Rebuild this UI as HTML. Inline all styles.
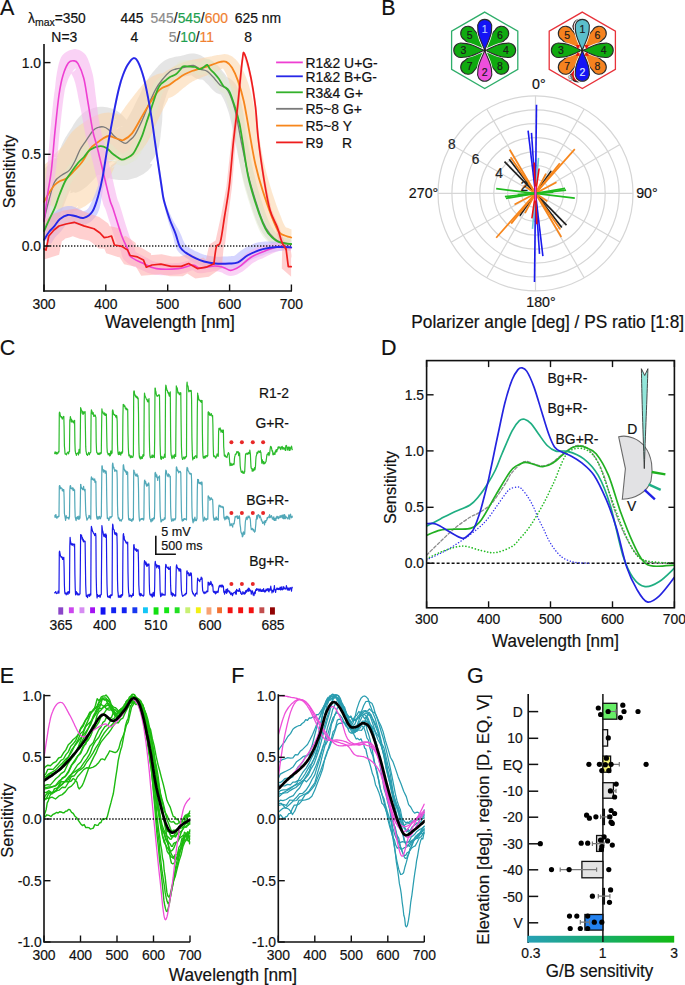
<!DOCTYPE html>
<html><head><meta charset="utf-8"><style>
html,body{margin:0;padding:0;background:#fff;width:685px;height:985px;overflow:hidden}
svg{display:block;font-family:"Liberation Sans", sans-serif}
</style></head><body>
<svg width="685" height="985" viewBox="0 0 685 985">
<rect width="685" height="985" fill="#fff"/>
<text transform="translate(0,14.6) scale(1,1.04)" font-size="21.5" text-anchor="start" fill="#111" stroke="#111" stroke-width="0.18" >A</text>
<text transform="translate(28,23.1) scale(1,1.04)" font-size="13.8" text-anchor="start" fill="#111" stroke="#111" stroke-width="0.18" >&#955;<tspan font-size="10.5" dy="3">max</tspan><tspan dy="-3">=350</tspan></text>
<text transform="translate(132,23.1) scale(1,1.04)" font-size="13.9" text-anchor="middle" fill="#111" stroke="#111" stroke-width="0.18" >445</text>
<text transform="translate(150.6,23.1) scale(1,1.04)" font-size="13.9" text-anchor="start" fill="#111" stroke="#111" stroke-width="0.18" ><tspan fill="#8c8c8c" stroke="#8c8c8c">545</tspan>/<tspan fill="#1fa050" stroke="#1fa050">545</tspan>/<tspan fill="#f08030" stroke="#f08030">600</tspan></text>
<text transform="translate(234.8,23.1) scale(1,1.04)" font-size="13.9" text-anchor="start" fill="#111" stroke="#111" stroke-width="0.18" >625 nm</text>
<text transform="translate(64.3,42) scale(1,1.04)" font-size="13.9" text-anchor="middle" fill="#111" stroke="#111" stroke-width="0.18" >N=3</text>
<text transform="translate(134.3,42) scale(1,1.04)" font-size="13.9" text-anchor="middle" fill="#111" stroke="#111" stroke-width="0.18" >4</text>
<text transform="translate(168.7,42) scale(1,1.04)" font-size="13.9" text-anchor="start" fill="#111" stroke="#111" stroke-width="0.18" ><tspan fill="#8c8c8c" stroke="#8c8c8c">5</tspan>/<tspan fill="#1fa050" stroke="#1fa050">10</tspan>/<tspan fill="#f08030" stroke="#f08030">11</tspan></text>
<text transform="translate(248,42) scale(1,1.04)" font-size="13.9" text-anchor="middle" fill="#111" stroke="#111" stroke-width="0.18" >8</text>
<defs><clipPath id="clipA"><rect x="44" y="40" width="247.5" height="251"/></clipPath></defs>
<g clip-path="url(#clipA)">
<path d="M30.5,216.7 L30.8,215.2 L31.2,213.1 L31.7,210.6 L32.3,207.8 L32.9,204.8 L33.5,201.8 L34.1,198.8 L34.7,196.2 L35.3,193.7 L35.8,191.3 L36.4,188.7 L37.1,186 L37.8,183.3 L38.6,180.5 L39.5,177.7 L40.7,174.8 L42.3,171.8 L44.2,169.1 L46.3,166.8 L48.2,164.9 L49.8,163.6 L50.9,162.6 L51.5,162.1 L52.1,161.4 L53.7,160.2 L55.6,158.9 L57,158 L57.8,157.4 L58,157.2 L57.7,157.2 L56.9,157.6 L56.2,158.1 L55.9,158.3 L56,158.1 L56.2,157.6 L56.6,156.9 L57,156 L57.6,155 L58.1,153.8 L58.6,152.7 L59,151.9 L59.4,151 L59.8,149.8 L60.3,148.4 L61,146.8 L61.7,144.9 L62.6,142.9 L63.6,140.9 L64.6,138.9 L65.6,137.2 L66.6,135.7 L67.5,134.3 L68.3,133 L69.1,131.8 L69.8,130.8 L70.4,129.8 L71.1,128.7 L71.9,127.4 L72.8,125.9 L73.7,124.3 L74.8,122.7 L75.9,121 L77.2,119.3 L78.7,117.4 L80.3,115.7 L82.1,114 L84.1,112.5 L86.2,111.1 L88.2,110.1 L89.8,109.4 L90.9,109 L91.7,108.7 L93,108.2 L94.6,107.7 L96.4,107.3 L98.2,107 L100.2,106.8 L102.3,106.8 L104.6,106.9 L106.9,107.2 L108.9,107.7 L110.9,108.2 L112.9,108.9 L114.8,109.8 L116.6,110.8 L118.3,111.8 L119.9,113 L121.6,114.4 L123.5,116.2 L125,117.9 L126.1,119.3 L126.9,120.3 L127.4,121 L127.7,121.4 L127.7,121.4 L127.6,121.3 L127.6,121.3 L128,121.7 L128.5,122 L129,122.4 L129.5,122.8 L130,123.3 L130.4,123.9 L130.9,124.5 L131.7,125.3 L132.4,126 L132.7,126.5 L132.5,126.6 L131.7,126.4 L130.2,126 L127.7,125.5 L124.3,125.6 L120.7,126.4 L118.2,127.6 L116.9,128.6 L116.4,129.3 L116.4,129.4 L116.9,129.1 L117.8,128.5 L119,127.6 L120.3,126.8 L121.2,126.2 L121.6,126.1 L121.7,126.3 L121.5,126.6 L121.4,127 L121.5,127.1 L121.8,126.8 L122.5,126.1 L123.4,124.9 L124.4,123.3 L125.5,121.6 L126.6,119.8 L127.7,117.9 L128.8,116.1 L129.8,114.4 L130.6,112.9 L131.4,111.4 L132.2,109.9 L133,108.4 L133.8,106.7 L134.6,104.9 L135.6,103 L136.6,101.1 L137.6,99.1 L138.7,97.1 L139.7,94.9 L140.7,92.6 L141.8,90.3 L142.8,88.1 L143.9,86 L144.9,83.9 L145.9,82.1 L146.9,80.4 L147.9,78.9 L148.9,77.5 L149.8,76.1 L150.8,74.9 L151.7,73.7 L152.6,72.5 L153.7,71.2 L154.8,69.9 L156,68.5 L157.2,67.2 L158.4,65.8 L159.7,64.5 L161.1,63.2 L162.6,62 L164.2,60.8 L166,59.7 L167.8,58.9 L169.4,58.3 L170.7,57.9 L171.7,57.7 L172.3,57.6 L173,57.4 L174.1,57.1 L175.4,56.8 L176.5,56.6 L177.5,56.5 L178.4,56.3 L179.3,56.2 L180,56.1 L180.7,56 L181.4,55.8 L182.3,55.5 L183.6,55.2 L185.2,54.7 L187,54.2 L189,53.8 L191.5,53.5 L194.5,53.5 L197.7,54.2 L200.5,55.2 L202.6,56.4 L204.1,57.5 L205,58.2 L205.4,58.5 L205.3,58.4 L204.8,58.2 L204.3,58.1 L204.3,58.1 L204.8,58.3 L205.8,58.5 L207.3,58.9 L209.2,59.5 L211.3,60.5 L213.5,61.7 L215.3,63.2 L216.8,64.5 L218.1,65.8 L219.2,67.1 L220.3,68.3 L221.2,69.4 L222,70.4 L222.7,71.4 L223.6,72.4 L224.5,73.6 L225.2,74.5 L225.8,75.3 L226.2,76 L226.5,76.4 L226.8,76.8 L226.8,76.9 L226.3,76.6 L226.1,76.6 L226.6,76.8 L228,77.5 L230,78.6 L232.3,80.3 L234.5,82.6 L236.2,85.1 L237.3,87.6 L238.2,90.1 L239,92.8 L239.8,95.6 L240.5,98.5 L241.1,101.6 L241.8,104.8 L242.4,108.1 L243,111.5 L243.5,115.2 L244,118.9 L244.5,122.8 L245,126.7 L245.5,130.7 L246,134.8 L246.8,138.8 L247.6,143.1 L248.5,147.6 L249.4,152.3 L250.4,157.1 L251.3,161.8 L252.3,166.3 L253.2,170.6 L254.2,174.6 L255.1,178.3 L256,181.8 L256.9,185.2 L257.8,188.4 L258.7,191.5 L259.6,194.5 L260.5,197.4 L261.4,200.3 L262.3,203.1 L263.2,205.9 L264,208.5 L264.8,211.1 L265.7,213.5 L266.5,215.7 L267.3,217.8 L268.1,219.8 L268.9,221.6 L269.6,223.2 L270.4,224.7 L271.2,226 L271.9,227.3 L272.7,228.4 L273.4,229.6 L274.3,230.7 L275.1,231.7 L275.8,232.6 L276.5,233.4 L277.2,234.1 L277.9,234.7 L278.6,235.2 L279.4,235.8 L280.3,236.3 L281.3,236.7 L282.7,237.2 L284.4,237.7 L286.2,238.2 L288,238.6 L289.7,239 L291.2,239.4 L292.3,239.6 L290.1,249.4 L289.1,249.2 L287.7,248.9 L285.9,248.6 L284,248.2 L281.9,247.7 L279.8,247.2 L277.7,246.5 L275.7,245.7 L274.1,244.9 L272.6,244 L271.3,243 L270,242 L268.9,240.9 L267.8,239.8 L266.8,238.6 L265.7,237.3 L264.7,236 L263.7,234.6 L262.7,233.2 L261.7,231.6 L260.8,229.9 L259.8,228.2 L258.9,226.3 L257.9,224.2 L257,222 L256,219.7 L255.1,217.2 L254.2,214.7 L253.3,212.1 L252.4,209.3 L251.5,206.6 L250.6,203.7 L249.6,200.8 L248.7,197.9 L247.7,194.8 L246.8,191.6 L245.8,188.3 L244.8,184.9 L243.8,181.2 L242.8,177.4 L241.8,173.2 L240.8,168.8 L239.8,164.2 L238.8,159.4 L237.8,154.7 L236.9,150 L235.9,145.5 L235,141.2 L234.2,137 L233.3,132.9 L232.5,129 L231.7,125.1 L230.9,121.4 L230.1,118 L229.3,114.7 L228.4,111.7 L227.5,108.9 L226.5,106.2 L225.5,103.6 L224.5,101.2 L223.5,99.1 L222.5,97.3 L221.6,95.7 L220.9,94.6 L220.5,94.2 L220.5,94.3 L220.5,94.4 L220.3,94.4 L219.6,94.2 L218.3,93.8 L216.4,92.9 L214.5,91.6 L213.1,90.3 L212,89.3 L211.1,88.3 L210.4,87.4 L209.7,86.6 L209.1,85.9 L208.6,85.3 L208,84.7 L207.1,83.8 L206.1,82.9 L205.2,81.9 L204.4,81.1 L203.6,80.4 L202.9,79.8 L202.4,79.4 L202.2,79.4 L202.3,79.5 L202.4,79.6 L202.2,79.7 L201.8,79.6 L200.9,79.6 L199.6,79.4 L198,79 L196,78.4 L194.1,77.3 L192.6,76.3 L191.6,75.4 L191,74.9 L190.8,74.7 L191.1,74.8 L191.7,74.9 L192.5,75 L192.9,75 L192.6,74.9 L191.8,75 L190.8,75.2 L189.5,75.5 L188.1,75.8 L186.6,76.1 L185.1,76.4 L183.7,76.6 L182.5,76.7 L181.5,76.8 L180.6,76.9 L179.9,76.9 L179.3,77 L178.7,77 L178.1,77.1 L177.2,77.3 L176.4,77.5 L175.8,77.5 L175.6,77.6 L175.5,77.5 L175.4,77.5 L175.3,77.5 L174.9,77.7 L174.6,78.3 L174.1,79.2 L173.5,80.3 L172.8,81.4 L172.1,82.7 L171.4,84 L170.8,85.3 L170.1,86.5 L169.5,87.7 L169,88.8 L168.5,89.8 L168.1,90.8 L167.7,91.8 L167.3,92.9 L166.8,94.1 L166.4,95.4 L165.9,97 L165.3,98.8 L164.7,100.9 L164,103 L163.3,105.3 L162.8,107.6 L162.6,110 L162.5,112.2 L162.4,114.2 L162.4,116 L162.3,117.8 L162.2,119.7 L162.1,121.7 L161.9,123.9 L161.6,126.2 L161.3,128.5 L161.1,130.9 L160.8,133.4 L160.6,136 L160.3,138.6 L159.9,141.3 L159.5,143.9 L159,146.6 L158.2,149.3 L157.1,152.2 L155.7,155.1 L153.9,157.9 L152.1,160.4 L150.7,162.3 L150,163.5 L150.3,163.9 L151.3,163.9 L152.1,164 L152.2,164.6 L151.7,165.9 L150.3,167.9 L147.8,170.7 L143.5,174.1 L136.7,177.6 L127.7,179.9 L118.7,180.1 L111.5,178.9 L106.2,177.3 L102.5,176 L99.9,175.2 L98.1,174.8 L97.2,175 L96.4,175.3 L95,175.3 L93.1,175 L91.4,174.2 L89.9,173 L88.4,171.6 L86.8,170.2 L85.1,168.6 L82.9,166.4 L80.4,163.7 L78.4,161.1 L77,159.3 L76.2,158.1 L76,157.7 L76.5,158.2 L77.9,159.7 L80,161.6 L81.8,163 L83.3,164 L85,165 L87,166 L89.2,166.9 L91.4,167.6 L93.6,168.2 L96.1,168.6 L98.8,168.9 L101.5,169 L103.8,168.9 L105.8,168.6 L107.6,168.3 L109.1,167.5 L110.4,166.8 L111,166.2 L110.7,165.9 L110.9,165.4 L112.4,164.5 L114.7,163 L117.1,161.1 L119.2,159.1 L120.6,157.3 L121.4,155.8 L121.7,154.8 L121.3,154.5 L120.5,154.7 L119.4,155.3 L118.1,156.1 L116.8,157.2 L115.3,158.4 L113.8,159.7 L112.4,160.9 L111,161.9 L109.9,162.7 L108.9,163.3 L108.1,163.7 L107.5,163.9 L106.9,164 L106.4,163.9 L106,163.9 L105.4,164.2 L104.7,164.9 L103.9,166 L102.9,167.5 L101.8,169.2 L100.5,171.3 L99.1,173.2 L97.9,174.6 L96.7,175.9 L95.5,177.4 L94.1,179 L92.5,180.7 L90.8,182.5 L88.8,184.4 L86.4,186.7 L83.4,189.1 L80.4,190.9 L77.8,192.1 L75.9,192.7 L74.8,192.9 L74.4,192.7 L74.6,192.2 L74.3,191.9 L72.9,192.5 L71.4,193.1 L70.5,193.2 L70.2,193 L70.3,192.4 L70.6,191.6 L70.7,190.8 L70.6,190.4 L70.2,190.6 L69.5,191.5 L68.8,193 L67.9,194.9 L67.1,197 L66.2,199.3 L65.3,201.8 L64.4,204.1 L63.5,206.5 L62.5,209.1 L61.6,211.8 L60.6,214.6 L59.8,217.2 L59,219.7 L58.3,221.7 L57.8,223.3Z" fill="#d4d4d4" fill-opacity="0.6" />
<path d="M28.3,193.2 L28.5,192.5 L28.8,191.6 L29.3,190.4 L29.8,189 L30.4,187.5 L31,185.9 L31.7,184.3 L32.4,182.8 L33,181.4 L33.6,180.1 L34.2,178.7 L34.9,177.2 L35.7,175.7 L36.6,174.1 L37.7,172.4 L38.9,170.7 L40.2,169 L41.7,167.4 L43.1,165.9 L44.6,164.6 L45.9,163.5 L47.1,162.5 L48.1,161.7 L49.5,160.6 L51.9,159.3 L54.4,158.1 L56,157.4 L56.6,157 L56.3,156.9 L55.1,157 L53.5,157.5 L52,158.1 L51.3,158.4 L51.1,158.1 L51.2,157.6 L51.5,156.9 L52.3,156.2 L53.2,155.3 L54.2,154.3 L55.4,153.2 L56.6,152.1 L57.7,151.1 L58.6,150.2 L59.5,149.4 L60.2,148.7 L60.8,148 L61.4,147.5 L61.8,147.1 L62.2,146.6 L62.8,145.8 L63.6,144.5 L64.6,142.9 L65.7,140.9 L67.1,138.7 L68.7,136.3 L70.7,133.6 L72.9,131.1 L75.1,129 L77.1,127.2 L79,125.8 L80.5,124.7 L81.5,124 L82.1,123.7 L82.5,123.5 L83.1,123.1 L84,122.4 L85,121.7 L86,121 L87.2,120.2 L88.4,119.4 L89.8,118.6 L91,118 L91.8,117.5 L92.7,117.1 L94,116.4 L95.7,115.6 L97.9,114.7 L100.6,113.8 L104,113 L108.1,112.6 L112.6,112.9 L116.2,113.6 L118.9,114.5 L120.8,115.3 L122.1,115.9 L122.8,116.3 L122.8,116.3 L122.6,116.3 L123,116.5 L123.7,116.8 L124.4,117 L124.9,117.3 L125.3,117.4 L125.5,117.5 L125.5,117.6 L126.4,117.8 L129.2,118.9 L131.9,120.2 L132.5,120.6 L130.1,119.5 L125,118.1 L119.3,118.1 L115.2,119.1 L113.8,119.7 L114,119.6 L114.6,119.4 L114.9,119.4 L115,119.4 L115,119.5 L114.9,119.7 L115,119.9 L115.1,120.2 L115.7,119.8 L116.7,118.8 L118,117.2 L119.5,115.2 L121,113 L122.6,110.8 L124.2,108.4 L125.7,106.3 L127.1,104.5 L128.3,102.8 L129.5,101.2 L130.6,99.7 L131.8,98.2 L132.9,96.7 L134.1,95.2 L135.2,93.8 L136.3,92.4 L137.4,91 L138.6,89.6 L139.7,88.2 L140.9,86.8 L142,85.4 L143.2,84.1 L144.5,82.7 L145.7,81.6 L146.9,80.4 L148.1,79.4 L149.4,78.4 L150.7,77.4 L152,76.7 L153.1,76 L154.5,75.4 L156.4,74.6 L158.2,73.9 L159.7,73.6 L160.8,73.4 L161.5,73.3 L161.9,73.3 L161.9,73.3 L161.9,73.5 L162.2,73.4 L162.7,73.2 L163.4,72.8 L164.2,72.3 L165.2,71.7 L166.3,71 L167.5,70.3 L168.7,69.5 L169.9,68.9 L171,68.2 L172.3,67.6 L173.6,66.8 L174.9,66.1 L176.2,65.4 L177.6,64.7 L178.9,64.1 L180.2,63.5 L181.5,63 L182.7,62.5 L183.8,62.1 L184.9,61.7 L186,61.4 L187.1,61.1 L188.2,60.8 L189.4,60.5 L190.6,60.2 L191.7,59.9 L192.7,59.7 L193.8,59.5 L194.8,59.4 L195.9,59.2 L197,59 L198.4,58.7 L199.9,58.5 L201.4,58.2 L203,57.9 L204.7,57.6 L206.2,57.3 L207.7,57.1 L209.1,56.8 L210.3,56.6 L211.4,56.4 L212.6,56.1 L213.8,55.8 L215,55.5 L216.3,55.3 L217.6,55 L218.9,54.9 L219.9,54.8 L220.8,54.7 L221.8,54.4 L223.1,54.2 L224.6,54.1 L226.2,54.2 L228,54.6 L229.5,55.2 L230.9,55.8 L232.2,56.5 L233.4,57.4 L234.6,58.4 L235.8,59.5 L236.9,60.7 L238,62 L239,63.4 L240,64.9 L240.9,66.5 L241.9,68.2 L242.8,69.9 L243.7,71.8 L244.5,73.8 L245.4,75.8 L246.3,78 L247.1,80.2 L248,82.5 L248.8,84.9 L249.5,87.4 L250.3,90.1 L251,93 L251.8,96.1 L252.5,99.4 L253.3,103 L254,106.9 L254.7,111 L255.4,115.2 L256.1,119.4 L256.9,123.7 L257.6,127.8 L258.3,131.8 L259,135.8 L259.7,139.9 L260.4,143.9 L261.1,147.9 L261.8,151.8 L262.5,155.6 L263.2,159.3 L264,162.9 L264.8,166.3 L265.6,169.6 L266.4,172.8 L267.3,176 L268.2,179.2 L269.1,182.3 L270,185.4 L271,188.5 L271.9,191.7 L273,194.9 L274.1,198.2 L275.1,201.3 L276.2,204.5 L277.3,207.4 L278.3,210.2 L279.3,212.8 L280.3,215.3 L281.2,217.6 L282,219.8 L282.8,221.7 L283.6,223.4 L284.3,224.9 L284.9,226 L285.4,226.8 L285.7,227.1 L285.7,227.2 L285.7,227.2 L285.8,227.3 L286.2,227.4 L287,227.7 L288.1,228.1 L289.2,228.5 L289.8,228.8 L290.2,228.9 L290.6,229.1 L291,229.2 L291.5,229.3 L292,229.5 L292.7,229.6 L293.2,229.7 L289.2,245.3 L289,245.2 L288.6,245.1 L288,245 L287.2,244.8 L286.2,244.6 L285.1,244.3 L283.9,243.9 L283,243.5 L282.5,243.3 L281.9,243.1 L280.8,242.8 L279.3,242.2 L277.6,241.4 L275.7,240.1 L273.8,238.5 L272.2,236.6 L270.9,234.6 L269.7,232.7 L268.6,230.6 L267.6,228.4 L266.7,226.2 L265.7,223.9 L264.7,221.5 L263.7,219 L262.6,216.2 L261.5,213.3 L260.3,210.2 L259.2,207 L258,203.7 L256.8,200.3 L255.7,197 L254.6,193.7 L253.6,190.4 L252.6,187.2 L251.6,184 L250.7,180.7 L249.7,177.4 L248.8,173.9 L247.9,170.4 L247,166.7 L246.2,162.9 L245.4,159 L244.6,155 L243.8,151 L243.1,147 L242.4,142.9 L241.7,138.9 L240.9,135 L240.2,130.9 L239.4,126.6 L238.7,122.4 L238,118.2 L237.2,114.1 L236.5,110.2 L235.8,106.5 L235.1,103.2 L234.4,100.2 L233.7,97.4 L233,94.8 L232.3,92.4 L231.6,90.2 L231,88 L230.3,85.9 L229.7,83.8 L229.1,81.9 L228.5,80.1 L227.9,78.4 L227.3,76.8 L226.8,75.4 L226.2,74.1 L225.7,73 L225.2,72 L224.8,71.2 L224.4,70.5 L224,70 L223.8,69.6 L223.5,69.3 L223.3,69 L223.2,68.8 L223.1,68.6 L223.2,68.6 L223.6,68.6 L223.9,68.6 L224,68.5 L223.8,68.5 L223.4,68.4 L222.7,68.6 L221.9,68.9 L221.3,69.1 L220.7,69.4 L219.9,69.7 L219,70.2 L217.9,70.7 L216.8,71.2 L215.5,71.8 L214.2,72.3 L212.8,72.9 L211.4,73.5 L209.9,74.1 L208.4,74.8 L206.8,75.4 L205.4,76 L204,76.6 L202.7,77.1 L201.5,77.6 L200.3,78 L199.3,78.4 L198.4,78.8 L197.6,79.1 L196.8,79.4 L196.1,79.7 L195.4,80.1 L194.6,80.5 L193.8,80.9 L193.1,81.2 L192.4,81.6 L191.8,82 L191.1,82.4 L190.5,82.8 L189.8,83.3 L189,83.8 L188.2,84.4 L187.3,85.1 L186.3,85.9 L185.3,86.7 L184.3,87.5 L183.2,88.3 L182.3,89.1 L181.5,89.7 L180.8,90.4 L179.9,91.1 L179,91.9 L178.1,92.8 L177,93.6 L175.8,94.5 L174.3,95.5 L172.7,96.4 L171.1,97.2 L169.8,97.7 L168.9,98.1 L168.3,98.4 L168,98.6 L168.2,98.7 L168.4,98.8 L168.2,99 L168,99.3 L168,99.4 L168,99.5 L168,99.7 L167.9,99.9 L167.7,100.3 L167.4,100.9 L167,101.7 L166.5,102.6 L165.9,103.7 L165.3,104.9 L164.6,106.2 L163.9,107.7 L163.1,109.2 L162.4,110.7 L161.6,112.2 L160.9,113.7 L160.2,115.2 L159.4,116.8 L158.6,118.4 L157.8,120.2 L156.9,122 L156.1,123.9 L155.2,125.8 L154.2,128 L153.1,130.5 L151.9,133.1 L150.7,135.9 L149.3,138.6 L147.8,141.4 L146,144.3 L144,147 L141.9,149.4 L139.8,151.6 L137.9,153.5 L136,155.1 L134.5,156.4 L133.3,157.3 L132.1,158.2 L129.6,159.5 L124.9,160.8 L118.8,160.9 L113.5,159.6 L110.7,158.3 L110.5,158.3 L112.3,159.3 L114,160.1 L113.7,160.2 L112.6,160.1 L111.6,159.9 L110.6,159.9 L109.8,159.8 L109.1,159.8 L108.5,159.8 L107.4,159.7 L105.7,159.3 L104.2,158.9 L103.2,158.8 L102.9,158.9 L103.2,159.3 L104.3,159.9 L106.6,160.6 L109.7,161 L112.7,161 L114.8,160.7 L116.3,160.4 L117.2,160.3 L117.6,160.4 L117.6,160.7 L117.1,161.2 L116.6,161.8 L116.6,162.1 L116.7,162.3 L116.8,162.5 L116.8,162.8 L116.6,163.2 L116.2,163.6 L115.7,164.2 L114.8,165.1 L113.5,166.3 L112.4,167.3 L111.8,168 L111.7,168.2 L112,168.2 L112.6,168 L113.2,167.6 L113.9,167.1 L114.3,166.8 L114.3,167.2 L113.8,168.4 L113.2,170 L112.3,172 L111.1,174.4 L109.7,177.1 L108,180 L106.3,182.6 L104.7,184.9 L103.2,186.9 L101.9,188.7 L100.7,190.3 L99.6,191.7 L98.7,192.9 L98,193.9 L97.3,195 L96.4,196.2 L95.4,197.6 L94.2,199.1 L92.6,200.5 L90.7,202.1 L88.4,203.8 L85.5,205.9 L81.6,208.1 L77.5,210 L74.1,211.1 L71.8,211.7 L70.9,211.8 L71.4,211.5 L73.2,210.7 L74.9,209.8 L75.3,209.5 L75.1,209.5 L75.3,209.3 L75.7,208.9 L76.3,208.3 L76.9,207.6 L77.5,207 L78,206.3 L78.2,205.9 L78.2,205.7 L78,205.9 L77.5,206.3 L77,206.8 L76.4,207.6 L75.8,208.4 L75.2,209.1 L74.7,209.7 L74.2,210.4 L73.5,211.4 L72.9,212.4 L72.2,213.4 L71.5,214.4 L70.9,215.4 L70.5,216.2Z" fill="#fbd3a6" fill-opacity="0.55" />
<path d="M38.6,228.6 L39,227.7 L39.5,226.6 L40.1,225.3 L40.7,223.8 L41.4,222.2 L42.1,220.6 L42.9,219 L43.6,217.5 L44.3,216 L45,214.5 L45.7,213 L46.5,211.6 L47.2,210.2 L47.8,208.8 L48.5,207.4 L49.1,206.1 L49.6,204.8 L50.1,203.4 L50.6,201.9 L51.1,200.5 L51.6,198.9 L52.2,197.3 L52.7,195.6 L53.4,193.9 L54.1,192.1 L54.8,190.3 L55.5,188.4 L56.3,186.5 L57.1,184.6 L57.9,182.7 L58.6,181 L59.4,179.3 L60.2,177.9 L60.9,176.6 L61.6,175.4 L62.3,174.4 L63,173.4 L63.7,172.5 L64.3,171.6 L65.1,170.6 L66,169.3 L66.9,167.9 L68,166.4 L69.1,164.9 L70.2,163.3 L71.3,161.9 L72.3,160.5 L73.4,159.2 L74.4,158 L75.3,157 L76.2,156.1 L77.1,155.3 L77.8,154.7 L78.4,154.1 L79,153.5 L79.5,153 L80,152.4 L80.6,151.7 L81.2,150.7 L82,149.7 L82.9,148.5 L84,147.2 L85.3,145.9 L86.9,144.7 L88.5,143.8 L90.1,143 L91.7,142.3 L93.4,141.7 L95.1,141.1 L96.8,140.7 L98.5,140.4 L100.2,140.2 L101.9,140.2 L103.7,140.5 L105.2,140.9 L106.6,141.4 L107.8,142 L108.9,142.6 L109.8,143.1 L110.7,143.7 L111.9,144.5 L112.9,145.4 L113.8,146.3 L114.5,147.1 L115.1,147.8 L115.7,148.4 L116.2,148.8 L116.8,149.3 L117.6,150 L118.7,150.8 L119.7,151.6 L120.7,152.3 L121.7,153 L122.5,153.5 L123,153.8 L123.1,153.8 L122.8,153.7 L122.4,153.8 L122.1,153.8 L122,153.8 L122.3,153.7 L122.8,153.4 L123.6,152.9 L124.5,152.4 L125.4,151.9 L126.1,151.6 L126.7,151.3 L127.1,151.1 L127.5,150.8 L127.8,150.6 L128.1,150.4 L128.4,150 L128.8,149.6 L129.2,148.9 L129.7,148 L130.3,147 L130.8,145.9 L131.4,144.8 L132,143.5 L132.6,142.3 L133.2,141.2 L133.8,140 L134.3,138.8 L134.9,137.6 L135.4,136.4 L135.9,135.2 L136.4,134 L136.9,132.8 L137.3,131.6 L137.7,130.4 L138.1,129.1 L138.5,127.8 L139,126.5 L139.4,125.1 L139.8,123.6 L140.3,122.1 L140.8,120.7 L141.3,119.2 L141.8,117.7 L142.3,116.2 L142.8,114.7 L143.3,113.2 L143.8,111.7 L144.3,110.2 L144.8,108.7 L145.3,107.2 L145.8,105.6 L146.3,104.1 L146.8,102.6 L147.3,101 L147.8,99.5 L148.3,98.1 L148.8,96.7 L149.3,95.2 L149.7,93.8 L150.2,92.3 L150.7,90.9 L151.2,89.5 L151.7,88.2 L152.2,86.9 L152.7,85.8 L153.2,84.8 L153.7,83.9 L154.2,83 L154.8,82.1 L155.4,81.4 L155.9,80.7 L156.6,80 L157.3,79.2 L158.2,78.4 L159,77.8 L159.7,77.2 L160.4,76.8 L160.9,76.4 L161.4,76.1 L161.8,75.8 L162.3,75.4 L162.7,75 L163.2,74.6 L163.8,74.1 L164.5,73.5 L165.2,73 L166,72.4 L167,71.8 L168,71.2 L169.1,70.8 L170,70.4 L170.8,70.1 L171.5,69.8 L172,69.6 L172.3,69.5 L172.5,69.4 L172.7,69.2 L172.9,69 L173.2,68.7 L173.6,68.3 L174,67.8 L174.5,67.2 L175,66.6 L175.4,66.1 L175.6,65.9 L175.8,65.6 L176.1,65.1 L176.5,64.5 L177.2,63.6 L178.1,62.6 L179.4,61.6 L181,60.7 L182.7,60.2 L184.2,60.1 L185.5,60.1 L186.5,60.2 L187.5,60.3 L188.3,60.4 L188.9,60.5 L189.4,60.5 L190,60.5 L190.7,60.6 L191.5,60.6 L192.3,60.6 L193.2,60.7 L194.2,60.8 L195.2,60.9 L196.4,61.2 L197.8,61.6 L198.9,62.2 L199.9,62.7 L200.5,63.1 L201,63.3 L201.1,63.4 L200.8,63.3 L200.1,63.2 L199.3,63.3 L198.8,63.4 L198.6,63.5 L198.7,63.4 L199,63.2 L199.5,62.9 L200.1,62.4 L200.6,62.1 L200.7,62 L200.8,61.9 L201.2,61.5 L201.7,61 L202.5,60.4 L203.9,59.5 L206.1,58.8 L209.2,59.1 L211.6,60.5 L212.9,61.9 L213.5,63 L214,63.8 L214.3,64.5 L214.5,64.9 L214.6,65.2 L214.7,65.3 L214.9,65.5 L215.3,65.9 L215.7,66.3 L216.3,66.9 L216.9,67.4 L217.6,68.1 L218.3,68.8 L219,69.5 L219.6,70.2 L220.2,70.9 L220.8,71.6 L221.4,72.3 L222,73.1 L222.7,73.9 L223.3,74.7 L223.9,75.6 L224.6,76.6 L225.2,77.6 L225.8,78.6 L226.3,79.5 L226.8,80.4 L227.2,81.1 L227.6,81.7 L227.9,82 L227.9,82.1 L228,82.1 L228.4,82.4 L229.3,82.8 L230.5,83.6 L231.9,84.8 L233.3,86.4 L234.4,88.2 L235.4,90.1 L236.3,92.1 L237.1,94.3 L237.9,96.5 L238.6,98.8 L239.4,101.1 L240.1,103.3 L240.7,105.4 L241.4,107.4 L242,109.5 L242.6,111.5 L243.2,113.6 L243.7,115.6 L244.3,117.7 L244.8,119.8 L245.3,121.9 L245.7,123.9 L246.1,125.8 L246.4,127.6 L246.7,129.4 L247,131.3 L247.3,133.5 L247.7,136 L248.2,139.1 L248.8,142.8 L249.5,147.1 L250.2,151.8 L250.9,156.8 L251.7,161.8 L252.5,166.6 L253.3,171.2 L254.1,175.3 L254.9,179 L255.7,182.5 L256.6,185.8 L257.5,189 L258.4,192.1 L259.4,195.1 L260.3,198.1 L261.2,201 L262.1,203.8 L263.1,206.6 L264,209.4 L264.9,212 L265.8,214.5 L266.7,216.8 L267.6,219 L268.3,220.9 L269.1,222.6 L269.7,224 L270.2,225.2 L270.7,226.1 L271.1,226.9 L271.6,227.7 L272.1,228.5 L272.8,229.3 L273.4,230.2 L274.2,231.1 L275,231.9 L275.9,232.7 L276.8,233.5 L277.7,234.3 L278.5,234.9 L279.2,235.4 L279.8,235.7 L280.3,236 L280.8,236.2 L281.3,236.4 L281.9,236.6 L282.6,236.7 L283.4,236.9 L284.3,237.1 L285.1,237.3 L286,237.4 L287,237.6 L288.1,237.7 L289.2,237.8 L290.2,237.9 L291.1,238 L291.8,238 L290.6,250 L290,249.9 L289.2,249.8 L288.1,249.7 L286.9,249.6 L285.7,249.5 L284.3,249.3 L283,249.1 L281.7,248.9 L280.7,248.6 L279.7,248.4 L278.7,248.1 L277.6,247.8 L276.4,247.4 L275.1,246.8 L273.9,246.2 L272.6,245.4 L271.4,244.6 L270.2,243.6 L269,242.6 L267.8,241.6 L266.6,240.4 L265.4,239.2 L264.3,237.9 L263.2,236.7 L262.3,235.4 L261.5,234.2 L260.8,233 L260,231.7 L259.4,230.3 L258.7,228.9 L258,227.3 L257.3,225.5 L256.4,223.4 L255.5,221.1 L254.6,218.7 L253.6,216.1 L252.7,213.3 L251.7,210.5 L250.7,207.6 L249.8,204.6 L248.9,201.7 L247.9,198.7 L247,195.6 L246,192.3 L245,188.9 L244.1,185.4 L243.2,181.7 L242.3,177.7 L241.5,173.4 L240.6,168.6 L239.8,163.6 L239,158.6 L238.3,153.6 L237.6,148.9 L237,144.6 L236.4,140.9 L235.9,137.9 L235.5,135.3 L235.1,133.2 L234.8,131.3 L234.6,129.6 L234.3,128 L233.9,126.3 L233.5,124.5 L233.1,122.5 L232.6,120.6 L232.1,118.7 L231.6,116.8 L231.1,114.8 L230.5,112.9 L229.9,111 L229.3,109 L228.6,106.9 L227.9,104.7 L227.2,102.6 L226.5,100.4 L225.8,98.4 L225.1,96.6 L224.5,95.1 L224,94 L223.6,93.5 L223.5,93.4 L223.4,93.3 L223.1,93.1 L222.5,92.8 L221.5,92.2 L220.2,91.2 L218.9,90 L217.9,88.7 L217.2,87.6 L216.5,86.5 L215.9,85.5 L215.4,84.6 L214.9,83.7 L214.5,83 L214.1,82.4 L213.6,81.8 L213.1,81.2 L212.7,80.6 L212.2,80 L211.7,79.4 L211.2,78.8 L210.7,78.2 L210.2,77.7 L209.7,77.2 L209.2,76.7 L208.7,76.2 L208.1,75.6 L207.4,75 L206.8,74.3 L206.1,73.6 L205.3,72.7 L204.5,71.7 L203.9,70.6 L203.5,69.8 L203.2,69.1 L203,68.8 L203.1,68.9 L203.7,69.5 L205.4,70.5 L207.7,70.7 L209.2,70.3 L209.7,70 L209.7,70 L209.4,70.2 L208.9,70.7 L208.2,71.4 L207.4,71.9 L207,72.2 L206.7,72.4 L206.2,72.8 L205.5,73.3 L204.6,73.9 L203.4,74.5 L201.8,75 L199.9,75.2 L198,75 L196.5,74.5 L195.4,73.9 L194.6,73.5 L194,73.1 L193.6,72.9 L193.4,72.8 L193.4,72.8 L193.2,72.8 L192.7,72.7 L192.2,72.7 L191.7,72.6 L191,72.6 L190.3,72.6 L189.5,72.5 L188.6,72.5 L187.6,72.4 L186.7,72.3 L185.9,72.2 L185.3,72.1 L184.9,72.1 L184.7,72.1 L184.9,72 L185.4,71.9 L186,71.6 L186.4,71.3 L186.5,71.1 L186.4,71.3 L186.2,71.6 L185.8,72.3 L185.2,73.1 L184.6,73.9 L184.1,74.4 L183.7,74.9 L183.2,75.5 L182.6,76.2 L182,76.9 L181.2,77.7 L180.3,78.4 L179.3,79.2 L178.2,80 L177,80.5 L176,80.9 L175.1,81.3 L174.4,81.6 L173.8,81.8 L173.3,82 L173,82.2 L172.7,82.4 L172.3,82.6 L171.9,83 L171.5,83.3 L171,83.7 L170.5,84.2 L169.9,84.7 L169.2,85.2 L168.4,85.8 L167.8,86.3 L167.2,86.7 L166.6,87 L166.2,87.3 L165.9,87.6 L165.7,87.8 L165.4,88 L165.1,88.4 L164.8,88.8 L164.6,89.1 L164.4,89.4 L164.1,89.8 L163.9,90.3 L163.5,90.9 L163.2,91.7 L162.8,92.6 L162.4,93.6 L162,94.8 L161.6,96.1 L161.1,97.5 L160.7,99 L160.2,100.4 L159.7,101.9 L159.2,103.3 L158.7,104.8 L158.2,106.3 L157.7,107.8 L157.2,109.4 L156.7,110.9 L156.2,112.5 L155.7,114 L155.2,115.5 L154.7,117 L154.2,118.5 L153.7,120 L153.1,121.5 L152.7,123 L152.2,124.5 L151.7,125.9 L151.3,127.2 L150.9,128.6 L150.4,129.9 L150,131.3 L149.6,132.7 L149.1,134.1 L148.6,135.6 L148.1,137 L147.6,138.4 L147,139.8 L146.4,141.2 L145.8,142.5 L145.2,143.9 L144.6,145.2 L144,146.4 L143.4,147.7 L142.8,148.9 L142.2,150.1 L141.5,151.4 L140.9,152.7 L140.2,154 L139.4,155.2 L138.5,156.5 L137.6,157.8 L136.5,158.9 L135.4,159.9 L134.3,160.7 L133.3,161.4 L132.3,161.9 L131.4,162.4 L130.6,162.8 L130.1,163 L129.6,163.3 L129.1,163.6 L128.3,164.1 L127.2,164.7 L125.8,165.2 L124.1,165.6 L122.1,165.7 L120.1,165.4 L118.2,164.8 L116.7,164 L115.2,163.1 L113.8,162.2 L112.6,161.2 L111.4,160.3 L110.3,159.5 L109.2,158.7 L108.2,157.8 L107.2,156.8 L106.3,155.9 L105.7,155.2 L105.1,154.6 L104.7,154.2 L104.4,153.9 L104.1,153.7 L103.5,153.3 L102.8,152.9 L102.3,152.6 L101.9,152.4 L101.6,152.3 L101.3,152.2 L101.1,152.2 L100.8,152.2 L100.2,152.3 L99.4,152.4 L98.3,152.7 L97.2,153 L96.1,153.4 L95.1,153.9 L94.2,154.3 L93.5,154.7 L93.1,155 L92.7,155.4 L92.2,156 L91.7,156.7 L91,157.6 L90.3,158.7 L89.4,159.8 L88.5,161 L87.5,162 L86.6,162.8 L85.9,163.6 L85.2,164.2 L84.5,164.8 L83.9,165.4 L83.3,166 L82.6,166.8 L81.8,167.8 L80.9,169.1 L79.9,170.4 L78.8,171.9 L77.8,173.3 L76.8,174.8 L75.8,176.2 L74.9,177.4 L74.1,178.6 L73.4,179.6 L72.7,180.5 L72.2,181.2 L71.7,181.9 L71.2,182.7 L70.7,183.6 L70.2,184.7 L69.5,186 L68.9,187.5 L68.1,189.2 L67.4,191 L66.7,192.8 L66,194.7 L65.3,196.5 L64.6,198.1 L64,199.7 L63.5,201.2 L63,202.7 L62.5,204.2 L62,205.8 L61.4,207.4 L60.8,209 L60.1,210.7 L59.4,212.3 L58.7,213.9 L57.9,215.5 L57.2,217 L56.5,218.4 L55.7,219.8 L55.1,221.2 L54.4,222.5 L53.8,224 L53.1,225.5 L52.4,227.1 L51.7,228.6 L51,230.1 L50.5,231.4 L50,232.6 L49.6,233.4Z" fill="#dfe9c9" fill-opacity="0.45" />
<path d="M37.3,235.6 L37.6,235.1 L38,234.3 L38.6,233.3 L39.3,232.1 L40,230.9 L40.8,229.6 L41.6,228.3 L42.5,227.1 L43.4,225.9 L44.2,224.8 L45.1,223.9 L45.8,223.1 L46.5,222.3 L47.2,221.7 L47.7,221 L48.1,220.5 L48.5,220 L49,219.3 L49.5,218.5 L50.2,217.5 L51,216.3 L51.9,215.1 L53.1,213.7 L54.4,212.5 L55.7,211.4 L56.9,210.5 L58.3,209.6 L59.6,208.8 L61.1,208 L62.6,207.3 L64.2,206.7 L66,206.2 L68,206 L70,205.9 L71.7,206.1 L73.1,206.5 L74.2,206.9 L75.1,207.3 L75.8,207.6 L76.8,208 L78.3,208.5 L79.7,209.2 L80.8,209.8 L81.7,210.3 L82.2,210.7 L82.5,210.9 L82.4,211.1 L82.3,211.3 L82.6,211.3 L83.3,211.2 L84.1,211.1 L84.9,210.8 L85.7,210.4 L86.5,209.9 L87.3,209.2 L88.1,208.4 L88.8,207.4 L89.6,206 L90.4,204.4 L91.3,202.6 L92.2,200.6 L93.1,198.6 L94,196.4 L94.9,194.3 L95.7,192.2 L96.5,190.1 L97.3,187.9 L98.1,185.7 L98.8,183.4 L99.5,180.9 L100.2,178.4 L101,175.8 L101.7,172.9 L102.4,169.8 L103.1,166.6 L103.9,163.4 L104.4,160 L104.9,156.8 L105.4,153.6 L105.9,150.6 L106.4,147.9 L106.8,145.2 L107.3,142.7 L107.7,140.3 L108.2,137.8 L108.6,135.4 L109,132.9 L109.5,130.3 L110,127.6 L110.5,124.9 L111,122.2 L111.5,119.4 L112,116.6 L112.6,113.8 L113.1,111.1 L113.6,108.4 L114.2,105.7 L114.7,103 L115.3,100.3 L115.8,97.6 L116.4,95 L116.9,92.5 L117.5,90.2 L118,88 L118.5,85.9 L119,84.1 L119.5,82.3 L120,80.7 L120.5,79.1 L121,77.6 L121.5,76.1 L122.1,74.7 L122.6,73.2 L123.2,71.8 L123.7,70.4 L124.3,69.1 L124.9,67.8 L125.5,66.6 L126.2,65.4 L126.9,64.3 L127.6,63.2 L128.3,62.1 L129.1,61 L129.9,60 L130.7,59.1 L131.6,58.3 L132.4,57.7 L133.3,57.2 L134.1,57.1 L135,57.1 L135.7,57.4 L136.5,57.9 L137.1,58.5 L137.7,59.3 L138.3,60.3 L138.9,61.4 L139.6,62.9 L140.3,64.6 L141.1,66.5 L141.8,68.6 L142.6,70.8 L143.4,73.1 L144.1,75.4 L144.8,77.7 L145.4,80.1 L146,82.4 L146.5,84.9 L147.1,87.4 L147.6,89.9 L148.1,92.6 L148.6,95.4 L149.2,98.2 L149.7,101.3 L150.3,104.6 L150.9,108.1 L151.5,111.6 L152.1,115.1 L152.6,118.5 L153.1,121.6 L153.6,124.5 L154,127.1 L154.3,129.4 L154.6,131.4 L154.8,133.4 L155.1,135.3 L155.4,137.3 L155.7,139.4 L156,141.9 L156.4,144.6 L156.8,147.5 L157.2,150.5 L157.7,153.7 L158.2,156.9 L158.6,160 L159.1,163 L159.5,165.9 L159.9,168.6 L160.3,171.3 L160.7,173.9 L161.1,176.5 L161.4,179 L161.8,181.4 L162.2,183.7 L162.5,185.9 L162.8,187.9 L163,189.7 L163.3,191.3 L163.5,192.9 L163.7,194.5 L164,196.1 L164.3,197.8 L164.8,199.8 L165.3,201.9 L166,204.2 L166.9,206.6 L167.9,209 L168.9,211.4 L170,213.8 L171,216.1 L172,218.2 L172.9,220.1 L173.9,221.9 L174.9,223.6 L175.9,225.3 L176.9,226.9 L177.9,228.6 L178.8,230.3 L179.7,232 L180.6,233.9 L181.4,235.7 L182.1,237.5 L182.7,239.2 L183.4,240.8 L184,242.1 L184.6,243.2 L185.2,243.9 L185.6,244.6 L186,245.1 L186.3,245.4 L186.6,245.7 L187,246 L187.6,246.4 L188.3,247 L189.2,247.6 L190.2,248.2 L191.2,248.8 L192.4,249.5 L193.7,250.2 L195,250.9 L196.3,251.5 L197.6,252.1 L198.7,252.6 L199.7,253.1 L200.6,253.5 L201.5,253.8 L202.2,254.1 L203,254.4 L203.8,254.6 L204.7,254.9 L205.7,255.1 L206.8,255.4 L208,255.6 L209.2,255.9 L210.4,256.1 L211.6,256.3 L212.9,256.4 L214.2,256.6 L215.5,256.6 L217,256.7 L218.6,256.7 L220.4,256.7 L222.2,256.6 L224,256.6 L225.7,256.5 L227.4,256.4 L228.9,256.3 L230.3,256.2 L231.6,256.1 L232.6,256.1 L233.3,256 L233.7,256 L234.1,255.9 L234.4,255.7 L234.8,255.6 L235.3,255.3 L235.9,254.8 L236.8,254.1 L237.9,253.1 L239.2,252 L240.8,250.7 L242.6,249.4 L244.5,248.2 L246.4,247.2 L248.3,246.3 L250.3,245.4 L252.3,244.5 L254.4,243.6 L256.5,242.8 L258.6,242.2 L260.8,241.9 L263,241.7 L265.1,241.5 L267.2,241.4 L269.3,241.4 L271.3,241.5 L273.3,241.5 L275.2,241.7 L277.1,241.8 L279.2,242 L281.3,242.4 L283.4,242.7 L285.4,243.1 L287.3,243.5 L288.9,243.9 L290.3,244.2 L291.3,244.4 L291.1,250.4 L290,250.4 L288.5,250.5 L286.9,250.5 L285,250.6 L283.1,250.7 L281.2,250.9 L279.3,251.1 L277.6,251.3 L276,251.6 L274.3,251.9 L272.5,252.3 L270.9,252.7 L269.2,253.1 L267.5,253.6 L265.9,254.1 L264.3,254.7 L262.7,255.4 L261,256 L259.2,256.6 L257.4,257.2 L255.7,257.9 L254,258.6 L252.3,259.3 L250.9,260 L249.8,260.6 L248.7,261.4 L247.5,262.3 L246.3,263.2 L245,264.3 L243.6,265.3 L242,266.3 L240.3,267.2 L238.7,267.9 L237.1,268.3 L235.6,268.6 L234.3,268.7 L233,268.7 L231.8,268.7 L230.7,268.7 L229.4,268.7 L227.9,268.8 L226.1,268.8 L224.2,268.8 L222.3,268.8 L220.3,268.7 L218.3,268.6 L216.4,268.5 L214.6,268.4 L212.9,268.2 L211.3,267.9 L209.7,267.6 L208.2,267.3 L206.8,267 L205.4,266.7 L204.1,266.3 L202.8,265.9 L201.6,265.6 L200.4,265.2 L199.3,264.8 L198.3,264.4 L197.2,263.9 L196.2,263.5 L195.1,262.9 L194,262.4 L192.7,261.7 L191.4,261 L190,260.2 L188.6,259.4 L187.2,258.6 L185.8,257.7 L184.5,256.8 L183.3,256 L182.3,255.3 L181.5,254.6 L180.6,253.9 L179.7,253.1 L178.8,252.2 L177.9,251.1 L177.1,249.9 L176.4,248.5 L175.7,246.9 L175.2,245.2 L174.7,243.5 L174.3,241.7 L173.9,239.9 L173.5,238.1 L173.1,236.4 L172.6,234.7 L172.1,233 L171.5,231.2 L170.9,229.5 L170.3,227.7 L169.7,225.8 L169,223.8 L168.4,221.8 L167.8,219.6 L167.2,217.4 L166.5,214.9 L165.9,212.4 L165.2,209.8 L164.6,207.3 L164,204.8 L163.4,202.4 L162.8,200.2 L162.4,198.3 L162,196.5 L161.7,194.8 L161.5,193.2 L161.3,191.6 L161.1,189.9 L160.8,188.1 L160.5,186.1 L160.2,184 L159.8,181.7 L159.5,179.3 L159.1,176.8 L158.7,174.2 L158.3,171.6 L157.9,168.9 L157.5,166.1 L157.1,163.3 L156.6,160.3 L156.2,157.1 L155.7,154 L155.3,150.8 L154.8,147.8 L154.4,144.8 L154,142.1 L153.7,139.7 L153.4,137.5 L153.1,135.5 L152.9,133.6 L152.6,131.7 L152.3,129.6 L152,127.4 L151.6,124.9 L151.2,122 L150.7,118.8 L150.1,115.4 L149.5,111.9 L149,108.4 L148.4,104.9 L147.8,101.6 L147.2,98.6 L146.7,95.7 L146.2,93 L145.6,90.3 L145.1,87.8 L144.6,85.3 L144,82.9 L143.4,80.6 L142.8,78.3 L142.2,76 L141.5,73.7 L140.7,71.4 L140,69.2 L139.2,67.2 L138.5,65.3 L137.8,63.7 L137.1,62.4 L136.5,61.3 L136,60.4 L135.5,59.8 L135.2,59.4 L134.8,59.2 L134.6,59.1 L134.3,59.1 L133.9,59.2 L133.4,59.4 L132.8,59.8 L132.2,60.5 L131.4,61.3 L130.7,62.2 L129.9,63.2 L129.2,64.3 L128.5,65.3 L127.9,66.4 L127.3,67.5 L126.7,68.7 L126.1,69.9 L125.6,71.2 L125,72.5 L124.5,73.9 L123.9,75.3 L123.4,76.8 L122.9,78.2 L122.4,79.7 L121.9,81.3 L121.5,82.9 L121,84.6 L120.5,86.4 L120,88.4 L119.4,90.6 L118.9,93 L118.3,95.5 L117.8,98.1 L117.2,100.7 L116.7,103.4 L116.1,106.1 L115.6,108.8 L115.1,111.5 L114.5,114.2 L114,117 L113.5,119.7 L113,122.5 L112.5,125.3 L112,128 L111.5,130.7 L111,133.3 L110.6,135.7 L110.1,138.2 L109.7,140.6 L109.2,143.1 L108.8,145.6 L108.4,148.2 L107.9,151 L107.4,153.9 L106.9,157.1 L106.4,160.3 L105.9,163.7 L105.6,167 L105.3,170.3 L105,173.5 L104.6,176.4 L104.3,179.2 L104,181.9 L103.7,184.4 L103.4,186.9 L103,189.3 L102.7,191.6 L102.3,194 L101.9,196.3 L101.5,198.6 L101.1,200.9 L100.7,203.3 L100.2,205.6 L99.7,207.9 L99,210.1 L98.1,212.2 L97.1,214.2 L96,216.1 L94.7,217.8 L93.3,219.3 L91.9,220.7 L90.4,221.9 L88.8,222.9 L87.2,223.8 L85.3,224.5 L83,225 L80.6,225.1 L78.6,224.9 L76.9,224.5 L75.5,224.2 L74.5,224 L73.8,224 L73.2,224 L72.2,224 L71,223.8 L70.1,223.7 L69.5,223.7 L69.1,223.8 L69.1,223.8 L69.2,223.8 L69.4,223.8 L69.3,223.7 L68.9,223.8 L68.4,224 L67.8,224.2 L67.2,224.5 L66.6,224.9 L66,225.3 L65.6,225.5 L65.4,225.7 L65.1,226 L64.7,226.5 L64.1,227.2 L63.5,228 L62.8,229 L62,230.1 L61.1,231.3 L60.1,232.3 L59.2,233.2 L58.4,234 L57.7,234.7 L57,235.3 L56.5,235.9 L56,236.4 L55.5,236.9 L55,237.6 L54.4,238.4 L53.8,239.4 L53.1,240.5 L52.5,241.5 L51.9,242.5 L51.4,243.3 L50.9,244Z" fill="#b9b9ff" fill-opacity="0.6" />
<path d="M40.1,221 L40.4,218.9 L40.7,216.2 L41.1,212.9 L41.5,209.3 L41.9,205.5 L42.4,201.6 L42.9,197.9 L43.3,194.4 L43.8,191.3 L44.2,188.3 L44.7,185.5 L45.1,182.7 L45.6,179.8 L46.1,176.7 L46.5,173.3 L47,169.5 L47.4,165.1 L47.9,160.3 L48.3,155.2 L48.7,149.8 L49.2,144.3 L49.6,138.9 L50.1,133.7 L50.5,128.7 L51,124 L51.4,119.3 L51.9,114.7 L52.3,110.2 L52.8,105.9 L53.2,101.7 L53.7,97.9 L54.1,94.3 L54.6,91.1 L55,88.2 L55.3,85.6 L55.5,83.1 L55.8,80.8 L56,78.6 L56.3,76.4 L56.7,74.2 L57,71.9 L57.5,69.7 L57.9,67.4 L58.4,65.3 L58.9,63.2 L59.5,61.2 L60.2,59.2 L61.2,57.1 L62.6,55 L64.7,53 L67,51.4 L69.5,50.3 L71.7,49.7 L73.4,49.3 L74.7,49.1 L75.3,49 L75.9,49.2 L77.2,49.5 L79.3,50.1 L82,51.4 L84.2,53.2 L85.8,55.1 L86.8,56.8 L87.6,58.3 L88.3,59.9 L88.9,61.7 L89.6,63.6 L90.3,65.7 L91,68 L91.7,70.4 L92.4,72.9 L93,75.6 L93.5,78.2 L93.9,81 L94.3,83.7 L94.6,86.5 L95,89.4 L95.3,92.4 L95.7,95.4 L96.1,98.6 L96.5,102.1 L97,106.1 L97.5,110.2 L98,114.4 L98.7,118.5 L99.3,122.4 L99.9,125.9 L100.5,128.9 L101,131.3 L101.4,133.1 L101.8,134.6 L102.2,136 L102.6,137.4 L103.2,139.2 L103.7,141.2 L104.4,143.8 L105.1,146.7 L105.9,149.9 L106.7,153.3 L107.5,156.9 L108.3,160.5 L109.2,164.2 L110,167.8 L110.9,171.3 L111.7,174.8 L112.5,178.5 L113.4,182.3 L114.2,186 L115.1,189.5 L115.8,192.8 L116.5,195.7 L117.1,198 L117.6,199.7 L117.8,200.5 L117.9,200.7 L118,200.8 L118.3,201.4 L118.8,202.5 L119.4,204 L120,206.1 L120.9,208.8 L121.9,212.1 L123,215.8 L124.2,219.8 L125.4,223.7 L126.6,227.5 L127.7,230.9 L128.6,233.6 L129.3,235.7 L130,237.4 L130.7,238.9 L131.3,240.1 L131.9,241.4 L132.5,242.6 L133.2,244 L133.9,245.6 L134.5,247.4 L134.9,249 L135.1,250.3 L135.3,251.1 L135.3,251.5 L135.3,251.4 L135.1,251.2 L135.2,251.3 L135.5,251.6 L136.3,252.2 L137.3,252.9 L138.5,253.6 L139.9,254.3 L141.5,255.1 L143.1,255.9 L144.8,256.8 L146.5,257.7 L148.2,258.6 L149.7,259.4 L151.2,260.2 L152.7,260.9 L154.2,261.5 L155.8,262 L157.5,262.4 L159.5,262.8 L161.9,263 L164.6,263.2 L167.4,263.3 L170.2,263.3 L172.9,263.2 L175.5,263.1 L177.8,263 L179.6,262.8 L181.4,262.5 L183.1,262 L184.9,261.5 L186.8,260.9 L188.7,260.4 L190.7,260 L192.9,259.8 L195.3,260.1 L197.4,260.8 L199,261.9 L199.9,262.7 L200.3,263.1 L200.3,263.2 L200.1,263.2 L200.3,263.2 L201.1,263.1 L202.5,262.9 L204.2,262.6 L206.2,262.2 L208.2,261.7 L210.3,261.3 L212.4,261 L214.3,260.8 L216.1,260.7 L217.7,260.8 L219.1,260.9 L220.5,261.2 L221.7,261.4 L222.8,261.7 L223.9,261.9 L225,262.3 L226.5,262.8 L227.8,263.4 L228.9,264 L229.8,264.5 L230.3,264.8 L230.6,264.9 L230.6,264.9 L230.6,264.9 L230.8,264.8 L231.3,264.7 L231.8,264.5 L232.5,264.2 L233.3,263.8 L234.2,263.3 L235.2,262.7 L236.2,262 L237.2,261.3 L238.3,260.3 L239.6,259.2 L241,257.9 L242.6,256.4 L244.3,255 L246.1,253.6 L248,252.2 L250,251.1 L251.9,250 L253.9,249.1 L255.9,248.1 L257.8,247.3 L259.9,246.7 L261.9,246.1 L263.8,245.6 L265.7,245.1 L267.7,244.5 L269.7,244 L271.8,243.5 L273.8,243.1 L275.9,242.7 L277.9,242.4 L279.9,242.3 L281.9,242.3 L283.8,242.6 L285.6,242.9 L287.3,243.4 L288.8,243.8 L290,244.2 L291,244.6 L291.7,244.7 L290.7,250.7 L289.8,250.5 L288.6,250.4 L287.4,250.2 L286,250.1 L284.6,250 L283.2,250 L281.9,250.1 L280.7,250.3 L279.4,250.7 L278,251.2 L276.4,251.8 L274.7,252.5 L272.9,253.3 L271.2,254.1 L269.4,255 L267.6,255.8 L265.8,256.7 L264.1,257.5 L262.3,258.4 L260.6,259.1 L258.8,259.8 L257.2,260.6 L255.6,261.4 L254.2,262.2 L252.9,263 L251.5,264 L250.2,265.2 L248.7,266.4 L247.3,267.7 L245.7,269 L244.2,270.3 L242.6,271.4 L241.1,272.3 L239.8,273.1 L238.4,273.8 L237.1,274.4 L235.6,275 L234.1,275.4 L232.6,275.8 L230.8,275.9 L228.8,275.8 L227,275.2 L225.5,274.6 L224.4,274 L223.4,273.4 L222.8,273 L222.3,272.7 L221.8,272.5 L221,272.3 L220,272 L219.2,271.8 L218.4,271.6 L217.6,271.4 L216.8,271.3 L215.9,271.3 L214.9,271.2 L213.6,271.3 L212.1,271.5 L210.2,271.9 L208.2,272.2 L206.1,272.6 L204,272.9 L201.9,273.2 L199.7,273.2 L197.5,272.9 L195.5,272.1 L194,271.1 L193.1,270.3 L192.7,270 L192.8,270 L193.1,270.2 L193.1,270.2 L192.5,270.3 L191.4,270.6 L190,271.1 L188.3,271.7 L186.3,272.4 L184.1,273.1 L181.6,273.7 L179,274.2 L176.4,274.5 L173.6,274.7 L170.6,275 L167.5,275.1 L164.4,275.2 L161.3,275.2 L158.3,275 L155.5,274.8 L152.8,274.3 L150.3,273.6 L148,272.9 L145.9,272 L144,271.1 L142.2,270.3 L140.6,269.5 L139,268.8 L137.4,268.1 L135.7,267.3 L133.9,266.5 L132.1,265.7 L130.4,264.8 L128.6,263.7 L126.9,262.6 L125.2,261.1 L123.7,259.4 L122.6,257.4 L121.8,255.5 L121.5,254 L121.3,252.8 L121.1,252 L121,251.4 L120.7,250.8 L120.3,250 L119.8,249 L119.2,247.8 L118.5,246.5 L117.7,244.9 L116.9,243.1 L116,240.9 L115,238.4 L114,235.5 L112.8,232 L111.5,228.1 L110.3,224.1 L109,220.2 L107.8,216.5 L106.8,213.3 L106,210.7 L105.4,209.1 L105,208.3 L104.9,207.9 L104.7,207.6 L104.2,206.6 L103.7,205.4 L103.2,203.9 L102.7,202 L102,199.4 L101.2,196.4 L100.4,193.1 L99.5,189.5 L98.6,185.8 L97.7,182 L96.8,178.4 L95.9,174.9 L95.1,171.4 L94.2,167.8 L93.3,164.1 L92.4,160.5 L91.5,156.9 L90.7,153.5 L89.9,150.4 L89.2,147.6 L88.6,145.4 L88.1,143.6 L87.6,142.1 L87.1,140.6 L86.6,139 L86.1,137.1 L85.5,134.8 L84.9,132.1 L84.3,128.8 L83.6,125.1 L82.9,121.1 L82.2,116.9 L81.4,112.8 L80.6,108.7 L79.8,104.9 L79.1,101.4 L78.4,98.2 L77.8,95.1 L77.3,92.2 L76.7,89.4 L76.2,86.9 L75.6,84.5 L75.1,82.4 L74.4,80.4 L73.8,78.6 L73,76.8 L72.2,75.2 L71.3,73.6 L70.5,72.2 L69.7,70.9 L69,69.9 L68.4,69.1 L68.1,68.8 L68.1,69.1 L68.8,70 L70.2,71.1 L72,72.1 L73.3,72.5 L73.6,72.7 L73.1,72.8 L72.5,72.6 L72.4,72.2 L72.7,71.9 L73.5,71.4 L74.4,70.7 L75.3,69.9 L75.8,69 L75.8,68.5 L75.3,68.6 L74.5,69.2 L73.6,70.2 L72.7,71.4 L71.7,72.8 L70.7,74.4 L69.8,76.1 L68.9,77.8 L68.1,79.6 L67.4,81.4 L66.7,83.3 L66.1,85.2 L65.4,87.4 L64.8,89.9 L64.4,92.6 L63.9,95.7 L63.4,99.1 L62.9,102.9 L62.4,107 L61.9,111.3 L61.4,115.7 L60.9,120.3 L60.4,125 L59.9,129.7 L59.4,134.5 L58.9,139.7 L58.4,145.1 L57.9,150.6 L57.4,156 L56.9,161.2 L56.3,166.1 L55.8,170.5 L55.3,174.5 L54.8,178 L54.2,181.2 L53.7,184.1 L53.2,187 L52.7,189.7 L52.2,192.6 L51.7,195.6 L51.2,199 L50.7,202.7 L50.1,206.5 L49.6,210.3 L49.1,213.9 L48.7,217.2 L48.4,219.9 L48.1,222Z" fill="#f6b4ee" fill-opacity="0.6" />
<path d="M49.8,237.4 L33.7,245.5 L36.6,231.1 L44.7,220.5 L53,213.9 L62.8,210.7 L75.8,208.4 L88,213.1 L99.2,217 L108.2,223.5 L109.7,226.6 L105.4,225.2 L120.7,228.5 L122.8,236.8 L125.8,235.9 L135.6,242.7 L136.3,246.8 L140.7,247.3 L151,253.4 L151.4,258.6 L150,255.2 L161.6,254.2 L172.2,256.5 L179.7,256.5 L190,253.6 L199.5,258.8 L203.3,257.6 L206,259.8 L209.3,244.6 L215.6,240.6 L221.3,214.4 L226.4,186.4 L231.5,139.8 L236.7,102.7 L241.3,60.3 L245.4,53.5 L252,77.8 L256.5,107.1 L259.4,139.9 L265.4,180.7 L271.4,209.6 L279.2,227 L284.2,240.9 L290.1,248.2 L294.8,264.8 L291.2,256.7 L291.2,276.7 L281.8,268.6 L282.1,250.2 L279.4,242.9 L275.6,228.2 L268.6,210.4 L263,181.1 L257.4,140.1 L254.5,107.3 L250,78.2 L243.6,54.3 L243.3,60.5 L239.3,102.9 L235.7,140.2 L232,187 L228.3,215.6 L225.2,243.2 L223.5,248.8 L221.8,267.8 L208.9,276.8 L195.3,278.4 L187.2,273.4 L182.9,276.3 L170,276.3 L160.2,274.2 L154,274.8 L141.2,275.8 L135.8,266.4 L134.3,266.5 L124.1,264.2 L119.6,257.3 L117.8,256.9 L106.2,253.2 L102.3,243.5 L110.6,248.8 L98.7,248.6 L91.8,242.5 L88.8,240.6 L79.6,238.7 L72.8,236.2 L69.3,237.6 L65.3,238.5 L63.8,240 L61.8,241.2 L59.1,254.8 L37.7,261.5Z" fill="#ffaaaa" fill-opacity="0.55" />
</g>
<line x1="44" y1="246" x2="291" y2="246" stroke="#222" stroke-width="1.3" stroke-dasharray="1.4,1.6"/>
<path d="M44.1,220 C44.9,216.7 47.2,206.3 49,200 C50.8,193.7 52.4,186.2 54.6,182 C56.8,177.8 59.6,176.9 62,175 C64.4,173.1 67,172.7 69.2,170.4 C71.4,168.1 73.2,164.4 75,161 C76.8,157.6 78.2,153.1 80,149.7 C81.8,146.3 83.9,143.8 86.1,140.6 C88.3,137.4 91.2,132.7 93.2,130.5 C95.2,128.3 96.3,128.1 98,127.5 C99.7,126.9 101.7,126.6 103.4,126.9 C105.1,127.2 106.7,128 108.4,129.4 C110.1,130.8 111.6,133.6 113.5,135.5 C115.4,137.4 118,139.3 120,140.6 C122,141.9 123.7,143.5 125.4,143.4 C127.1,143.3 128.4,141.4 130,140 C131.6,138.6 132.8,138.2 134.9,134.9 C137,131.6 140.1,124.8 142.3,120 C144.5,115.2 145.8,111.1 148,106 C150.2,100.9 153.2,93.9 155.5,89.6 C157.8,85.3 159.6,83 162,80 C164.4,77 167.7,73.2 170,71.4 C172.3,69.6 173.8,69.6 176,69 C178.2,68.4 180.3,68.3 183.2,67.7 C186.1,67.1 190.6,65.2 193.4,65.5 C196.2,65.8 197.7,68.2 200,69.2 C202.3,70.2 204.9,69.8 207.3,71.4 C209.7,73 212.5,76.4 214.6,78.7 C216.7,81 217.8,83 220,85 C222.2,87 225.2,86.2 227.7,90.4 C230.2,94.6 232.8,101.7 235,110 C237.2,118.3 238.7,129 240.9,140 C243.2,151 246,165.7 248.5,176 C251,186.3 253.6,194.3 256,202 C258.4,209.7 260.7,216.7 263,222 C265.3,227.3 267.5,230.8 270,234 C272.5,237.2 274.5,239.2 278,241 C281.5,242.8 289,243.9 291.2,244.5" fill="none" stroke="#7a7a7a" stroke-width="1.3" stroke-linejoin="round" stroke-linecap="round" />
<path d="M44.1,201.8 C44.9,200.3 47.2,195.8 49,193 C50.8,190.2 52.8,187 54.6,185 C56.4,183 58,182.1 60,181 C62,179.9 64,180.2 66.3,178.5 C68.6,176.8 71.3,173.8 74,171 C76.7,168.2 79.6,165.4 82.3,161.7 C85,158 87.7,151.9 90.2,148.7 C92.7,145.5 95.2,144.3 97.3,142.6 C99.4,140.9 101.1,139.6 103,138.5 C104.9,137.4 106.9,136.1 108.9,136 C110.9,135.9 113.2,137.4 115,138 C116.8,138.6 118.6,139.3 120,139.6 C121.4,139.9 121.4,141 123.4,140 C125.4,139 128.9,137.4 132.1,133.4 C135.2,129.4 139.3,121 142.3,115.9 C145.3,110.8 147.6,106.9 150,103 C152.4,99.1 154.9,95.1 156.9,92.6 C158.9,90.1 160.1,89.2 162,88 C163.9,86.8 166.3,86.6 168.6,85.3 C170.9,84 173.3,81.8 176,80 C178.7,78.2 182,75.8 184.7,74.3 C187.4,72.8 189.4,72 192,71 C194.6,70 196.7,69.5 200,68.5 C203.3,67.5 208.3,65.9 211.7,64.8 C215.1,63.7 218,62.4 220.4,61.9 C222.8,61.4 224.4,60.9 226.3,61.9 C228.2,62.9 230.2,64.5 232.1,67.7 C234,70.9 236.1,75.3 238,80.9 C239.9,86.5 241.9,92.5 243.8,101.3 C245.7,110 247.7,122.8 249.6,133.4 C251.5,144 253.3,155.2 255.5,164.8 C257.7,174.4 260.1,182.6 262.8,191.1 C265.5,199.6 268.8,209.1 271.5,215.9 C274.2,222.7 276.4,228.3 278.8,231.7 C281.2,235 284,235 286.1,236 C288.2,237 290.4,237.2 291.2,237.5" fill="none" stroke="#f7861c" stroke-width="1.8" stroke-linejoin="round" stroke-linecap="round" />
<path d="M44.1,231 C44.9,229.2 47.2,223.8 49,220 C50.8,216.2 52.9,212.4 54.6,208.4 C56.3,204.4 57.3,200.4 59,196 C60.7,191.6 63,185.7 64.8,182 C66.6,178.3 67.8,177.2 70,174 C72.2,170.8 75.7,165.8 78,163 C80.3,160.2 82,159.2 84,157 C86,154.8 87.5,151.5 90.2,149.7 C93,147.9 97.6,146.4 100.5,146.2 C103.4,146 105.3,147.4 107.4,148.7 C109.5,150 110.6,152.2 113,154 C115.4,155.8 119.2,159 121.6,159.6 C124,160.2 125.4,158.6 127.3,157.7 C129.2,156.8 131.2,156 133,153.9 C134.8,151.8 136.4,148.2 138,145 C139.6,141.8 141.2,138.4 142.5,134.9 C143.8,131.4 144.8,127.8 146,124 C147.2,120.2 148.7,116.1 150,112.1 C151.3,108.1 152.7,103.8 154,100 C155.3,96.2 156.5,92 157.7,89.3 C158.9,86.6 159.7,85.5 161,84 C162.3,82.5 164,81.7 165.5,80.5 C167,79.3 168.3,78 170,77 C171.7,76 174.2,75.5 175.9,74.3 C177.6,73.1 178.8,71.3 180,70 C181.2,68.7 181.7,66.9 183.2,66.3 C184.7,65.7 187.1,66.4 189,66.5 C190.9,66.6 193.1,66.5 194.9,67 C196.7,67.5 198.5,69.2 200,69.2 C201.5,69.2 202.8,67.7 204,67 C205.2,66.3 206.3,64.5 207.3,64.8 C208.3,65.1 208.8,67.5 210,69 C211.2,70.5 213.1,71.9 214.6,73.6 C216.1,75.3 217.5,76.9 219,79 C220.5,81.1 221.7,84 223.4,86 C225.1,88 227.3,87.6 229.2,91.1 C231.1,94.6 233.3,101.8 235,107.2 C236.7,112.6 238.2,117.7 239.4,123.2 C240.6,128.7 240.8,131.1 242.3,140 C243.8,148.9 246,166 248.2,176.5 C250.4,187 253.1,195 255.5,202.8 C257.9,210.6 260.7,218.2 262.8,223.2 C264.9,228.2 265.8,230.1 268,233 C270.2,235.9 273.4,238.7 275.9,240.4 C278.4,242.1 280.4,242.4 283,243 C285.6,243.6 289.8,243.8 291.2,244" fill="none" stroke="#33b12b" stroke-width="1.8" stroke-linejoin="round" stroke-linecap="round" />
<path d="M44.1,221.5 C44.7,217.1 46.3,203.6 47.5,195 C48.7,186.4 50.1,181 51.4,170 C52.7,159 53.9,141.7 55.2,129.2 C56.5,116.7 57.7,103.9 59,95 C60.3,86.1 61.2,81.4 62.8,76 C64.4,70.6 66.6,65.3 68.5,62.8 C70.4,60.3 72.6,60.8 74.2,60.9 C75.8,61 76.4,60.9 78,63.7 C79.6,66.5 82.1,72 83.7,78 C85.3,84 86.1,91.2 87.6,100 C89.1,108.8 91.2,122.9 92.7,130.5 C94.2,138.1 95,138.6 96.8,145.7 C98.6,152.8 101.2,164 103.4,173.1 C105.6,182.2 108.3,194.1 109.9,200 C111.5,205.9 111,202.4 113,208.4 C115,214.4 119.4,229.4 121.8,236 C124.2,242.6 125.9,244.8 127.3,248.2 C128.7,251.6 127.8,253.8 130.2,256.2 C132.6,258.6 137.5,260.7 141.9,262.8 C146.3,264.9 150.4,267.6 156.5,268.6 C162.6,269.6 172.3,269.2 178.4,268.6 C184.5,268 189.4,265.1 193,265 C196.6,264.9 196.4,268 200,268.2 C203.6,268.4 210.7,266.1 214.6,266 C218.5,265.9 220.7,266.7 223.4,267.4 C226.1,268.1 228,270.5 230.7,270.4 C233.4,270.3 236,268.9 239.4,266.7 C242.8,264.5 246.7,259.9 251.1,257.2 C255.5,254.5 260.8,252.5 265.7,250.7 C270.6,248.9 276.1,246.8 280.3,246.3 C284.6,245.8 289.4,247.5 291.2,247.7" fill="none" stroke="#ee3fd2" stroke-width="1.6" stroke-linejoin="round" stroke-linecap="round" />
<path d="M44.1,239.8 C44.9,238.5 47.2,234.3 49,232 C50.8,229.7 52.8,228.1 54.6,225.9 C56.4,223.7 57.8,220.8 60,219 C62.2,217.2 65.2,215.5 67.7,215 C70.2,214.5 72.3,215.5 75,216 C77.7,216.5 80.9,218.7 83.8,217.9 C86.7,217.1 90.2,215.1 92.6,211.3 C95,207.5 96.7,201.2 98.4,195.3 C100.1,189.4 101.4,183.5 102.8,176.1 C104.2,168.7 105.6,158.4 106.9,150.8 C108.2,143.2 109.2,137.5 110.5,130.5 C111.8,123.5 113.2,115.6 114.6,108.6 C116,101.5 117.6,93.8 119,88.2 C120.4,82.6 121.5,78.9 123,75 C124.5,71.1 125.9,67.6 127.7,64.8 C129.5,62 131.9,58.7 133.6,58.2 C135.3,57.7 136.3,58.6 138,61.9 C139.7,65.2 142.1,71.9 143.8,78 C145.5,84.1 146.7,90.6 148.2,98.4 C149.7,106.2 151.5,117.4 152.6,124.7 C153.7,132 154,135.1 155,142 C156,148.9 157.4,158.7 158.5,166 C159.6,173.3 160.6,180.3 161.5,186 C162.4,191.7 162.5,194.5 163.8,200 C165.2,205.5 167.7,213.4 169.6,219 C171.5,224.6 173.8,229 175.5,233.6 C177.2,238.2 178.2,243.5 179.9,246.7 C181.6,249.9 183,250.7 185.7,252.6 C188.4,254.5 192.8,256.9 195.9,258.4 C199,259.9 200.8,260.6 204,261.5 C207.2,262.4 210.8,263.2 215,263.5 C219.2,263.8 225.4,263.7 229.2,263.5 C233,263.3 234.8,263.7 238,262.3 C241.2,260.9 244.1,257.2 248.2,255 C252.3,252.8 257.9,250.5 262.8,249.2 C267.7,247.9 272.7,247.3 277.4,247 C282.1,246.7 288.9,247.3 291.2,247.4" fill="none" stroke="#2727e8" stroke-width="1.9" stroke-linejoin="round" stroke-linecap="round" />
<path d="M44,249 L46,250 L48.8,236 L54,230 L59,226 L66,224 L74.3,222.3 L83.8,225.9 L94,228.8 L100,233 L104.2,237.6 L108,237 L111.5,236 L114.5,245 L121.8,246.4 L127.6,250 L130.2,255.5 L137.5,256.9 L143.4,259.9 L146.3,267.2 L152,265 L160.9,264.2 L171.1,266.4 L181.3,266.4 L188.6,263.5 L197.4,268.6 L206.1,267.2 L213.9,263.8" fill="none" stroke="#ee1d1d" stroke-width="1.7" stroke-linejoin="round" stroke-linecap="round" />
<path d="M213.9,263.8 C214.3,260.9 215.3,250.3 216.4,246.7 C217.5,243 219,247.2 220.4,241.9 C221.8,236.6 223.3,224.2 224.8,215 C226.3,205.8 227.7,199.2 229.2,186.7 C230.7,174.2 232.1,154 233.6,140 C235.1,126 236.6,116.1 238,102.8 C239.4,89.5 241.2,68.5 242.3,60.4 C243.4,52.2 243.1,51 244.5,53.9 C245.9,56.8 249.2,69.1 251,78 C252.8,86.9 254.3,96.9 255.5,107.2 C256.7,117.5 256.9,127.7 258.4,140 C259.8,152.3 262.3,169.2 264.2,180.9 C266.1,192.6 267.8,202.2 270,210 C272.2,217.8 275.4,222.3 277.4,227.6 C279.4,232.9 280.4,238.3 281.8,241.9 C283.2,245.5 285.4,248 286.1,249.2" fill="none" stroke="#ee1d1d" stroke-width="1.7" stroke-linejoin="round" stroke-linecap="round" />
<path d="M286.1,249.2 L288.3,266.7 L291.2,266.7" fill="none" stroke="#ee1d1d" stroke-width="1.7" stroke-linejoin="round" stroke-linecap="round" />
<line x1="44" y1="44" x2="44" y2="291.8" stroke="#111" stroke-width="1.6" />
<line x1="43.2" y1="291" x2="292" y2="291" stroke="#111" stroke-width="1.6" />
<line x1="44" y1="62.6" x2="50.5" y2="62.6" stroke="#111" stroke-width="1.4" />
<text transform="translate(41,67.7) scale(1,1.04)" font-size="13.9" text-anchor="end" fill="#111" stroke="#111" stroke-width="0.18" >1.0</text>
<line x1="44" y1="154.3" x2="50.5" y2="154.3" stroke="#111" stroke-width="1.4" />
<text transform="translate(41,159.4) scale(1,1.04)" font-size="13.9" text-anchor="end" fill="#111" stroke="#111" stroke-width="0.18" >0.5</text>
<line x1="44" y1="246" x2="50.5" y2="246" stroke="#111" stroke-width="1.4" />
<text transform="translate(41,251.1) scale(1,1.04)" font-size="13.9" text-anchor="end" fill="#111" stroke="#111" stroke-width="0.18" >0.0</text>
<line x1="44" y1="291" x2="44" y2="284.5" stroke="#111" stroke-width="1.4" />
<text transform="translate(44,308.8) scale(1,1.04)" font-size="13.9" text-anchor="middle" fill="#111" stroke="#111" stroke-width="0.18" >300</text>
<line x1="105.8" y1="291" x2="105.8" y2="284.5" stroke="#111" stroke-width="1.4" />
<text transform="translate(105.8,308.8) scale(1,1.04)" font-size="13.9" text-anchor="middle" fill="#111" stroke="#111" stroke-width="0.18" >400</text>
<line x1="167.7" y1="291" x2="167.7" y2="284.5" stroke="#111" stroke-width="1.4" />
<text transform="translate(167.7,308.8) scale(1,1.04)" font-size="13.9" text-anchor="middle" fill="#111" stroke="#111" stroke-width="0.18" >500</text>
<line x1="229.6" y1="291" x2="229.6" y2="284.5" stroke="#111" stroke-width="1.4" />
<text transform="translate(229.6,308.8) scale(1,1.04)" font-size="13.9" text-anchor="middle" fill="#111" stroke="#111" stroke-width="0.18" >600</text>
<line x1="291.4" y1="291" x2="291.4" y2="284.5" stroke="#111" stroke-width="1.4" />
<text transform="translate(291.4,308.8) scale(1,1.04)" font-size="13.9" text-anchor="middle" fill="#111" stroke="#111" stroke-width="0.18" >700</text>
<text transform="translate(14.5,171.5) rotate(-90)" font-size="16.3" text-anchor="middle" fill="#111" stroke="#111" stroke-width="0.18">Sensitivity</text>
<text transform="translate(170,327.6) scale(1,1.04)" font-size="17.4" text-anchor="middle" fill="#111" stroke="#111" stroke-width="0.18" >Wavelength [nm]</text>
<line x1="276.1" y1="62.4" x2="302.8" y2="62.4" stroke="#ee3fd2" stroke-width="1.8" />
<text transform="translate(305.5,67.9) scale(1,1.04)" font-size="13.9" text-anchor="start" fill="#111" stroke="#111" stroke-width="0.18" >R1&amp;2 U+G-</text>
<line x1="276.1" y1="76.3" x2="302.8" y2="76.3" stroke="#2727e8" stroke-width="1.8" />
<text transform="translate(305.5,81.8) scale(1,1.04)" font-size="13.9" text-anchor="start" fill="#111" stroke="#111" stroke-width="0.18" >R1&amp;2 B+G-</text>
<line x1="276.1" y1="92.3" x2="302.8" y2="92.3" stroke="#33b12b" stroke-width="1.8" />
<text transform="translate(305.5,97.8) scale(1,1.04)" font-size="13.9" text-anchor="start" fill="#111" stroke="#111" stroke-width="0.18" >R3&amp;4 G+</text>
<line x1="276.1" y1="108.8" x2="302.8" y2="108.8" stroke="#7a7a7a" stroke-width="1.8" />
<text transform="translate(305.5,114.3) scale(1,1.04)" font-size="13.9" text-anchor="start" fill="#111" stroke="#111" stroke-width="0.18" >R5~8 G+</text>
<line x1="276.1" y1="125.6" x2="302.8" y2="125.6" stroke="#f7861c" stroke-width="1.8" />
<text transform="translate(305.5,131.1) scale(1,1.04)" font-size="13.9" text-anchor="start" fill="#111" stroke="#111" stroke-width="0.18" >R5~8 Y</text>
<line x1="276.1" y1="142.4" x2="302.8" y2="142.4" stroke="#ee1d1d" stroke-width="1.8" />
<text transform="translate(305.5,147.9) scale(1,1.04)" font-size="13.9" text-anchor="start" fill="#111" stroke="#111" stroke-width="0.18" >R9<tspan x="36.4">R</tspan></text>
<text transform="translate(381.3,14.9) scale(1,1.04)" font-size="21.5" text-anchor="start" fill="#111" stroke="#111" stroke-width="0.18" >B</text>
<path d="M484.7,12.1 L517.8,31.2 L517.8,69.4 L484.7,88.5 L451.6,69.4 L451.6,31.2Z" fill="#fff" stroke="#2fae6a" stroke-width="1.3"/>
<path d="M0,0 C2.1,-6.5 7.2,-13.5 6.9,-21.7 A7.2,7.2 0 1,0 -6.9,-21.7 C-7.2,-13.5 -2.1,-6.5 0,0 Z" transform="translate(484.7,50.3) rotate(315)" fill="#10aa10" stroke="#fff" stroke-width="2.6" stroke-linejoin="round"/>
<path d="M0,0 C2.1,-6.5 7.2,-13.5 6.9,-21.7 A7.2,7.2 0 1,0 -6.9,-21.7 C-7.2,-13.5 -2.1,-6.5 0,0 Z" transform="translate(484.7,50.3) rotate(315)" fill="#10aa10" stroke="#2a2a2a" stroke-width="1.1" stroke-linejoin="round"/>
<path d="M0,0 C2.1,-6.5 7.2,-13.5 6.9,-21.7 A7.2,7.2 0 1,0 -6.9,-21.7 C-7.2,-13.5 -2.1,-6.5 0,0 Z" transform="translate(484.7,50.3) rotate(45)" fill="#10aa10" stroke="#fff" stroke-width="2.6" stroke-linejoin="round"/>
<path d="M0,0 C2.1,-6.5 7.2,-13.5 6.9,-21.7 A7.2,7.2 0 1,0 -6.9,-21.7 C-7.2,-13.5 -2.1,-6.5 0,0 Z" transform="translate(484.7,50.3) rotate(45)" fill="#10aa10" stroke="#2a2a2a" stroke-width="1.1" stroke-linejoin="round"/>
<path d="M0,0 C2.1,-6.5 7.2,-13.5 6.9,-21.7 A7.2,7.2 0 1,0 -6.9,-21.7 C-7.2,-13.5 -2.1,-6.5 0,0 Z" transform="translate(484.7,50.3) rotate(225)" fill="#10aa10" stroke="#fff" stroke-width="2.6" stroke-linejoin="round"/>
<path d="M0,0 C2.1,-6.5 7.2,-13.5 6.9,-21.7 A7.2,7.2 0 1,0 -6.9,-21.7 C-7.2,-13.5 -2.1,-6.5 0,0 Z" transform="translate(484.7,50.3) rotate(225)" fill="#10aa10" stroke="#2a2a2a" stroke-width="1.1" stroke-linejoin="round"/>
<path d="M0,0 C2.1,-6.5 7.2,-13.5 6.9,-21.7 A7.2,7.2 0 1,0 -6.9,-21.7 C-7.2,-13.5 -2.1,-6.5 0,0 Z" transform="translate(484.7,50.3) rotate(135)" fill="#10aa10" stroke="#fff" stroke-width="2.6" stroke-linejoin="round"/>
<path d="M0,0 C2.1,-6.5 7.2,-13.5 6.9,-21.7 A7.2,7.2 0 1,0 -6.9,-21.7 C-7.2,-13.5 -2.1,-6.5 0,0 Z" transform="translate(484.7,50.3) rotate(135)" fill="#10aa10" stroke="#2a2a2a" stroke-width="1.1" stroke-linejoin="round"/>
<path d="M0,0 C2.1,-6.5 7.2,-13.5 6.9,-21.7 A7.2,7.2 0 1,0 -6.9,-21.7 C-7.2,-13.5 -2.1,-6.5 0,0 Z" transform="translate(484.7,50.3) rotate(270)" fill="#10aa10" stroke="#fff" stroke-width="2.6" stroke-linejoin="round"/>
<path d="M0,0 C2.1,-6.5 7.2,-13.5 6.9,-21.7 A7.2,7.2 0 1,0 -6.9,-21.7 C-7.2,-13.5 -2.1,-6.5 0,0 Z" transform="translate(484.7,50.3) rotate(270)" fill="#10aa10" stroke="#2a2a2a" stroke-width="1.1" stroke-linejoin="round"/>
<path d="M0,0 C2.1,-6.5 7.2,-13.5 6.9,-21.7 A7.2,7.2 0 1,0 -6.9,-21.7 C-7.2,-13.5 -2.1,-6.5 0,0 Z" transform="translate(484.7,50.3) rotate(90)" fill="#10aa10" stroke="#fff" stroke-width="2.6" stroke-linejoin="round"/>
<path d="M0,0 C2.1,-6.5 7.2,-13.5 6.9,-21.7 A7.2,7.2 0 1,0 -6.9,-21.7 C-7.2,-13.5 -2.1,-6.5 0,0 Z" transform="translate(484.7,50.3) rotate(90)" fill="#10aa10" stroke="#2a2a2a" stroke-width="1.1" stroke-linejoin="round"/>
<path d="M0,0 C2.1,-6.5 7.2,-13.5 6.9,-21.7 A7.2,7.2 0 1,0 -6.9,-21.7 C-7.2,-13.5 -2.1,-6.5 0,0 Z" transform="translate(484.7,50.3) rotate(0)" fill="#1414f5" stroke="#fff" stroke-width="2.6" stroke-linejoin="round"/>
<path d="M0,0 C2.1,-6.5 7.2,-13.5 6.9,-21.7 A7.2,7.2 0 1,0 -6.9,-21.7 C-7.2,-13.5 -2.1,-6.5 0,0 Z" transform="translate(484.7,50.3) rotate(0)" fill="#1414f5" stroke="#2a2a2a" stroke-width="1.1" stroke-linejoin="round"/>
<path d="M0,0 C2.1,-6.5 7.2,-13.5 6.9,-21.7 A7.2,7.2 0 1,0 -6.9,-21.7 C-7.2,-13.5 -2.1,-6.5 0,0 Z" transform="translate(484.7,50.3) rotate(180)" fill="#ee4fdc" stroke="#fff" stroke-width="2.6" stroke-linejoin="round"/>
<path d="M0,0 C2.1,-6.5 7.2,-13.5 6.9,-21.7 A7.2,7.2 0 1,0 -6.9,-21.7 C-7.2,-13.5 -2.1,-6.5 0,0 Z" transform="translate(484.7,50.3) rotate(180)" fill="#ee4fdc" stroke="#2a2a2a" stroke-width="1.1" stroke-linejoin="round"/>
<circle cx="484.7" cy="50.3" r="1.6" fill="#222"/>
<text transform="translate(484.7,33.1) scale(1,1.04)" font-size="10.5" text-anchor="middle" fill="#b8c8ff" stroke="#b8c8ff" stroke-width="0.18" >1</text>
<text transform="translate(484.7,75.7) scale(1,1.04)" font-size="10.5" text-anchor="middle" fill="#1a1a1a" stroke="#1a1a1a" stroke-width="0.18" >2</text>
<text transform="translate(463.4,54.4) scale(1,1.04)" font-size="10.5" text-anchor="middle" fill="#1a1a1a" stroke="#1a1a1a" stroke-width="0.18" >3</text>
<text transform="translate(506,54.4) scale(1,1.04)" font-size="10.5" text-anchor="middle" fill="#1a1a1a" stroke="#1a1a1a" stroke-width="0.18" >4</text>
<text transform="translate(469.6,39.3) scale(1,1.04)" font-size="10.5" text-anchor="middle" fill="#1a1a1a" stroke="#1a1a1a" stroke-width="0.18" >5</text>
<text transform="translate(499.8,39.3) scale(1,1.04)" font-size="10.5" text-anchor="middle" fill="#1a1a1a" stroke="#1a1a1a" stroke-width="0.18" >6</text>
<text transform="translate(469.6,69.5) scale(1,1.04)" font-size="10.5" text-anchor="middle" fill="#1a1a1a" stroke="#1a1a1a" stroke-width="0.18" >7</text>
<text transform="translate(499.8,69.5) scale(1,1.04)" font-size="10.5" text-anchor="middle" fill="#1a1a1a" stroke="#1a1a1a" stroke-width="0.18" >8</text>
<path d="M582.3,12.1 L615.4,31.2 L615.4,69.4 L582.3,88.5 L549.2,69.4 L549.2,31.2Z" fill="#fff" stroke="#e8323a" stroke-width="1.3"/>
<path d="M0,0 C2.1,-6.5 7.2,-13.5 6.9,-21.7 A7.2,7.2 0 1,0 -6.9,-21.7 C-7.2,-13.5 -2.1,-6.5 0,0 Z" transform="translate(580.7,51.1) rotate(187)" fill="#e01010" stroke="#fff" stroke-width="2.6" stroke-linejoin="round"/>
<path d="M0,0 C2.1,-6.5 7.2,-13.5 6.9,-21.7 A7.2,7.2 0 1,0 -6.9,-21.7 C-7.2,-13.5 -2.1,-6.5 0,0 Z" transform="translate(580.7,51.1) rotate(187)" fill="#e01010" stroke="#2a2a2a" stroke-width="1.1" stroke-linejoin="round"/>
<path d="M0,0 C2.1,-6.5 7.2,-13.5 6.9,-21.7 A7.2,7.2 0 1,0 -6.9,-21.7 C-7.2,-13.5 -2.1,-6.5 0,0 Z" transform="translate(581.5,50.3) rotate(357)" fill="#e01010" stroke="#fff" stroke-width="2.6" stroke-linejoin="round"/>
<path d="M0,0 C2.1,-6.5 7.2,-13.5 6.9,-21.7 A7.2,7.2 0 1,0 -6.9,-21.7 C-7.2,-13.5 -2.1,-6.5 0,0 Z" transform="translate(581.5,50.3) rotate(357)" fill="#e01010" stroke="#2a2a2a" stroke-width="1.1" stroke-linejoin="round"/>
<path d="M0,0 C2.1,-6.5 7.2,-13.5 6.9,-21.7 A7.2,7.2 0 1,0 -6.9,-21.7 C-7.2,-13.5 -2.1,-6.5 0,0 Z" transform="translate(582.3,50.3) rotate(315)" fill="#f5821f" stroke="#fff" stroke-width="2.6" stroke-linejoin="round"/>
<path d="M0,0 C2.1,-6.5 7.2,-13.5 6.9,-21.7 A7.2,7.2 0 1,0 -6.9,-21.7 C-7.2,-13.5 -2.1,-6.5 0,0 Z" transform="translate(582.3,50.3) rotate(315)" fill="#f5821f" stroke="#2a2a2a" stroke-width="1.1" stroke-linejoin="round"/>
<path d="M0,0 C2.1,-6.5 7.2,-13.5 6.9,-21.7 A7.2,7.2 0 1,0 -6.9,-21.7 C-7.2,-13.5 -2.1,-6.5 0,0 Z" transform="translate(582.3,50.3) rotate(45)" fill="#f5821f" stroke="#fff" stroke-width="2.6" stroke-linejoin="round"/>
<path d="M0,0 C2.1,-6.5 7.2,-13.5 6.9,-21.7 A7.2,7.2 0 1,0 -6.9,-21.7 C-7.2,-13.5 -2.1,-6.5 0,0 Z" transform="translate(582.3,50.3) rotate(45)" fill="#f5821f" stroke="#2a2a2a" stroke-width="1.1" stroke-linejoin="round"/>
<path d="M0,0 C2.1,-6.5 7.2,-13.5 6.9,-21.7 A7.2,7.2 0 1,0 -6.9,-21.7 C-7.2,-13.5 -2.1,-6.5 0,0 Z" transform="translate(582.3,50.3) rotate(225)" fill="#f5821f" stroke="#fff" stroke-width="2.6" stroke-linejoin="round"/>
<path d="M0,0 C2.1,-6.5 7.2,-13.5 6.9,-21.7 A7.2,7.2 0 1,0 -6.9,-21.7 C-7.2,-13.5 -2.1,-6.5 0,0 Z" transform="translate(582.3,50.3) rotate(225)" fill="#f5821f" stroke="#2a2a2a" stroke-width="1.1" stroke-linejoin="round"/>
<path d="M0,0 C2.1,-6.5 7.2,-13.5 6.9,-21.7 A7.2,7.2 0 1,0 -6.9,-21.7 C-7.2,-13.5 -2.1,-6.5 0,0 Z" transform="translate(582.3,50.3) rotate(135)" fill="#f5821f" stroke="#fff" stroke-width="2.6" stroke-linejoin="round"/>
<path d="M0,0 C2.1,-6.5 7.2,-13.5 6.9,-21.7 A7.2,7.2 0 1,0 -6.9,-21.7 C-7.2,-13.5 -2.1,-6.5 0,0 Z" transform="translate(582.3,50.3) rotate(135)" fill="#f5821f" stroke="#2a2a2a" stroke-width="1.1" stroke-linejoin="round"/>
<path d="M0,0 C2.1,-6.5 7.2,-13.5 6.9,-21.7 A7.2,7.2 0 1,0 -6.9,-21.7 C-7.2,-13.5 -2.1,-6.5 0,0 Z" transform="translate(582.3,50.3) rotate(270)" fill="#10aa10" stroke="#fff" stroke-width="2.6" stroke-linejoin="round"/>
<path d="M0,0 C2.1,-6.5 7.2,-13.5 6.9,-21.7 A7.2,7.2 0 1,0 -6.9,-21.7 C-7.2,-13.5 -2.1,-6.5 0,0 Z" transform="translate(582.3,50.3) rotate(270)" fill="#10aa10" stroke="#2a2a2a" stroke-width="1.1" stroke-linejoin="round"/>
<path d="M0,0 C2.1,-6.5 7.2,-13.5 6.9,-21.7 A7.2,7.2 0 1,0 -6.9,-21.7 C-7.2,-13.5 -2.1,-6.5 0,0 Z" transform="translate(582.3,50.3) rotate(90)" fill="#10aa10" stroke="#fff" stroke-width="2.6" stroke-linejoin="round"/>
<path d="M0,0 C2.1,-6.5 7.2,-13.5 6.9,-21.7 A7.2,7.2 0 1,0 -6.9,-21.7 C-7.2,-13.5 -2.1,-6.5 0,0 Z" transform="translate(582.3,50.3) rotate(90)" fill="#10aa10" stroke="#2a2a2a" stroke-width="1.1" stroke-linejoin="round"/>
<path d="M0,0 C2.1,-6.5 7.2,-13.5 6.9,-21.7 A7.2,7.2 0 1,0 -6.9,-21.7 C-7.2,-13.5 -2.1,-6.5 0,0 Z" transform="translate(582.3,50.3) rotate(0)" fill="#5bbfcc" stroke="#fff" stroke-width="2.6" stroke-linejoin="round"/>
<path d="M0,0 C2.1,-6.5 7.2,-13.5 6.9,-21.7 A7.2,7.2 0 1,0 -6.9,-21.7 C-7.2,-13.5 -2.1,-6.5 0,0 Z" transform="translate(582.3,50.3) rotate(0)" fill="#5bbfcc" stroke="#2a2a2a" stroke-width="1.1" stroke-linejoin="round"/>
<path d="M0,0 C2.1,-6.5 7.2,-13.5 6.9,-21.7 A7.2,7.2 0 1,0 -6.9,-21.7 C-7.2,-13.5 -2.1,-6.5 0,0 Z" transform="translate(582.3,50.3) rotate(180)" fill="#1414f5" stroke="#fff" stroke-width="2.6" stroke-linejoin="round"/>
<path d="M0,0 C2.1,-6.5 7.2,-13.5 6.9,-21.7 A7.2,7.2 0 1,0 -6.9,-21.7 C-7.2,-13.5 -2.1,-6.5 0,0 Z" transform="translate(582.3,50.3) rotate(180)" fill="#1414f5" stroke="#2a2a2a" stroke-width="1.1" stroke-linejoin="round"/>
<path d="M-2.2,0 L2.2,0 L0,-4 Z" transform="translate(576.8,47.1) rotate(60)" fill="#e51010"/>
<path d="M-2.2,0 L2.2,0 L0,-4 Z" transform="translate(587.8,47.1) rotate(-60)" fill="#e51010"/>
<path d="M-2.2,0 L2.2,0 L0,-4 Z" transform="translate(576.8,53.8) rotate(120)" fill="#e51010"/>
<path d="M-2.2,0 L2.2,0 L0,-4 Z" transform="translate(587.8,53.8) rotate(-120)" fill="#e51010"/>
<circle cx="582.3" cy="50.3" r="1.6" fill="#222"/>
<text transform="translate(582.3,33.1) scale(1,1.04)" font-size="10.5" text-anchor="middle" fill="#1a1a1a" stroke="#1a1a1a" stroke-width="0.18" >1</text>
<text transform="translate(582.3,75.7) scale(1,1.04)" font-size="10.5" text-anchor="middle" fill="#dfe6ff" stroke="#dfe6ff" stroke-width="0.18" >2</text>
<text transform="translate(561,54.4) scale(1,1.04)" font-size="10.5" text-anchor="middle" fill="#1a1a1a" stroke="#1a1a1a" stroke-width="0.18" >3</text>
<text transform="translate(603.6,54.4) scale(1,1.04)" font-size="10.5" text-anchor="middle" fill="#1a1a1a" stroke="#1a1a1a" stroke-width="0.18" >4</text>
<text transform="translate(567.2,39.3) scale(1,1.04)" font-size="10.5" text-anchor="middle" fill="#1a1a1a" stroke="#1a1a1a" stroke-width="0.18" >5</text>
<text transform="translate(597.4,39.3) scale(1,1.04)" font-size="10.5" text-anchor="middle" fill="#1a1a1a" stroke="#1a1a1a" stroke-width="0.18" >6</text>
<text transform="translate(567.2,69.5) scale(1,1.04)" font-size="10.5" text-anchor="middle" fill="#1a1a1a" stroke="#1a1a1a" stroke-width="0.18" >7</text>
<text transform="translate(597.4,69.5) scale(1,1.04)" font-size="10.5" text-anchor="middle" fill="#1a1a1a" stroke="#1a1a1a" stroke-width="0.18" >8</text>
<text transform="translate(570.5,80.5) scale(1,1.04)" font-size="9.5" text-anchor="middle" fill="#999" stroke="#999" stroke-width="0.18" >9</text>
<g fill="none" stroke="#d6d6d6" stroke-width="1.2">
<circle cx="535.5" cy="193.4" r="13.9"/>
<circle cx="535.5" cy="193.4" r="27.9"/>
<circle cx="535.5" cy="193.4" r="41.8"/>
<circle cx="535.5" cy="193.4" r="55.7"/>
<circle cx="535.5" cy="193.4" r="69.7"/>
<circle cx="535.5" cy="193.4" r="83.6"/>
<circle cx="535.5" cy="193.4" r="97.5"/>
<line x1="535.5" y1="193.4" x2="535.5" y2="95.9"/>
<line x1="535.5" y1="193.4" x2="584.2" y2="109"/>
<line x1="535.5" y1="193.4" x2="619.9" y2="144.6"/>
<line x1="535.5" y1="193.4" x2="633" y2="193.4"/>
<line x1="535.5" y1="193.4" x2="619.9" y2="242.1"/>
<line x1="535.5" y1="193.4" x2="584.2" y2="277.8"/>
<line x1="535.5" y1="193.4" x2="535.5" y2="290.9"/>
<line x1="535.5" y1="193.4" x2="486.8" y2="277.8"/>
<line x1="535.5" y1="193.4" x2="451.1" y2="242.2"/>
<line x1="535.5" y1="193.4" x2="438" y2="193.4"/>
<line x1="535.5" y1="193.4" x2="451.1" y2="144.6"/>
<line x1="535.5" y1="193.4" x2="486.7" y2="109"/>
</g>
<line x1="504.5" y1="161.7" x2="566.5" y2="225.1" stroke="#222222" stroke-width="1.7" />
<line x1="509.2" y1="159.3" x2="561.8" y2="227.5" stroke="#222222" stroke-width="1.7" />
<line x1="551.2" y1="171.1" x2="519.8" y2="215.7" stroke="#222222" stroke-width="1.7" />
<line x1="574.8" y1="149.1" x2="496.2" y2="237.7" stroke="#f7861c" stroke-width="1.7" />
<line x1="509.7" y1="149.8" x2="561.3" y2="237" stroke="#f7861c" stroke-width="1.7" />
<line x1="510.6" y1="157.3" x2="560.4" y2="229.5" stroke="#f7861c" stroke-width="1.7" />
<line x1="559.8" y1="163.2" x2="511.2" y2="223.6" stroke="#f7861c" stroke-width="1.7" />
<line x1="546" y1="173.7" x2="525" y2="213.1" stroke="#f7861c" stroke-width="1.7" />
<line x1="556.5" y1="182.2" x2="514.5" y2="204.6" stroke="#f7861c" stroke-width="1.7" />
<line x1="547.3" y1="201.3" x2="523.7" y2="185.5" stroke="#f7861c" stroke-width="1.7" />
<line x1="496.2" y1="188.6" x2="574.8" y2="198.2" stroke="#1fbb1f" stroke-width="1.7" />
<line x1="565.1" y1="188.4" x2="505.9" y2="198.4" stroke="#1fbb1f" stroke-width="1.7" />
<line x1="566.1" y1="190.1" x2="504.9" y2="196.7" stroke="#1fbb1f" stroke-width="1.7" />
<line x1="553.3" y1="192.1" x2="517.7" y2="194.7" stroke="#1fbb1f" stroke-width="1.7" />
<line x1="536.5" y1="104.7" x2="534.5" y2="282.1" stroke="#1a1aee" stroke-width="1.6" />
<line x1="528.1" y1="130.6" x2="542.9" y2="256.2" stroke="#1a1aee" stroke-width="1.6" />
<line x1="531.5" y1="132.9" x2="539.5" y2="253.9" stroke="#1a1aee" stroke-width="1.6" />
<line x1="538.5" y1="157.9" x2="532.5" y2="228.9" stroke="#6ccbd6" stroke-width="1.6" />
<line x1="534.2" y1="162.5" x2="536.8" y2="224.3" stroke="#ee1111" stroke-width="1.6" />
<line x1="539.1" y1="168.5" x2="531.9" y2="218.3" stroke="#ee1111" stroke-width="1.6" />
<line x1="535.6" y1="186.4" x2="535.4" y2="200.4" stroke="#ee44dd" stroke-width="1.4" />
<text transform="translate(451.7,148.7) scale(1,1.04)" font-size="13.7" text-anchor="middle" fill="#222" stroke="#222" stroke-width="0.18" >8</text>
<text transform="translate(475.5,163.9) scale(1,1.04)" font-size="13.7" text-anchor="middle" fill="#222" stroke="#222" stroke-width="0.18" >6</text>
<text transform="translate(499.1,178.3) scale(1,1.04)" font-size="13.7" text-anchor="middle" fill="#222" stroke="#222" stroke-width="0.18" >4</text>
<text transform="translate(524.4,191.3) scale(1,1.04)" font-size="13.7" text-anchor="middle" fill="#222" stroke="#222" stroke-width="0.18" >2</text>
<text transform="translate(532,88.9) scale(1,1.04)" font-size="14.2" text-anchor="start" fill="#111" stroke="#111" stroke-width="0.18" >0°</text>
<text transform="translate(636.2,197.9) scale(1,1.04)" font-size="14.2" text-anchor="start" fill="#111" stroke="#111" stroke-width="0.18" >90°</text>
<text transform="translate(438.2,198.1) scale(1,1.04)" font-size="14.2" text-anchor="end" fill="#111" stroke="#111" stroke-width="0.18" >270°</text>
<text transform="translate(526.3,306.5) scale(1,1.04)" font-size="14.2" text-anchor="start" fill="#111" stroke="#111" stroke-width="0.18" >180°</text>
<text transform="translate(547.7,327.8) scale(1,1.04)" font-size="17.3" text-anchor="middle" fill="#111" stroke="#111" stroke-width="0.18" >Polarizer angle [deg] / PS ratio [1:8]</text>
<text transform="translate(-0.2,354.6) scale(1,1.04)" font-size="21.5" text-anchor="start" fill="#111" stroke="#111" stroke-width="0.18" >C</text>
<path d="M54.5,452.6 L54.8,453.7 L55.1,451.9 L55.4,453.3 L55.7,452.5 L56,452.2 L56.3,454.2 L56.6,453.1 L56.9,452.6 L57.2,453.2 L57.5,453.8 L57.8,452.8 L58.1,453.1 L58.4,451.7 L58.7,452 L59,451.9 L59.3,412.9 L59.6,412.1 L59.9,412.9 L60.2,415.1 L60.5,416.1 L60.8,416.6 L61.1,417.4 L61.4,416.5 L61.7,417.6 L62,418.3 L62.3,419.1 L62.6,417.8 L62.9,418 L63.2,416.6 L63.5,417.7 L63.8,416.4 L64.1,427.1 L64.4,445.9 L64.7,449.2 L65,453.4 L65.3,454.2 L65.6,453.7 L65.9,454.3 L66.2,454.4 L66.5,454.8 L66.8,453.6 L67.1,452.9 L67.4,452.7 L67.7,452.2 L68,452.9 L68.3,452.3 L68.6,453.9 L68.9,451.5 L69.2,451.5 L69.5,451.7 L69.8,420.4 L70.1,418.9 L70.4,416.5 L70.7,418.6 L71,419.3 L71.3,421.9 L71.6,419.3 L71.9,421.8 L72.2,420.9 L72.5,421.3 L72.8,421 L73.1,422.3 L73.4,421 L73.7,421.7 L74,422.3 L74.3,423.9 L74.6,420.3 L74.9,442.5 L75.2,450.9 L75.5,452.4 L75.8,453.8 L76.1,453.4 L76.4,455.3 L76.7,454.3 L77,453.6 L77.3,453.3 L77.6,453.2 L77.9,453.1 L78.2,452.4 L78.5,454.9 L78.8,451.7 L79.1,449.3 L79.4,452 L79.7,452.6 L80,453.2 L80.3,436.7 L80.6,407.7 L80.9,408.3 L81.2,410.2 L81.5,409.9 L81.8,410.5 L82.1,413.2 L82.4,412.8 L82.7,411.5 L83,414.5 L83.3,414 L83.6,412.6 L83.9,411.8 L84.2,413.1 L84.5,412.4 L84.8,412 L85.1,411.7 L85.4,428.2 L85.7,446.4 L86,451.3 L86.3,452.1 L86.6,454.4 L86.9,454.3 L87.2,455 L87.5,455.4 L87.8,454.1 L88.1,453.7 L88.4,453.6 L88.7,452.4 L89,453.8 L89.3,454.7 L89.6,453.8 L89.9,453.1 L90.2,452.9 L90.5,452.3 L90.8,452 L91.1,413.7 L91.4,409.9 L91.7,411.2 L92,411.2 L92.3,413.5 L92.6,414.2 L92.9,413.6 L93.2,412.6 L93.5,414.7 L93.8,416.4 L94.1,415.2 L94.4,415.2 L94.7,415.2 L95,416.4 L95.3,415.2 L95.6,416.8 L95.9,417.3 L96.2,442.2 L96.5,450.1 L96.8,452.7 L97.1,452.4 L97.4,453.1 L97.7,453.6 L98,454.5 L98.3,454.2 L98.6,453.2 L98.9,453.9 L99.2,454.5 L99.5,453.5 L99.8,452.9 L100.1,452.8 L100.4,453.8 L100.7,453.8 L101,452.3 L101.3,453.2 L101.6,427.1 L101.9,408.8 L102.2,411.1 L102.5,412.3 L102.8,411.7 L103.1,412.8 L103.4,413.8 L103.7,413.3 L104,413.8 L104.3,414.9 L104.6,412.9 L104.9,414.6 L105.2,415.4 L105.5,415.5 L105.8,413.8 L106.1,415 L106.4,414.2 L106.7,433.6 L107,447.7 L107.3,452.3 L107.6,453 L107.9,453.4 L108.2,454.8 L108.5,453.4 L108.8,454.2 L109.1,454.4 L109.4,453.6 L109.7,455.8 L110,454.1 L110.3,455.6 L110.6,451.9 L110.9,450.8 L111.2,453.5 L111.5,453.8 L111.8,452.9 L112.1,452.9 L112.4,411 L112.7,409.9 L113,410.8 L113.3,412.5 L113.6,414.4 L113.9,414.5 L114.2,415.1 L114.5,414.5 L114.8,414.8 L115.1,415.5 L115.4,415.4 L115.7,416.9 L116,415.3 L116.3,417.6 L116.6,415.5 L116.9,416.9 L117.2,421.6 L117.5,444.5 L117.8,451 L118.1,453.6 L118.4,454.7 L118.7,453.7 L119,453 L119.3,451.8 L119.6,454.4 L119.9,453.2 L120.2,452.9 L120.5,453.3 L120.8,455.2 L121.1,452.1 L121.4,453.2 L121.7,452.8 L122,453.5 L122.3,451.4 L122.6,452.2 L122.9,416.5 L123.2,404.4 L123.5,405.6 L123.8,404.6 L124.1,405.9 L124.4,406.6 L124.7,405.9 L125,406 L125.3,408.4 L125.6,408.7 L125.9,408.5 L126.2,409.9 L126.5,408.2 L126.8,409.3 L127.1,409.1 L127.4,409.1 L127.7,409.6 L128,433.7 L128.3,447.6 L128.6,452.6 L128.9,455.8 L129.2,454.5 L129.5,455.4 L129.8,455.1 L130.1,457 L130.4,457.7 L130.7,456.2 L131,457.7 L131.3,456.1 L131.6,455.9 L131.9,456.6 L132.2,457.2 L132.5,457.3 L132.8,457.3 L133.1,456.2 L133.4,455.2 L133.7,392 L134,390.9 L134.3,391.4 L134.6,394.4 L134.9,395.2 L135.2,394.9 L135.5,396.6 L135.8,395.7 L136.1,396.2 L136.4,397.7 L136.7,396.4 L137,397.7 L137.3,396.8 L137.6,398.7 L137.9,397.8 L138.2,398.5 L138.5,413 L138.8,442.3 L139.1,453.9 L139.4,457.3 L139.7,456.2 L140,458.5 L140.3,458.9 L140.6,457.6 L140.9,458.9 L141.2,456.7 L141.5,456.9 L141.8,458 L142.1,458.4 L142.4,458.3 L142.7,456 L143,454.7 L143.3,456.3 L143.6,455 L143.9,455.8 L144.2,401.3 L144.5,393 L144.8,394.7 L145.1,396 L145.4,396.7 L145.7,397.5 L146,397.9 L146.3,399 L146.6,399.4 L146.9,400 L147.2,399.4 L147.5,401.6 L147.8,400.7 L148.1,401.7 L148.4,401.9 L148.7,399.9 L149,398.6 L149.3,435.5 L149.6,450 L149.9,455.7 L150.2,457.2 L150.5,457.9 L150.8,456.8 L151.1,457.4 L151.4,457 L151.7,457.2 L152,455 L152.3,457.3 L152.6,457.3 L152.9,455.2 L153.2,455.6 L153.5,456.3 L153.8,457 L154.1,456.5 L154.4,457.6 L154.7,437.6 L155,388 L155.3,388 L155.6,391.1 L155.9,391.6 L156.2,393.8 L156.5,395.2 L156.8,395.5 L157.1,396.4 L157.4,395.7 L157.7,395.9 L158,395.6 L158.3,395.6 L158.6,394.8 L158.9,395.6 L159.2,395.4 L159.5,395 L159.8,418.8 L160.1,445.1 L160.4,453.6 L160.7,458.2 L161,459.1 L161.3,459.4 L161.6,457.7 L161.9,456.3 L162.2,457.7 L162.5,457.7 L162.8,458 L163.1,457.6 L163.4,458.3 L163.7,456.8 L164,457.3 L164.3,455.9 L164.6,454.1 L164.9,455.3 L165.2,457.4 L165.5,390.1 L165.8,385.2 L166.1,385.8 L166.4,387.5 L166.7,389.2 L167,390.5 L167.3,390.2 L167.6,391.6 L167.9,392.6 L168.2,393.4 L168.5,392.3 L168.8,394.4 L169.1,395.3 L169.4,396.2 L169.7,392.8 L170,393.5 L170.3,391.8 L170.6,435.6 L170.9,451.3 L171.2,455.1 L171.5,456 L171.8,457.9 L172.1,458.7 L172.4,457.4 L172.7,457.4 L173,455.1 L173.3,456.1 L173.6,457 L173.9,457.1 L174.2,458.4 L174.5,456.1 L174.8,454.3 L175.1,456.4 L175.4,455.8 L175.7,456.5 L176,418.6 L176.3,385.8 L176.6,387.3 L176.9,389.3 L177.2,387.9 L177.5,389.8 L177.8,392.9 L178.1,391.8 L178.4,393.2 L178.7,392.8 L179,392.6 L179.3,394.6 L179.6,394.7 L179.9,393.6 L180.2,394.5 L180.5,392.7 L180.8,392.8 L181.1,423.2 L181.4,446.3 L181.7,453.5 L182,457.4 L182.3,458.4 L182.6,459.5 L182.9,459.3 L183.2,457.9 L183.5,457.2 L183.8,457.2 L184.1,457 L184.4,458.4 L184.7,458.8 L185,458.6 L185.3,457.5 L185.6,456.6 L185.9,457.3 L186.2,456.3 L186.5,456.5 L186.8,385.2 L187.1,382.1 L187.4,385.9 L187.7,385.7 L188,386.1 L188.3,388.2 L188.6,391 L188.9,391.9 L189.2,390.7 L189.5,390.5 L189.8,391 L190.1,390.5 L190.4,391.4 L190.7,391.4 L191,390.3 L191.3,391 L191.6,400 L191.9,437.3 L192.2,450.4 L192.5,457 L192.8,459.9 L193.1,458.5 L193.4,457.9 L193.7,458.4 L194,457.7 L194.3,456.8 L194.6,458.5 L194.9,456.5 L195.2,456.2 L195.5,456.1 L195.8,455.7 L196.1,456.2 L196.4,457 L196.7,457.9 L197,457.4 L197.3,412.7 L197.6,393.1 L197.9,394.9 L198.2,395.8 L198.5,397.7 L198.8,399.8 L199.1,400.1 L199.4,400.1 L199.7,399.9 L200,400.8 L200.3,401.3 L200.6,400.6 L200.9,400.9 L201.2,402.4 L201.5,400.4 L201.8,401.1 L202.1,400.6 L202.4,432.1 L202.7,449.7 L203,455.8 L203.3,457.8 L203.6,458.2 L203.9,458.2 L204.2,456.3 L204.5,457.4 L204.8,457.9 L205.1,456 L205.4,457.5 L205.7,457.6 L206,455.5 L206.3,455.9 L206.6,456 L206.9,455.8 L207.2,456.6 L207.5,455.1 L207.8,455.7 L208.1,412.2 L208.4,411.8 L208.7,412.5 L209,413 L209.3,414.6 L209.6,412.8 L209.9,415.5 L210.2,415.2 L210.5,414.4 L210.8,415.1 L211.1,414.1 L211.4,413.7 L211.7,415.3 L212,415.3 L212.3,416.8 L212.6,415.6 L212.9,424.9 L213.2,445.3 L213.5,455.1 L213.8,456.6 L214.1,456.6 L214.4,456.2 L214.7,455.9 L215,456.6 L215.3,457.2 L215.6,458 L215.9,458.1 L216.2,457.2 L216.5,456 L216.8,455.4 L217.1,453.9 L217.4,454.6 L217.7,456.2 L218,455.8 L218.3,456.3 L218.6,431.7 L218.9,428.3 L219.2,428.7 L219.5,429.1 L219.8,429.9 L220.1,427.9 L220.4,429.2 L220.7,429.4 L221,432.1 L221.3,431 L221.6,430.5 L221.9,431.7 L222.2,430 L222.5,432.5 L222.8,430.6 L223.1,431 L223.4,430 L223.7,446.7 L224,450.6 L224.3,455.8 L224.6,455.4 L224.9,456.4 L225.2,455.2 L225.5,456.4 L225.8,456.6 L226.1,457.1 L226.4,456.8 L226.7,457.1 L227,457.5 L227.3,456 L227.6,454.6 L227.9,454.1 L228.2,453.3 L228.5,452.5 L228.8,454 L229.1,453.7 L229.4,457.8 L229.7,462.5 L230,465.7 L230.3,464.3 L230.6,463.3 L230.9,463.2 L231.2,465.3 L231.5,464.1 L231.8,464 L232.1,465.3 L232.4,464.8 L232.7,464.8 L233,464 L233.3,463.7 L233.6,464.5 L233.9,464.7 L234.2,463.1 L234.5,458.1 L234.8,456.5 L235.1,455.4 L235.4,454.1 L235.7,454.1 L236,454.4 L236.3,453.4 L236.6,452.9 L236.9,451.5 L237.2,452.7 L237.5,452.5 L237.8,452.2 L238.1,451.5 L238.4,452.9 L238.7,455.7 L239,453.8 L239.3,452.9 L239.6,453.1 L239.9,458.9 L240.2,465.8 L240.5,468.3 L240.8,469.8 L241.1,471.6 L241.4,472.3 L241.7,472.2 L242,471.4 L242.3,472.5 L242.6,471.2 L242.9,473.1 L243.2,472.2 L243.5,472.4 L243.8,473.4 L244.1,473.4 L244.4,471.2 L244.7,471.9 L245,465.1 L245.3,458.8 L245.6,453.9 L245.9,454.4 L246.2,453.9 L246.5,454 L246.8,453.3 L247.1,453.1 L247.4,453.1 L247.7,454.4 L248,453.6 L248.3,453.4 L248.6,452.3 L248.9,453.8 L249.2,452.6 L249.5,453.4 L249.8,450.2 L250.1,452.2 L250.4,454.4 L250.7,461.3 L251,467 L251.3,468.3 L251.6,468.5 L251.9,468.4 L252.2,471.3 L252.5,470.8 L252.8,470.6 L253.1,468.8 L253.4,470.9 L253.7,470.5 L254,469.4 L254.3,469.4 L254.6,467.5 L254.9,469.8 L255.2,468.3 L255.5,466.2 L255.8,460 L256.1,456.5 L256.4,455.6 L256.7,454.6 L257,452.3 L257.3,452.7 L257.6,453.5 L257.9,452.6 L258.2,451 L258.5,451.9 L258.8,451.2 L259.1,451.5 L259.4,452.3 L259.7,452.4 L260,452.2 L260.3,450.5 L260.6,452.4 L260.9,452.2 L261.2,456 L261.5,459.5 L261.8,463.2 L262.1,460.7 L262.4,459.9 L262.7,462.7 L263,461.5 L263.3,463.8 L263.6,461.6 L263.9,461.7 L264.2,463.3 L264.5,463.8 L264.8,463.3 L265.1,463.2 L265.4,462.5 L265.7,462 L266,461.6 L266.3,459.7 L266.6,457.2 L266.9,454.9 L267.2,454.2 L267.5,454.4 L267.8,454.6 L268.1,453 L268.4,452.6 L268.7,453 L269,455.7 L269.3,453.6 L269.6,454.3 L269.9,451.1 L270.2,448.7 L270.5,446.5 L270.8,446.4 L271.1,446.8 L271.4,447.5 L271.7,448.9 L272,450.8 L272.3,451.5 L272.6,451.1 L272.9,454.7 L273.2,453.1 L273.5,453 L273.8,454.6 L274.1,453.8 L274.4,453.1 L274.7,452.7 L275,454.4 L275.3,451.3 L275.6,450.7 L275.9,451.8 L276.2,449.6 L276.5,450.5 L276.8,451.8 L277.1,449.4 L277.4,449.2 L277.7,449.5 L278,447.2 L278.3,448.3 L278.6,447.4 L278.9,446.6 L279.2,447.4 L279.5,447.8 L279.8,447.5 L280.1,447.1 L280.4,448.9 L280.7,449.6 L281,449.1 L281.3,448.1 L281.6,446.8 L281.9,446.7 L282.2,446.4 L282.5,447.8 L282.8,449 L283.1,449.3 L283.4,448.3 L283.7,447.6 L284,448.1 L284.3,448.2 L284.6,448.7 L284.9,449.9 L285.2,447.7 L285.5,450.4 L285.8,446.1 L286.1,445.4 L286.4,445.6 L286.7,446.2 L287,447.3 L287.3,450.2 L287.6,447.7 L287.9,449.2 L288.2,447.9 L288.5,448.1 L288.8,446.8 L289.1,450.4 L289.4,448.5 L289.7,447.4 L290,450.5 L290.3,448.8 L290.6,448.7 L290.9,448 L291.2,447 L291.5,446.1 L291.8,447.3 L292.1,449.7 L292.4,448.9" fill="none" stroke="#2cbb2c" stroke-width="1.2" stroke-linejoin="round"/>
<path d="M54.5,515.9 L54.8,515.6 L55.1,517.3 L55.4,514.9 L55.7,516.3 L56,514.7 L56.3,517.5 L56.6,517.3 L56.9,518.4 L57.2,516.9 L57.5,517.3 L57.8,516.8 L58.1,516.3 L58.4,517 L58.7,515.8 L59,516.4 L59.3,486.2 L59.6,485.5 L59.9,485.8 L60.2,488.9 L60.5,488 L60.8,487.5 L61.1,488.3 L61.4,488 L61.7,488.2 L62,488.4 L62.3,490.8 L62.6,489.6 L62.9,489.4 L63.2,489.9 L63.5,491.4 L63.8,489.6 L64.1,497.3 L64.4,513.4 L64.7,515.1 L65,517 L65.3,518.6 L65.6,520.5 L65.9,517.8 L66.2,515.7 L66.5,518 L66.8,517.4 L67.1,517.3 L67.4,518 L67.7,517.9 L68,517.9 L68.3,517.2 L68.6,518.6 L68.9,519.2 L69.2,517.9 L69.5,517 L69.8,490.7 L70.1,486.2 L70.4,485.5 L70.7,486.4 L71,488.5 L71.3,488.3 L71.6,488.2 L71.9,488.9 L72.2,489 L72.5,489.2 L72.8,487.5 L73.1,490.6 L73.4,489.9 L73.7,488.8 L74,490.3 L74.3,490.1 L74.6,489.8 L74.9,508.1 L75.2,516.9 L75.5,518.2 L75.8,519.7 L76.1,520.7 L76.4,517.8 L76.7,517.5 L77,518.6 L77.3,516.5 L77.6,517.2 L77.9,518.8 L78.2,519 L78.5,518.5 L78.8,516 L79.1,519.4 L79.4,518.4 L79.7,518.4 L80,518.1 L80.3,504.8 L80.6,484.4 L80.9,484.6 L81.2,488.4 L81.5,487.2 L81.8,487.8 L82.1,488.2 L82.4,489.3 L82.7,489.7 L83,489.7 L83.3,488.3 L83.6,486.3 L83.9,489 L84.2,489.8 L84.5,490.9 L84.8,490 L85.1,489.3 L85.4,501 L85.7,510.8 L86,515 L86.3,516.4 L86.6,518.1 L86.9,520.2 L87.2,519.4 L87.5,519.4 L87.8,518.5 L88.1,518.3 L88.4,517.5 L88.7,517.4 L89,515.3 L89.3,515.8 L89.6,515.9 L89.9,517.9 L90.2,518.2 L90.5,518.7 L90.8,519.2 L91.1,479.3 L91.4,476.8 L91.7,478.9 L92,478.3 L92.3,479.7 L92.6,479.3 L92.9,478.1 L93.2,479.7 L93.5,479.4 L93.8,480.3 L94.1,480.1 L94.4,480.9 L94.7,478.8 L95,482.4 L95.3,482.6 L95.6,481.1 L95.9,481.4 L96.2,505.7 L96.5,515 L96.8,517.9 L97.1,518.8 L97.4,516.8 L97.7,517 L98,519.3 L98.3,518.8 L98.6,516.9 L98.9,516.9 L99.2,516.3 L99.5,516.5 L99.8,518.6 L100.1,517.7 L100.4,518.7 L100.7,518 L101,516.2 L101.3,516.5 L101.6,489.3 L101.9,466 L102.2,465.8 L102.5,469.1 L102.8,469.5 L103.1,470.1 L103.4,472.1 L103.7,469.8 L104,471.6 L104.3,470.8 L104.6,470.4 L104.9,471 L105.2,473.2 L105.5,472.5 L105.8,470.8 L106.1,471.1 L106.4,473.7 L106.7,495.5 L107,509.8 L107.3,518.5 L107.6,518.5 L107.9,517.7 L108.2,518.5 L108.5,519.6 L108.8,520.5 L109.1,520 L109.4,518.3 L109.7,517.7 L110,516.6 L110.3,517.6 L110.6,517.2 L110.9,517.9 L111.2,516.6 L111.5,516.9 L111.8,516.6 L112.1,516.1 L112.4,465.2 L112.7,463 L113,464.2 L113.3,467.1 L113.6,468 L113.9,467.3 L114.2,469.3 L114.5,469.9 L114.8,471.4 L115.1,470.4 L115.4,470.2 L115.7,469.8 L116,470.6 L116.3,471.2 L116.6,471.1 L116.9,470.7 L117.2,479 L117.5,505.2 L117.8,514.7 L118.1,516.9 L118.4,518.8 L118.7,518 L119,517.9 L119.3,518.7 L119.6,520.7 L119.9,520 L120.2,520.3 L120.5,519.7 L120.8,520.6 L121.1,521.1 L121.4,521 L121.7,519.6 L122,519.5 L122.3,518.9 L122.6,518.8 L122.9,478.9 L123.2,465.5 L123.5,464.7 L123.8,466.5 L124.1,469.2 L124.4,469.2 L124.7,471 L125,470 L125.3,470.9 L125.6,472.1 L125.9,471.1 L126.2,471.3 L126.5,474.5 L126.8,472.3 L127.1,471.8 L127.4,471.8 L127.7,472.5 L128,498.2 L128.3,514 L128.6,519.2 L128.9,519.8 L129.2,520.1 L129.5,519 L129.8,518.6 L130.1,519.1 L130.4,520.5 L130.7,520.2 L131,520.6 L131.3,520.8 L131.6,519.7 L131.9,521.5 L132.2,519.4 L132.5,518.7 L132.8,518.6 L133.1,520.1 L133.4,519.2 L133.7,470.2 L134,470.3 L134.3,472.5 L134.6,472.5 L134.9,473 L135.2,474.8 L135.5,475.5 L135.8,475.9 L136.1,474.6 L136.4,475.4 L136.7,475.8 L137,473.9 L137.3,476.4 L137.6,476 L137.9,475.5 L138.2,478 L138.5,488.5 L138.8,508.6 L139.1,516.6 L139.4,519.9 L139.7,521.1 L140,520.5 L140.3,519.5 L140.6,519.3 L140.9,519 L141.2,518.6 L141.5,519.4 L141.8,519.1 L142.1,519.5 L142.4,518.6 L142.7,518.3 L143,518.8 L143.3,518.7 L143.6,520.1 L143.9,518.4 L144.2,486.8 L144.5,480.5 L144.8,480.1 L145.1,482.7 L145.4,483.3 L145.7,481.6 L146,484.1 L146.3,485.3 L146.6,484 L146.9,486.3 L147.2,485.5 L147.5,484.1 L147.8,485.4 L148.1,484.9 L148.4,483.9 L148.7,482.9 L149,484.9 L149.3,505.2 L149.6,515.7 L149.9,519.1 L150.2,519.3 L150.5,519.3 L150.8,521.5 L151.1,521.9 L151.4,521 L151.7,519.6 L152,518.6 L152.3,518.8 L152.6,520.8 L152.9,520.1 L153.2,519.1 L153.5,517.9 L153.8,518.9 L154.1,518.1 L154.4,518.8 L154.7,506.4 L155,473.2 L155.3,472.4 L155.6,473 L155.9,474.4 L156.2,476.8 L156.5,476.4 L156.8,474.9 L157.1,477.6 L157.4,477.2 L157.7,480.4 L158,477.5 L158.3,477.2 L158.6,477 L158.9,477.7 L159.2,477 L159.5,475.9 L159.8,490.8 L160.1,510.3 L160.4,516.7 L160.7,518.8 L161,522 L161.3,521.5 L161.6,521.6 L161.9,519.9 L162.2,520.2 L162.5,519.7 L162.8,519.5 L163.1,520.2 L163.4,520.2 L163.7,519.9 L164,519.6 L164.3,517.9 L164.6,518.1 L164.9,519.2 L165.2,518.7 L165.5,473.9 L165.8,470.2 L166.1,470.4 L166.4,471.5 L166.7,473.9 L167,473.8 L167.3,475.9 L167.6,475.8 L167.9,476.3 L168.2,476.8 L168.5,473.9 L168.8,475.3 L169.1,474.6 L169.4,475.3 L169.7,475.8 L170,477.3 L170.3,476.4 L170.6,506.6 L170.9,515.2 L171.2,518.8 L171.5,520.1 L171.8,521.3 L172.1,520.5 L172.4,519.7 L172.7,519.6 L173,518.5 L173.3,520.6 L173.6,520.6 L173.9,520.2 L174.2,519.9 L174.5,518.9 L174.8,518.8 L175.1,519.9 L175.4,518.5 L175.7,518.2 L176,491.6 L176.3,467.4 L176.6,466.9 L176.9,468.2 L177.2,469 L177.5,470.9 L177.8,470.1 L178.1,470.7 L178.4,471.5 L178.7,472.8 L179,471.7 L179.3,472 L179.6,471.5 L179.9,471.3 L180.2,471.3 L180.5,472 L180.8,473 L181.1,493.3 L181.4,510.7 L181.7,517.1 L182,520 L182.3,521.1 L182.6,519.5 L182.9,520.5 L183.2,519.3 L183.5,520.6 L183.8,519.2 L184.1,518.6 L184.4,518.7 L184.7,519.3 L185,518.5 L185.3,519.3 L185.6,519.4 L185.9,519.3 L186.2,519.4 L186.5,520 L186.8,469.7 L187.1,467.4 L187.4,468.8 L187.7,468 L188,470.8 L188.3,470.8 L188.6,471.3 L188.9,471.9 L189.2,472.8 L189.5,473.5 L189.8,473.9 L190.1,473 L190.4,474.1 L190.7,474.2 L191,473.5 L191.3,473.7 L191.6,480.6 L191.9,507 L192.2,516.7 L192.5,519.5 L192.8,521.4 L193.1,522.9 L193.4,521.4 L193.7,519 L194,521.5 L194.3,519.8 L194.6,518.5 L194.9,517.1 L195.2,519.4 L195.5,520.5 L195.8,520.6 L196.1,519.3 L196.4,520.6 L196.7,519.4 L197,518.6 L197.3,490.8 L197.6,479.4 L197.9,480 L198.2,481.3 L198.5,479.7 L198.8,483.2 L199.1,482.4 L199.4,483.6 L199.7,482.7 L200,483.5 L200.3,483.5 L200.6,482.3 L200.9,483.9 L201.2,484.6 L201.5,483.1 L201.8,481.9 L202.1,482.9 L202.4,501.7 L202.7,514 L203,518.2 L203.3,521.1 L203.6,521 L203.9,520 L204.2,520.1 L204.5,517.1 L204.8,518.2 L205.1,518.3 L205.4,519.1 L205.7,519.6 L206,519.6 L206.3,520.2 L206.6,518.7 L206.9,519.3 L207.2,519 L207.5,519 L207.8,519.2 L208.1,496.1 L208.4,495.9 L208.7,496.3 L209,497.8 L209.3,497.4 L209.6,497.8 L209.9,500.3 L210.2,499.1 L210.5,498.8 L210.8,499.4 L211.1,497.6 L211.4,498.8 L211.7,499.2 L212,499 L212.3,499.5 L212.6,499.4 L212.9,504.9 L213.2,513.7 L213.5,518 L213.8,518.5 L214.1,520.4 L214.4,519.8 L214.7,518.2 L215,519.1 L215.3,518.2 L215.6,519.9 L215.9,519 L216.2,516.9 L216.5,518.1 L216.8,519.7 L217.1,519.4 L217.4,518.4 L217.7,519.3 L218,519.5 L218.3,520.3 L218.6,509 L218.9,506 L219.2,505 L219.5,506 L219.8,506.5 L220.1,506.4 L220.4,506.9 L220.7,505.6 L221,507 L221.3,506.8 L221.6,507.2 L221.9,506.8 L222.2,506.5 L222.5,507.1 L222.8,507.9 L223.1,506.8 L223.4,507.3 L223.7,513.2 L224,517.6 L224.3,518.6 L224.6,517.4 L224.9,520 L225.2,518.2 L225.5,518.9 L225.8,517.4 L226.1,516.5 L226.4,519 L226.7,517.2 L227,516 L227.3,517.8 L227.6,516.7 L227.9,518 L228.2,519.2 L228.5,517.2 L228.8,517.6 L229.1,518.3 L229.4,521.7 L229.7,523.1 L230,525.8 L230.3,524.9 L230.6,525.3 L230.9,525.2 L231.2,523.6 L231.5,525 L231.8,525.1 L232.1,525.8 L232.4,526.1 L232.7,527.1 L233,523.3 L233.3,524 L233.6,524.2 L233.9,523.8 L234.2,523.8 L234.5,521 L234.8,519.6 L235.1,516.6 L235.4,516.3 L235.7,517.1 L236,516.7 L236.3,516.3 L236.6,516.8 L236.9,516.7 L237.2,515.7 L237.5,518.7 L237.8,516.6 L238.1,517.7 L238.4,517.9 L238.7,518.4 L239,516.7 L239.3,515.7 L239.6,517.2 L239.9,523.2 L240.2,525.6 L240.5,527.3 L240.8,530.9 L241.1,532.4 L241.4,533.1 L241.7,534.2 L242,532.8 L242.3,536.8 L242.6,535.7 L242.9,536 L243.2,534.8 L243.5,531.8 L243.8,533.7 L244.1,533.3 L244.4,534.3 L244.7,534 L245,528.3 L245.3,522.5 L245.6,520.2 L245.9,519.2 L246.2,517.5 L246.5,517.1 L246.8,518.1 L247.1,519.7 L247.4,517.5 L247.7,518.2 L248,516 L248.3,516.2 L248.6,517.2 L248.9,517.7 L249.2,516 L249.5,517.5 L249.8,517.3 L250.1,518.6 L250.4,520.2 L250.7,525.7 L251,527.6 L251.3,529.6 L251.6,529.2 L251.9,529.4 L252.2,528.3 L252.5,528.7 L252.8,528.9 L253.1,530.3 L253.4,530.9 L253.7,529.4 L254,530.5 L254.3,531.3 L254.6,532.2 L254.9,531.2 L255.2,531.3 L255.5,527.4 L255.8,524.5 L256.1,519.4 L256.4,519.3 L256.7,515.7 L257,519.2 L257.3,518.9 L257.6,515.2 L257.9,516 L258.2,515.2 L258.5,514.5 L258.8,515.9 L259.1,515.7 L259.4,517.9 L259.7,516.6 L260,515.6 L260.3,516.6 L260.6,517.4 L260.9,518 L261.2,520.2 L261.5,519.6 L261.8,520.7 L262.1,521.9 L262.4,521.6 L262.7,523.4 L263,522.7 L263.3,522.8 L263.6,522.5 L263.9,522.9 L264.2,521.2 L264.5,525 L264.8,522.8 L265.1,522.1 L265.4,520.7 L265.7,522.3 L266,520.9 L266.3,520.4 L266.6,520.5 L266.9,519.3 L267.2,517.5 L267.5,518.9 L267.8,517.4 L268.1,517.1 L268.4,517.2 L268.7,516.5 L269,517.4 L269.3,515.7 L269.6,514.6 L269.9,517.8 L270.2,516.3 L270.5,516.4 L270.8,517.2 L271.1,516.5 L271.4,515.5 L271.7,516.8 L272,516.9 L272.3,518.9 L272.6,518.3 L272.9,518.5 L273.2,519.7 L273.5,517.3 L273.8,516.8 L274.1,519.3 L274.4,520.5 L274.7,519.5 L275,518.3 L275.3,520.2 L275.6,519.9 L275.9,520.4 L276.2,517.2 L276.5,518.4 L276.8,517.1 L277.1,516.2 L277.4,517.8 L277.7,518.2 L278,516.8 L278.3,516.7 L278.6,518.6 L278.9,518.2 L279.2,517.1 L279.5,517.6 L279.8,517.3 L280.1,515.6 L280.4,516 L280.7,517.1 L281,517.7 L281.3,515.8 L281.6,515.7 L281.9,516 L282.2,515 L282.5,517.8 L282.8,517.7 L283.1,518.7 L283.4,514.9 L283.7,515.5 L284,518.7 L284.3,515.8 L284.6,514.5 L284.9,516.6 L285.2,518.7 L285.5,518.2 L285.8,516.2 L286.1,517.4 L286.4,517.6 L286.7,517.4 L287,517.5 L287.3,518.1 L287.6,518.6 L287.9,519 L288.2,518.7 L288.5,517.2 L288.8,514.9 L289.1,517.1 L289.4,515.3 L289.7,519.2 L290,516.2 L290.3,514.6 L290.6,514.2 L290.9,516.7 L291.2,517.3 L291.5,517.8 L291.8,517.5 L292.1,516.2 L292.4,517.7" fill="none" stroke="#52a8b8" stroke-width="1.2" stroke-linejoin="round"/>
<path d="M54.5,592.3 L54.8,592.9 L55.1,592.4 L55.4,592.2 L55.7,591.5 L56,592.1 L56.3,593.4 L56.6,593.1 L56.9,593.6 L57.2,593 L57.5,593 L57.8,592.8 L58.1,591 L58.4,592.9 L58.7,593.1 L59,593.1 L59.3,552.1 L59.6,551.1 L59.9,552.8 L60.2,554.3 L60.5,555.9 L60.8,556.3 L61.1,557.2 L61.4,556.6 L61.7,557.5 L62,557.9 L62.3,557.1 L62.6,559.3 L62.9,558.8 L63.2,559.3 L63.5,557.8 L63.8,557.3 L64.1,568.1 L64.4,585 L64.7,591.7 L65,593.6 L65.3,593.5 L65.6,593 L65.9,593.2 L66.2,594.8 L66.5,593.2 L66.8,593.7 L67.1,593.9 L67.4,592.1 L67.7,593 L68,594.4 L68.3,591.5 L68.6,592.4 L68.9,592.8 L69.2,592.1 L69.5,593.2 L69.8,546.5 L70.1,537.4 L70.4,540.5 L70.7,542.1 L71,543.4 L71.3,544.8 L71.6,544.5 L71.9,544.6 L72.2,543.5 L72.5,545.2 L72.8,544.6 L73.1,544.7 L73.4,544.1 L73.7,544.3 L74,544.8 L74.3,546.7 L74.6,544 L74.9,573.8 L75.2,588 L75.5,594 L75.8,595 L76.1,592.9 L76.4,591.7 L76.7,594 L77,593.4 L77.3,592.8 L77.6,594.5 L77.9,595 L78.2,594.1 L78.5,593.9 L78.8,594 L79.1,595 L79.4,594.3 L79.7,594 L80,593.9 L80.3,571.6 L80.6,534.7 L80.9,535.1 L81.2,536.3 L81.5,535.2 L81.8,536.8 L82.1,539.2 L82.4,537.6 L82.7,539.1 L83,540.9 L83.3,539.3 L83.6,541.8 L83.9,541.5 L84.2,540.9 L84.5,541.2 L84.8,541.7 L85.1,541.3 L85.4,563.5 L85.7,584.4 L86,592.2 L86.3,596.2 L86.6,596.4 L86.9,595.5 L87.2,596.9 L87.5,597.6 L87.8,595.8 L88.1,594.4 L88.4,595.1 L88.7,595.1 L89,594.9 L89.3,596.4 L89.6,594.4 L89.9,596 L90.2,593.9 L90.5,593.8 L90.8,595 L91.1,532.2 L91.4,526.4 L91.7,527.6 L92,528.9 L92.3,530.1 L92.6,531.5 L92.9,531.6 L93.2,532.5 L93.5,533.3 L93.8,533.2 L94.1,534.1 L94.4,534.2 L94.7,535.7 L95,534.6 L95.3,533.7 L95.6,533.5 L95.9,536 L96.2,576.4 L96.5,589.6 L96.8,594.9 L97.1,598 L97.4,594.6 L97.7,595 L98,596.3 L98.3,596.5 L98.6,596.3 L98.9,595.5 L99.2,596.2 L99.5,595.9 L99.8,595 L100.1,597.4 L100.4,596 L100.7,594.7 L101,594.7 L101.3,594.6 L101.6,555.5 L101.9,525.5 L102.2,527.8 L102.5,531.3 L102.8,531 L103.1,532.7 L103.4,534.7 L103.7,535.5 L104,536.6 L104.3,534.1 L104.6,534.9 L104.9,535.3 L105.2,536.4 L105.5,537.3 L105.8,533.9 L106.1,536.7 L106.4,535.1 L106.7,564.7 L107,584.3 L107.3,593 L107.6,596.8 L107.9,596.6 L108.2,596.7 L108.5,597.2 L108.8,596.6 L109.1,596 L109.4,597.3 L109.7,597 L110,595.6 L110.3,598 L110.6,594.8 L110.9,595.9 L111.2,594.9 L111.5,595 L111.8,595.5 L112.1,595.1 L112.4,529.2 L112.7,524.2 L113,525.5 L113.3,529 L113.6,529.2 L113.9,529.8 L114.2,530 L114.5,533.1 L114.8,533.6 L115.1,534.7 L115.4,532.8 L115.7,533.4 L116,532.5 L116.3,534.2 L116.6,535.5 L116.9,533.5 L117.2,545.3 L117.5,579.6 L117.8,590.8 L118.1,593.1 L118.4,597.2 L118.7,596.7 L119,596 L119.3,596.6 L119.6,596.6 L119.9,597.5 L120.2,595.2 L120.5,596.6 L120.8,597.1 L121.1,597.1 L121.4,595.5 L121.7,594.5 L122,595.8 L122.3,595.2 L122.6,595 L122.9,551.8 L123.2,534.8 L123.5,533.6 L123.8,536.3 L124.1,536.4 L124.4,539.6 L124.7,540.4 L125,540.1 L125.3,540.8 L125.6,542 L125.9,541.8 L126.2,543 L126.5,542.1 L126.8,543 L127.1,543.7 L127.4,544.1 L127.7,542 L128,572 L128.3,586.3 L128.6,592.3 L128.9,593.5 L129.2,596.7 L129.5,595.2 L129.8,595.9 L130.1,595.7 L130.4,595.7 L130.7,595.1 L131,595.6 L131.3,597.1 L131.6,595.7 L131.9,595.7 L132.2,596.1 L132.5,595 L132.8,593.6 L133.1,593.9 L133.4,595.5 L133.7,545 L134,544.6 L134.3,547.5 L134.6,548.8 L134.9,548.9 L135.2,550.1 L135.5,550.2 L135.8,549.2 L136.1,548.7 L136.4,549.7 L136.7,551.5 L137,550.6 L137.3,550.2 L137.6,550.2 L137.9,549.5 L138.2,550.8 L138.5,562 L138.8,584.7 L139.1,590 L139.4,594.7 L139.7,595 L140,593.9 L140.3,596 L140.6,595.5 L140.9,593.4 L141.2,594 L141.5,595.2 L141.8,594.7 L142.1,595.7 L142.4,595.8 L142.7,595.7 L143,595.3 L143.3,596.1 L143.6,595.6 L143.9,595.2 L144.2,563.9 L144.5,560.6 L144.8,562.3 L145.1,561.8 L145.4,562 L145.7,564.6 L146,562 L146.3,563.7 L146.6,566.1 L146.9,563.7 L147.2,564.7 L147.5,566.1 L147.8,564.6 L148.1,564.9 L148.4,565.4 L148.7,563.8 L149,564.2 L149.3,583.1 L149.6,592 L149.9,594.3 L150.2,594.9 L150.5,594.3 L150.8,594.7 L151.1,595.9 L151.4,595.4 L151.7,594.3 L152,593.9 L152.3,597.1 L152.6,596.4 L152.9,595.7 L153.2,592.4 L153.5,594.6 L153.8,595 L154.1,596.2 L154.4,595.3 L154.7,585.7 L155,563.7 L155.3,561.4 L155.6,564.5 L155.9,565 L156.2,564.5 L156.5,566.6 L156.8,567.8 L157.1,565.2 L157.4,565.4 L157.7,566.4 L158,566.7 L158.3,566.2 L158.6,565.6 L158.9,568.4 L159.2,568.1 L159.5,565.9 L159.8,575.6 L160.1,590.2 L160.4,594.5 L160.7,596.7 L161,596.4 L161.3,594.7 L161.6,595.3 L161.9,593 L162.2,593.8 L162.5,594.5 L162.8,595.2 L163.1,594.1 L163.4,594.4 L163.7,595 L164,595 L164.3,595.2 L164.6,594.8 L164.9,594.2 L165.2,595.1 L165.5,568 L165.8,564.3 L166.1,565 L166.4,566.2 L166.7,566.8 L167,567.5 L167.3,567.7 L167.6,568.1 L167.9,568 L168.2,567.1 L168.5,568.5 L168.8,569.5 L169.1,569.2 L169.4,568.6 L169.7,569 L170,567.8 L170.3,566.7 L170.6,585.4 L170.9,591.1 L171.2,594.7 L171.5,594 L171.8,592.4 L172.1,593.4 L172.4,596.1 L172.7,594.8 L173,593.5 L173.3,593.7 L173.6,594.9 L173.9,595.2 L174.2,594.9 L174.5,596 L174.8,595.5 L175.1,594.7 L175.4,595 L175.7,596.1 L176,580.1 L176.3,566.6 L176.6,564.9 L176.9,566 L177.2,567.5 L177.5,567.3 L177.8,568.7 L178.1,568.8 L178.4,569.3 L178.7,568.5 L179,571 L179.3,570.4 L179.6,568.9 L179.9,568.9 L180.2,571.3 L180.5,569.1 L180.8,569.8 L181.1,581.7 L181.4,590.5 L181.7,592.5 L182,594.6 L182.3,595.4 L182.6,596.3 L182.9,596.1 L183.2,595.3 L183.5,595.8 L183.8,595.5 L184.1,595.1 L184.4,594.8 L184.7,594.4 L185,595.1 L185.3,593.6 L185.6,593.6 L185.9,594.2 L186.2,592.9 L186.5,593.6 L186.8,571.1 L187.1,570.9 L187.4,572.9 L187.7,573.7 L188,573.6 L188.3,573.6 L188.6,572.7 L188.9,575.6 L189.2,575.2 L189.5,575.7 L189.8,574 L190.1,574.3 L190.4,572.9 L190.7,575 L191,575.7 L191.3,573.2 L191.6,576.9 L191.9,589.3 L192.2,591.3 L192.5,592.2 L192.8,593.2 L193.1,593.9 L193.4,593.3 L193.7,594.4 L194,594.9 L194.3,595.3 L194.6,595.4 L194.9,596.2 L195.2,596 L195.5,593.6 L195.8,593.7 L196.1,593.2 L196.4,593 L196.7,593.9 L197,594.2 L197.3,584.3 L197.6,578.2 L197.9,578.3 L198.2,579.8 L198.5,580.2 L198.8,580.3 L199.1,580.7 L199.4,580.2 L199.7,581.6 L200,580.1 L200.3,579.7 L200.6,579.1 L200.9,579.4 L201.2,577.1 L201.5,578.2 L201.8,579.4 L202.1,578.2 L202.4,586.4 L202.7,590.9 L203,591 L203.3,592.2 L203.6,592.4 L203.9,593.2 L204.2,593.5 L204.5,592.9 L204.8,591.9 L205.1,592.3 L205.4,592.5 L205.7,593.2 L206,592.9 L206.3,591.9 L206.6,591 L206.9,591.7 L207.2,591.5 L207.5,591 L207.8,591.8 L208.1,582.1 L208.4,582.4 L208.7,583.2 L209,582.6 L209.3,585.2 L209.6,583.4 L209.9,584.3 L210.2,583.7 L210.5,584.5 L210.8,581.4 L211.1,582.2 L211.4,583.3 L211.7,584 L212,585.8 L212.3,584.3 L212.6,584.8 L212.9,586.6 L213.2,591.1 L213.5,592.2 L213.8,592 L214.1,592.6 L214.4,591.3 L214.7,593 L215,591.3 L215.3,592.1 L215.6,594 L215.9,592.3 L216.2,592 L216.5,593 L216.8,592.2 L217.1,591.1 L217.4,591.9 L217.7,592.3 L218,592.5 L218.3,591.2 L218.6,588 L218.9,587.2 L219.2,585.9 L219.5,585.9 L219.8,585.3 L220.1,587 L220.4,585.4 L220.7,586.3 L221,585.5 L221.3,585.1 L221.6,586.3 L221.9,587.2 L222.2,586.2 L222.5,585.1 L222.8,586.6 L223.1,586 L223.4,586.2 L223.7,591.1 L224,592.6 L224.3,591.1 L224.6,594.1 L224.9,592.2 L225.2,592.6 L225.5,591 L225.8,591.2 L226.1,589.3 L226.4,592.9 L226.7,593.3 L227,590.4 L227.3,589.2 L227.6,588.8 L227.9,592 L228.2,590.8 L228.5,591 L228.8,590.7 L229.1,591 L229.4,591.3 L229.7,593 L230,591.9 L230.3,593.3 L230.6,594.1 L230.9,594.6 L231.2,593.8 L231.5,592.8 L231.8,593.8 L232.1,593.3 L232.4,595.6 L232.7,595.2 L233,594.1 L233.3,593.3 L233.6,592.9 L233.9,592.5 L234.2,592.5 L234.5,592.4 L234.8,592.3 L235.1,592.1 L235.4,593.8 L235.7,590.8 L236,590.8 L236.3,594.1 L236.6,589.3 L236.9,589.7 L237.2,590.6 L237.5,590.8 L237.8,591.1 L238.1,590.5 L238.4,591 L238.7,590.7 L239,591.5 L239.3,588.5 L239.6,589 L239.9,591.1 L240.2,591.2 L240.5,591.4 L240.8,593.5 L241.1,592.6 L241.4,593.9 L241.7,594.4 L242,594 L242.3,594.1 L242.6,593.4 L242.9,591.7 L243.2,592.9 L243.5,593.8 L243.8,592.8 L244.1,593 L244.4,594.1 L244.7,592.4 L245,592.7 L245.3,593.7 L245.6,590.8 L245.9,590.8 L246.2,590.3 L246.5,592.1 L246.8,591.1 L247.1,591.5 L247.4,589.7 L247.7,590 L248,590.1 L248.3,588 L248.6,591.3 L248.9,591.4 L249.2,588.3 L249.5,590.5 L249.8,590 L250.1,590.5 L250.4,590.9 L250.7,590 L251,591.6 L251.3,594.2 L251.6,592.5 L251.9,591.5 L252.2,590.9 L252.5,590.9 L252.8,592.8 L253.1,594.8 L253.4,593.8 L253.7,593.4 L254,595.6 L254.3,592.9 L254.6,592 L254.9,593.2 L255.2,593.5 L255.5,591 L255.8,589.5 L256.1,590.5 L256.4,590.5 L256.7,588.5 L257,589.2 L257.3,589 L257.6,590 L257.9,589.6 L258.2,589.5 L258.5,589.1 L258.8,590.7 L259.1,591.5 L259.4,589.6 L259.7,590.5 L260,588.9 L260.3,589.4 L260.6,590.3 L260.9,591.5 L261.2,590.3 L261.5,590.7 L261.8,591.3 L262.1,589.5 L262.4,590.9 L262.7,590.4 L263,591.5 L263.3,590 L263.6,588.6 L263.9,590.7 L264.2,591.4 L264.5,590.7 L264.8,592.2 L265.1,591.1 L265.4,590.5 L265.7,591.6 L266,589.3 L266.3,589.1 L266.6,589.5 L266.9,590.5 L267.2,589.4 L267.5,589.7 L267.8,588.5 L268.1,589.3 L268.4,591.1 L268.7,588.8 L269,591.8 L269.3,589 L269.6,589 L269.9,589.2 L270.2,590.3 L270.5,587.8 L270.8,586.2 L271.1,589 L271.4,589.9 L271.7,590.1 L272,592.9 L272.3,590.8 L272.6,590.3 L272.9,591 L273.2,590.6 L273.5,592 L273.8,588.9 L274.1,589.1 L274.4,585.5 L274.7,589.7 L275,589.3 L275.3,590.7 L275.6,592.5 L275.9,590.4 L276.2,589.6 L276.5,589 L276.8,588.2 L277.1,588 L277.4,589.4 L277.7,588.9 L278,588.8 L278.3,588.5 L278.6,589.6 L278.9,589.4 L279.2,588.6 L279.5,589.3 L279.8,588.5 L280.1,587.1 L280.4,589.9 L280.7,589.4 L281,587.5 L281.3,589.5 L281.6,589.1 L281.9,586.7 L282.2,589.9 L282.5,589.1 L282.8,589.6 L283.1,588.9 L283.4,588.3 L283.7,586.5 L284,589 L284.3,588.5 L284.6,588 L284.9,588.6 L285.2,588.4 L285.5,589.1 L285.8,588 L286.1,588.1 L286.4,585.6 L286.7,587 L287,588.7 L287.3,589.9 L287.6,588.1 L287.9,588 L288.2,589.9 L288.5,588.1 L288.8,589 L289.1,590.3 L289.4,588.6 L289.7,589.6 L290,587.6 L290.3,588.1 L290.6,587.9 L290.9,588.1 L291.2,589.3 L291.5,591.1 L291.8,587.9 L292.1,587.2 L292.4,588.3" fill="none" stroke="#1a1ae8" stroke-width="1.2" stroke-linejoin="round"/>
<circle cx="231.4" cy="442.3" r="2" fill="#e82828"/>
<circle cx="241.9" cy="442.3" r="2" fill="#e82828"/>
<circle cx="252.8" cy="442.3" r="2" fill="#e82828"/>
<circle cx="263.1" cy="442.3" r="2" fill="#e82828"/>
<circle cx="231.4" cy="512.9" r="2" fill="#e82828"/>
<circle cx="241.9" cy="512.9" r="2" fill="#e82828"/>
<circle cx="252.8" cy="512.9" r="2" fill="#e82828"/>
<circle cx="263.1" cy="512.9" r="2" fill="#e82828"/>
<circle cx="231.4" cy="583.9" r="2" fill="#e82828"/>
<circle cx="241.9" cy="583.9" r="2" fill="#e82828"/>
<circle cx="252.8" cy="583.9" r="2" fill="#e82828"/>
<text transform="translate(289,397.7) scale(1,1.04)" font-size="13.9" text-anchor="end" fill="#111" stroke="#111" stroke-width="0.18" >R1-2</text>
<text transform="translate(289,428.3) scale(1,1.04)" font-size="13.9" text-anchor="end" fill="#111" stroke="#111" stroke-width="0.18" >G+R-</text>
<text transform="translate(289,504.8) scale(1,1.04)" font-size="13.9" text-anchor="end" fill="#111" stroke="#111" stroke-width="0.18" >BG+R-</text>
<text transform="translate(289,565.9) scale(1,1.04)" font-size="13.9" text-anchor="end" fill="#111" stroke="#111" stroke-width="0.18" >Bg+R-</text>
<path d="M155.8,535.8 L155.8,554.3 L175.9,554.3" fill="none" stroke="#111" stroke-width="1.6"/>
<text transform="translate(161.2,535.5) scale(1,1.04)" font-size="12.6" text-anchor="start" fill="#111" stroke="#111" stroke-width="0.18" >5 mV</text>
<text transform="translate(161.2,549.7) scale(1,1.04)" font-size="12.6" text-anchor="start" fill="#111" stroke="#111" stroke-width="0.18" >500 ms</text>
<rect x="58.3" y="607.3" width="4.9" height="7.3" fill="#8a46c8"/>
<rect x="68.9" y="607.3" width="4.9" height="5.9" fill="#cc46ee"/>
<rect x="79.5" y="607.3" width="4.9" height="5.9" fill="#d68cf2"/>
<rect x="90.1" y="607.3" width="4.9" height="5.9" fill="#a312f2"/>
<rect x="100.6" y="607.3" width="4.9" height="7.3" fill="#1212f2"/>
<rect x="111.2" y="607.3" width="4.9" height="5.9" fill="#1222f2"/>
<rect x="121.8" y="607.3" width="4.9" height="5.9" fill="#1222f2"/>
<rect x="132.4" y="607.3" width="4.9" height="5.9" fill="#1838f0"/>
<rect x="143" y="607.3" width="4.9" height="5.9" fill="#14c6f6"/>
<rect x="153.6" y="607.3" width="4.9" height="7.3" fill="#12df12"/>
<rect x="164.2" y="607.3" width="4.9" height="5.9" fill="#14e614"/>
<rect x="174.7" y="607.3" width="4.9" height="5.9" fill="#22df22"/>
<rect x="185.3" y="607.3" width="4.9" height="5.9" fill="#c8f072"/>
<rect x="195.9" y="607.3" width="4.9" height="5.9" fill="#f2f014"/>
<rect x="206.5" y="607.3" width="4.9" height="7.3" fill="#f8a272"/>
<rect x="217.1" y="607.3" width="4.9" height="5.9" fill="#f27232"/>
<rect x="227.7" y="607.3" width="4.9" height="5.9" fill="#f21212"/>
<rect x="238.2" y="607.3" width="4.9" height="5.9" fill="#f21212"/>
<rect x="248.8" y="607.3" width="4.9" height="5.9" fill="#f21212"/>
<rect x="259.4" y="607.3" width="4.9" height="5.9" fill="#c24e4e"/>
<rect x="270" y="607.3" width="4.9" height="7.3" fill="#920404"/>
<text transform="translate(61,629.5) scale(1,1.04)" font-size="13.9" text-anchor="middle" fill="#111" stroke="#111" stroke-width="0.18" >365</text>
<text transform="translate(104.7,629.5) scale(1,1.04)" font-size="13.9" text-anchor="middle" fill="#111" stroke="#111" stroke-width="0.18" >400</text>
<text transform="translate(155.8,629.5) scale(1,1.04)" font-size="13.9" text-anchor="middle" fill="#111" stroke="#111" stroke-width="0.18" >510</text>
<text transform="translate(210,629.5) scale(1,1.04)" font-size="13.9" text-anchor="middle" fill="#111" stroke="#111" stroke-width="0.18" >600</text>
<text transform="translate(273,629.5) scale(1,1.04)" font-size="13.9" text-anchor="middle" fill="#111" stroke="#111" stroke-width="0.18" >685</text>
<text transform="translate(381,354.8) scale(1,1.04)" font-size="21.5" text-anchor="start" fill="#111" stroke="#111" stroke-width="0.18" >D</text>
<defs><clipPath id="clipD"><rect x="426.6" y="360.6" width="247.8" height="247.2"/></clipPath></defs>
<g clip-path="url(#clipD)">
<line x1="426.6" y1="563.2" x2="674.4" y2="563.2" stroke="#111" stroke-width="1.5" stroke-dasharray="3,2"/>
<path d="M426.7,555 C428.9,552.8 435.3,546.5 440,542 C444.7,537.5 450,532.1 455,528 C460,523.9 466,519.8 470,517.3 C474,514.8 475.4,514.9 478.8,512.9 C482.2,510.8 486.8,508.2 490.1,505 C493.5,501.8 496.1,497.5 498.9,493.6 C501.7,489.7 504.6,484.9 506.8,481.4 C509,477.9 509.1,475.9 512,472.6 C514.9,469.3 520.5,463.1 524.2,461.7 C527.9,460.3 530.9,463.3 534,464 C537.1,464.7 539.8,466.3 543,466 C546.2,465.7 549.3,464.4 553,462 C556.7,459.6 561.3,454.4 565.4,451.7 C569.5,448.9 573.6,445.7 577.7,445.5 C581.8,445.3 585.9,446.4 590,450.7 C594.1,455 598.1,461.2 602.2,471.1 C606.3,481 610.4,498.7 614.5,509.9 C618.6,521.1 622.3,530.3 626.7,538.5 C631.1,546.7 636,554.9 641.1,559 C646.2,563.1 651.9,562.4 657.4,563.1 C662.9,563.8 671.6,563.1 674.4,563.1" fill="none" stroke="#8c8c8c" stroke-width="1.3" stroke-linejoin="round" stroke-linecap="round" stroke-dasharray="3,2"/>
<path d="M426.7,559.8 C429.9,558.2 439.8,554 446,550.5 C452.2,547 458.5,542.8 464,539 C469.5,535.2 474.9,531.1 478.8,527.8 C482.7,524.5 484.6,522.5 487.5,519 C490.4,515.5 493.4,510.9 496.3,506.8 C499.2,502.7 502.7,497.5 505,494.5 C507.3,491.5 508.2,490 510.3,488.8 C512.4,487.6 515.5,487.2 517.3,487.1 C519.1,487 519.2,486.5 521,488.2 C522.8,489.9 526.1,494.2 528.2,497.4 C530.3,500.6 532,503.9 533.7,507.4 C535.4,510.9 536.6,514.8 538.3,518.4 C540,522 542,525.8 543.7,529.3 C545.4,532.8 546.5,536 548.3,539.4 C550.1,542.8 552.4,546.4 554.7,549.4 C557,552.4 559.6,555.3 562,557.2 C564.4,559.1 566.9,559.9 569.3,560.8 C571.7,561.7 573.1,562.2 576.6,562.6 C580.1,563 587.8,563.1 590,563.2" fill="none" stroke="#3333ee" stroke-width="1.4" stroke-linejoin="round" stroke-linecap="round" stroke-dasharray="0.1,2.9" stroke-linecap="round"/>
<path d="M426.7,558.8 C429.7,557.4 438.5,552.7 444.5,550.6 C450.5,548.5 456.8,546.1 462.9,546.1 C469,546.1 475.9,549.5 481.3,550.6 C486.8,551.7 490.5,553.3 495.6,552.6 C500.7,551.9 507.9,548.9 512,546.5 C516.1,544.1 517.6,541 520,538.4 C522.4,535.8 524.4,533.6 526.4,531.1 C528.4,528.6 530.1,526 531.9,523.4 C533.6,520.8 535.2,518 536.9,515.2 C538.6,512.4 540.3,509.4 541.9,506.5 C543.5,503.6 545,500.7 546.5,497.8 C548,494.9 549.2,492 550.6,489.1 C552,486.2 552.2,486.1 554.7,480.5 C557.2,474.9 561.9,461.1 565.4,455.8 C568.9,450.5 572,449.5 575.7,448.6 C579.5,447.8 584.2,448.3 587.9,450.7 C591.6,453.1 594.4,455.4 598.1,462.9 C601.9,470.4 606.3,484.7 610.4,495.6 C614.5,506.5 618.6,518.8 622.7,528.3 C626.8,537.8 630.8,547.3 634.9,552.8 C639,558.2 640.6,559.3 647.2,561 C653.8,562.7 669.9,562.7 674.4,563" fill="none" stroke="#22bb22" stroke-width="1.6" stroke-linejoin="round" stroke-linecap="round" stroke-dasharray="0.1,3.1" stroke-linecap="round"/>
<path d="M426.7,535.3 C429,534.4 435.4,531.1 440.4,530.1 C445.4,529.1 451.7,529.4 456.8,529.1 C461.9,528.8 467,529.6 471.1,528.1 C475.2,526.6 477.2,525.4 481.3,519.9 C485.4,514.4 490.8,503.4 495.6,495.4 C500.4,487.4 506.4,476.8 509.9,471.9 C513.4,467 513.9,467.5 516.5,465.9 C519.1,464.3 522.4,462.5 525.3,462.3 C528.2,462.1 531.1,463.8 534,464.5 C536.9,465.2 539.6,466.9 542.8,466.7 C546,466.4 549.6,465.1 553,463 C556.4,460.9 560,456.9 563.2,454.3 C566.4,451.8 569.2,449.1 572,447.7 C574.8,446.3 577.7,446.2 580,446.2 C582.3,446.2 583.2,446.4 585.9,447.6 C588.6,448.9 592.4,449.1 596.1,453.7 C599.9,458.3 604.3,465.5 608.4,475.2 C612.5,484.9 616.5,500.8 620.6,512 C624.7,523.2 629.1,534.4 632.9,542.6 C636.6,550.8 639.7,557.1 643.1,561 C646.5,564.9 648.1,565.4 653.3,566.1 C658.5,566.8 670.9,565.3 674.4,565.1" fill="none" stroke="#22b022" stroke-width="1.7" stroke-linejoin="round" stroke-linecap="round" />
<path d="M426.7,526.1 C429,524.9 435.7,521.3 440.4,518.9 C445.1,516.5 449.8,514 454.7,511.7 C459.6,509.4 466,507.6 470,505 C474,502.4 475.9,499.8 478.8,496.3 C481.7,492.8 484.7,488.4 487.5,484 C490.3,479.6 493,475 495.4,470 C497.8,465 499.1,460.5 501.9,454 C504.7,447.5 509.2,436.4 512.1,430.9 C515,425.3 517.3,422.6 519.4,420.7 C521.5,418.8 522.5,418.7 524.5,419.2 C526.5,419.7 528.8,421.2 531.1,423.6 C533.4,426 535.7,430.2 538.4,433.8 C541.1,437.4 544.3,442.6 547.2,445.5 C550.1,448.4 552.5,450.1 555.9,451.1 C559.3,452.1 563,450.1 567.6,451.4 C572.2,452.7 578.7,454.8 583.8,458.8 C588.9,462.8 593.7,467.4 598.1,475.2 C602.5,483 606.3,492.5 610.4,505.8 C614.5,519.1 619,543 622.7,554.9 C626.5,566.8 629.2,572.1 632.9,577.4 C636.6,582.7 640.7,585.9 645.1,586.6 C649.5,587.3 654.5,584.6 659.4,581.5 C664.3,578.4 671.9,570.4 674.4,568.2" fill="none" stroke="#1fae82" stroke-width="1.7" stroke-linejoin="round" stroke-linecap="round" />
<path d="M426.7,523.6 C428,523.6 432.1,523.2 434.3,523.6 C436.5,524 437.9,524.9 440,526 C442.1,527.1 444.1,528.6 446.6,530.1 C449.1,531.6 452.3,533.6 455,535 C457.7,536.4 460.7,538.2 462.9,538.3 C465.1,538.4 466.3,536.9 468,535.5 C469.7,534.1 471.6,532.5 473.1,530.1 C474.6,527.7 475.6,524.7 477,521 C478.4,517.3 479.6,513.8 481.3,507.7 C483,501.6 486,489.6 487.4,484.2 C488.8,478.8 488.5,479.7 489.5,475 C490.5,470.3 492.2,462.4 493.5,456 C494.8,449.6 495.6,445.6 497.5,436.8 C499.4,428 502.4,412.7 504.8,403.2 C507.2,393.7 509.9,385.4 512.1,379.8 C514.3,374.2 516.4,371.6 518,369.6 C519.6,367.6 520.1,367.6 521.6,367.8 C523.1,368.1 524.6,367.9 526.7,371.1 C528.8,374.3 531.6,380.5 534,387.1 C536.4,393.7 538.9,402.7 541.3,410.5 C543.7,418.3 546.4,427.7 548.6,433.8 C550.8,439.9 552.3,443.9 554.5,447 C556.7,450.1 559.1,450.7 561.8,452.1 C564.5,453.6 567.2,453.9 570.5,455.7 C573.8,457.5 577.9,459.6 581.8,462.9 C585.7,466.1 589.9,469.1 594,475.2 C598.1,481.3 602.5,490.9 606.3,499.7 C610,508.5 613.1,517.1 616.5,528.3 C619.9,539.5 623.3,556.9 626.7,567.1 C630.1,577.3 633.6,583.8 637,589.6 C640.4,595.4 643.5,600.9 647.2,601.9 C650.9,602.9 654.9,599.9 659.4,595.8 C663.9,591.7 671.9,580.5 674.4,577.4" fill="none" stroke="#2424e0" stroke-width="1.7" stroke-linejoin="round" stroke-linecap="round" />
</g>
<rect x="426.6" y="360.6" width="247.79999999999995" height="247.19999999999993" fill="none" stroke="#111" stroke-width="1.6"/>
<line x1="426.6" y1="607.8" x2="426.6" y2="601.3" stroke="#111" stroke-width="1.4" />
<line x1="426.6" y1="360.6" x2="426.6" y2="367.1" stroke="#111" stroke-width="1.4" />
<text transform="translate(426.6,624.4) scale(1,1.04)" font-size="13.9" text-anchor="middle" fill="#111" stroke="#111" stroke-width="0.18" >300</text>
<line x1="488.6" y1="607.8" x2="488.6" y2="601.3" stroke="#111" stroke-width="1.4" />
<line x1="488.6" y1="360.6" x2="488.6" y2="367.1" stroke="#111" stroke-width="1.4" />
<text transform="translate(488.6,624.4) scale(1,1.04)" font-size="13.9" text-anchor="middle" fill="#111" stroke="#111" stroke-width="0.18" >400</text>
<line x1="550.5" y1="607.8" x2="550.5" y2="601.3" stroke="#111" stroke-width="1.4" />
<line x1="550.5" y1="360.6" x2="550.5" y2="367.1" stroke="#111" stroke-width="1.4" />
<text transform="translate(550.5,624.4) scale(1,1.04)" font-size="13.9" text-anchor="middle" fill="#111" stroke="#111" stroke-width="0.18" >500</text>
<line x1="612.5" y1="607.8" x2="612.5" y2="601.3" stroke="#111" stroke-width="1.4" />
<line x1="612.5" y1="360.6" x2="612.5" y2="367.1" stroke="#111" stroke-width="1.4" />
<text transform="translate(612.5,624.4) scale(1,1.04)" font-size="13.9" text-anchor="middle" fill="#111" stroke="#111" stroke-width="0.18" >600</text>
<line x1="674.4" y1="607.8" x2="674.4" y2="601.3" stroke="#111" stroke-width="1.4" />
<line x1="674.4" y1="360.6" x2="674.4" y2="367.1" stroke="#111" stroke-width="1.4" />
<text transform="translate(674.4,624.4) scale(1,1.04)" font-size="13.9" text-anchor="middle" fill="#111" stroke="#111" stroke-width="0.18" >700</text>
<line x1="426.6" y1="563.2" x2="433.6" y2="563.2" stroke="#111" stroke-width="1.4" />
<line x1="674.4" y1="563.2" x2="668.4" y2="563.2" stroke="#111" stroke-width="1.4" />
<text transform="translate(424,568.3) scale(1,1.04)" font-size="13.9" text-anchor="end" fill="#111" stroke="#111" stroke-width="0.18" >0.0</text>
<line x1="426.6" y1="507.3" x2="433.6" y2="507.3" stroke="#111" stroke-width="1.4" />
<line x1="674.4" y1="507.3" x2="668.4" y2="507.3" stroke="#111" stroke-width="1.4" />
<text transform="translate(424,512.4) scale(1,1.04)" font-size="13.9" text-anchor="end" fill="#111" stroke="#111" stroke-width="0.18" >0.5</text>
<line x1="426.6" y1="450.9" x2="433.6" y2="450.9" stroke="#111" stroke-width="1.4" />
<line x1="674.4" y1="450.9" x2="668.4" y2="450.9" stroke="#111" stroke-width="1.4" />
<text transform="translate(424,456) scale(1,1.04)" font-size="13.9" text-anchor="end" fill="#111" stroke="#111" stroke-width="0.18" >1.0</text>
<line x1="426.6" y1="394.8" x2="433.6" y2="394.8" stroke="#111" stroke-width="1.4" />
<line x1="674.4" y1="394.8" x2="668.4" y2="394.8" stroke="#111" stroke-width="1.4" />
<text transform="translate(424,399.9) scale(1,1.04)" font-size="13.9" text-anchor="end" fill="#111" stroke="#111" stroke-width="0.18" >1.5</text>
<text transform="translate(396,487.4) rotate(-90)" font-size="16.3" text-anchor="middle" fill="#111" stroke="#111" stroke-width="0.18">Sensitivity</text>
<text transform="translate(555.5,646.5) scale(1,1.04)" font-size="17" text-anchor="middle" fill="#111" stroke="#111" stroke-width="0.18" >Wavelength [nm]</text>
<text transform="translate(547.5,383.1) scale(1,1.04)" font-size="13.9" text-anchor="start" fill="#111" stroke="#111" stroke-width="0.18" >Bg+R-</text>
<text transform="translate(547.5,413) scale(1,1.04)" font-size="13.9" text-anchor="start" fill="#111" stroke="#111" stroke-width="0.18" >Bg+R-</text>
<text transform="translate(555.6,443.8) scale(1,1.04)" font-size="13.9" text-anchor="start" fill="#111" stroke="#111" stroke-width="0.18" >BG+R-</text>
<path d="M618.7,436.8 C628,434.5 639,439 645,447 C652,456 653.5,470 651,481 C647,492 636,498.5 622.3,499.3 L625.4,468.6 Z" fill="#e2e2e4" stroke="#6a6a6a" stroke-width="1.1"/>
<path d="M641.4,368.7 C641.8,395 642.6,420 644.3,468.6 C645.9,420 647.2,395 647.9,368.7 L644.7,375.5 Z" fill="#92e6da" stroke="#333" stroke-width="0.9" stroke-linejoin="round"/>
<line x1="651.7" y1="472" x2="665.4" y2="474.4" stroke="#1fb01f" stroke-width="2.4" />
<line x1="648.6" y1="484.3" x2="660.7" y2="489.8" stroke="#1faf86" stroke-width="2.4" />
<line x1="644.6" y1="489.8" x2="654.9" y2="499.3" stroke="#2020e6" stroke-width="2.4" />
<text transform="translate(632.2,434.3) scale(1,1.04)" font-size="13.9" text-anchor="middle" fill="#111" stroke="#111" stroke-width="0.18" >D</text>
<text transform="translate(631.7,510.6) scale(1,1.04)" font-size="13.9" text-anchor="middle" fill="#111" stroke="#111" stroke-width="0.18" >V</text>
<text transform="translate(-0.3,682.9) scale(1,1.04)" font-size="21.5" text-anchor="start" fill="#111" stroke="#111" stroke-width="0.18" >E</text>
<defs><clipPath id="clipE"><rect x="44" y="690" width="146.5" height="252"/></clipPath><clipPath id="clipF"><rect x="278.3" y="690" width="146.5" height="252"/></clipPath></defs>
<g clip-path="url(#clipE)">
<path d="M44,768.7 L45.6,766.6 L47.8,765.2 L50.4,765.7 L53.2,763 L56,761.7 L58.6,758 L61,757.1 L63.5,752.8 L65.9,749.9 L68.3,744.8 L70.8,742.5 L73.2,739.5 L75.7,737.5 L78.2,734.8 L80.7,728.2 L83.2,724.4 L85.6,719.9 L87.8,716.3 L89.9,712.1 L91.9,711.8 L93.7,710.5 L95.5,705.2 L97.2,698.8 L98.8,700.5 L100.1,699.3 L101.3,696.9 L102.4,696.4 L103.5,695.9 L104.7,696.1 L106,695 L107.7,697 L109.6,699.8 L111.5,705.2 L113.5,707.1 L115.3,707.6 L117,709.3 L118.4,711 L119.6,712.6 L120.8,710.3 L121.9,708.1 L123,707 L124.3,708.9 L125.7,707.2 L127.3,705.8 L128.9,703.8 L130.5,700.5 L132,700.1 L133.4,698.9 L134.7,696.4 L135.9,698.3 L137,699.1 L138.2,699.5 L139.4,702.6 L140.7,707 L142.2,708.7 L143.8,710.5 L145.4,717.3 L147.1,721.5 L148.8,726.6 L150.6,729.7 L152.4,738.9 L154.2,746 L156,755.6 L157.9,764.1 L159.7,770.8 L161.5,777.8 L163.3,784.4 L165.1,792 L166.9,800.3 L168.6,804 L170.2,807.1 L171.8,812.2 L173.2,816.4 L174.5,816.8 L175.7,818.3 L176.9,819.5 L178,819.3 L179,821.8 L180.1,823 L181,821.7 L181.9,822.1 L182.8,820.1 L183.6,818.2 L184.5,816.3 L185.5,815.1 L186.6,816.8 L187.6,815.7 L188.6,814.2 L189.4,812.2 L190,811" fill="none" stroke="#1cba10" stroke-width="1.4" stroke-linejoin="round" stroke-linecap="round" />
<path d="M44,775.4 L45.6,774.3 L47.8,769.4 L50.4,769.2 L53.2,769.4 L56,766.2 L58.6,763.5 L61,760.3 L63.5,759 L65.9,754.6 L68.3,751.9 L70.8,746.2 L73.2,743.8 L75.7,740.5 L78.2,734.4 L80.7,729.1 L83.2,726 L85.6,720.2 L87.8,717.7 L89.9,712.7 L91.9,711.5 L93.8,708.8 L95.6,708.2 L97.3,705.8 L98.8,702.2 L99.9,699.7 L100.7,699.9 L101.4,700.5 L102.1,697.9 L103,698.4 L104.2,699.6 L106,699.8 L108.1,704.6 L110.5,706.6 L112.9,708.9 L115.1,712.6 L117,715.9 L118.5,716.2 L119.8,713.1 L120.9,712 L121.9,709 L123,708 L124.3,706.8 L125.7,705.2 L127.2,703.3 L128.7,701 L130.3,698.2 L131.9,695.9 L133.4,696.6 L134.9,698.6 L136.5,699.8 L138,701.6 L139.5,705.4 L141,706.5 L142.6,710.4 L144.1,712 L145.6,719.6 L147.1,728.8 L148.6,735.4 L150.2,743.3 L151.7,750.1 L153.2,758.8 L154.7,765.8 L156.2,777.6 L157.8,786.9 L159.3,796.6 L160.8,804.8 L162.3,813.5 L163.9,817.7 L165.5,825.1 L167,828.2 L168.5,831 L169.9,833.2 L171.2,837.1 L172.5,835.6 L173.7,835.9 L174.9,833.9 L176,833 L177.2,828.9 L178.5,829.3 L179.7,828.2 L181,825.9 L182.2,826.1 L183.4,824.4 L184.5,822.7 L185.6,821 L186.7,820.7 L187.7,817.5 L188.6,815.4 L189.4,815.1 L190,816.5" fill="none" stroke="#1cba10" stroke-width="1.4" stroke-linejoin="round" stroke-linecap="round" />
<path d="M44,780.9 L45.6,778.5 L47.8,776.5 L50.4,773.5 L53.2,773.5 L56,772.3 L58.6,771.1 L61,769.5 L63.5,765.1 L65.9,762.6 L68.3,761.8 L70.8,759.8 L73.2,754.2 L75.7,751.7 L78.2,747 L80.7,740.3 L83.2,733.1 L85.6,726.8 L87.8,724.2 L89.8,722.6 L91.7,720.2 L93.5,715.6 L95.2,712.3 L97,708.3 L98.8,705.9 L100.6,703.8 L102.4,705.5 L104.2,706.6 L106,706 L107.9,705.2 L109.7,706.4 L111.5,704.9 L113.3,708.8 L115.2,709.7 L117,711.7 L118.8,711.1 L120.6,710.1 L122.5,709.2 L124.4,706.1 L126.2,701.4 L128.1,700.2 L129.9,699 L131.6,698.8 L133.2,698.3 L134.8,699.3 L136.3,701.8 L137.8,701 L139.2,704.6 L140.7,710.3 L142.2,712.2 L143.8,718.5 L145.3,722.8 L146.8,727.9 L148.3,737.5 L149.8,747.4 L151.4,755.1 L152.9,769.3 L154.4,782.7 L155.9,795 L157.5,806.4 L159,813 L160.5,820.8 L162.1,829.8 L163.7,832.2 L165.2,836 L166.7,840.4 L168.1,841.1 L169.3,843.1 L170.4,844.2 L171.5,846.4 L172.5,846.4 L173.5,843.6 L174.7,842.7 L175.9,842.4 L177.3,842.6 L178.6,838.8 L180,835.8 L181.4,831.9 L182.7,829.5 L184,827.3 L185.5,826.7 L186.9,825.4 L188.1,825.4 L189.2,824 L190,823" fill="none" stroke="#1cba10" stroke-width="1.4" stroke-linejoin="round" stroke-linecap="round" />
<path d="M44,785.4 L45.5,785.2 L47.7,784.6 L50.2,785.1 L52.9,782.1 L55.8,778.8 L58.6,776.5 L61.5,773.3 L64.5,771.3 L67.7,764.2 L70.9,759.4 L74,755.7 L76.8,750.3 L79.5,745.5 L82.1,740.8 L84.6,736.3 L87,731.3 L89.3,726.1 L91.4,721.1 L93.5,716.8 L95.4,713.5 L97.2,709.6 L98.9,708 L100.6,708.4 L102.4,708.4 L104.2,705.6 L106,708.4 L107.9,709.7 L109.7,710.1 L111.5,709.4 L113.3,713.1 L115.2,713.7 L117.1,713.4 L118.9,712.9 L120.8,711.2 L122.6,708.7 L124.3,707.1 L125.9,702.2 L127.5,699.9 L129,701.6 L130.5,702.3 L131.9,700.8 L133.4,700.5 L134.9,699.1 L136.5,699.5 L138,700.5 L139.5,703.6 L141,706.9 L142.6,711.6 L144.1,718.5 L145.6,725.5 L147.1,736.4 L148.6,743.9 L150.2,752.8 L151.7,758.8 L153.2,770.8 L154.7,784.9 L156.2,796.8 L157.8,807.5 L159.3,818.2 L160.8,827.9 L162.4,834.6 L164,842.1 L165.6,844.7 L167.2,851.4 L168.6,853.5 L169.9,855.1 L171,857.1 L172,857 L172.8,858 L173.6,857.6 L174.5,859.2 L175.4,860.1 L176.5,858.7 L177.6,855.5 L178.8,851 L179.9,850.1 L181,847.7 L182,845.8 L182.8,841.8 L183.6,840.4 L184.3,836.5 L185,835.7 L185.7,835.5 L186.3,835.5 L187,837.4 L187.8,840.7 L188.4,840.6 L189.1,841.5 L189.6,838.5 L190,839.1" fill="none" stroke="#1cba10" stroke-width="1.4" stroke-linejoin="round" stroke-linecap="round" />
<path d="M44,786.7 L46,787.6 L48.7,786.9 L52,786.7 L55.5,785.7 L59,781.1 L62.2,778.8 L65.3,776.1 L68.5,771 L71.6,764.9 L74.7,760.4 L77.7,755.9 L80.5,753.7 L83.2,747.8 L85.8,742.6 L88.3,739.9 L90.6,735.9 L92.9,730.2 L95.1,727.7 L97.1,724.9 L99,722 L100.8,717.2 L102.5,715.4 L104.3,713 L106,710.3 L107.9,708.2 L109.7,707.8 L111.5,708.6 L113.3,709.8 L115.2,713.9 L117,713.5 L118.9,711 L120.8,709 L122.7,708.6 L124.6,706.2 L126.4,705 L128,703.6 L129.3,702.8 L130.4,702.5 L131.4,702.7 L132.4,702.2 L133.4,700.7 L134.5,695.8 L135.8,699.5 L137,699 L138.4,698.7 L139.7,700.1 L141.1,703.9 L142.6,708.9 L144,715.8 L145.6,725.6 L147.2,736.3 L148.8,746.7 L150.3,757.2 L151.7,766.7 L152.9,777.2 L154,784.6 L155,793.7 L156,803.9 L156.9,814.8 L157.9,824 L158.8,831.1 L159.8,837.7 L160.7,845.1 L161.6,849.7 L162.5,857.8 L163.4,861.5 L164.2,870.7 L165.1,876.4 L166,884.7 L166.9,892.4 L167.8,895.8 L168.8,897.1 L169.9,895.3 L171.1,890.3 L172.3,885.2 L173.5,880 L174.8,872.6 L176.1,864.9 L177.5,858.8 L179,855.4 L180.4,850 L181.9,844.3 L183.3,839.3 L184.5,838.2 L185.7,835.9 L186.8,835.5 L187.8,836.2 L188.7,833.2 L189.4,833.6 L190,833.7" fill="none" stroke="#1cba10" stroke-width="1.4" stroke-linejoin="round" stroke-linecap="round" />
<path d="M44,792.2 L46,792.6 L48.7,790.7 L52,792.9 L55.5,791.2 L59,786.1 L62.2,784.5 L65.3,781.1 L68.3,779.7 L71.4,774.2 L74.4,769.9 L77.5,765 L80.5,762.3 L83.6,757 L86.9,752.9 L90.1,745.9 L93.2,742.7 L96.1,735.5 L98.8,729.8 L101,727 L102.9,722.4 L104.7,721.2 L106.3,717.5 L108,717.9 L109.7,718.1 L111.5,717.4 L113.3,712.4 L115.2,716.4 L117,717 L118.8,717 L120.6,714.7 L122.5,714.8 L124.4,708.4 L126.2,708.2 L128.1,702 L129.9,700.3 L131.6,700.4 L133.2,698.4 L134.8,700.8 L136.3,700.7 L137.8,703.5 L139.2,707.1 L140.7,711.8 L142.3,716.4 L143.8,720.6 L145.4,730.3 L146.9,738 L148.4,749.6 L149.8,758.6 L151.2,768.4 L152.5,780.4 L153.7,791.2 L154.9,802.7 L156.1,813.8 L157.1,826.8 L158.2,835.3 L159.1,841.7 L160,853.8 L160.9,861.5 L161.7,868.6 L162.6,874.8 L163.5,880.6 L164.4,886 L165.2,892.7 L166.1,897.2 L167.1,901.3 L168.1,903.8 L169.2,902 L170.3,897 L171.5,890.9 L172.8,884.7 L174.1,878.5 L175.4,871 L176.9,865.9 L178.4,860.1 L180.1,851.4 L181.7,847.9 L183.2,843.6 L184.5,839.7 L185.7,840.9 L186.8,839.6 L187.8,838.1 L188.7,836.5 L189.4,837.4 L190,836.8" fill="none" stroke="#1cba10" stroke-width="1.4" stroke-linejoin="round" stroke-linecap="round" />
<path d="M44,797.5 L46,799.2 L48.7,793.6 L52,792.5 L55.5,791.2 L59,790.2 L62.2,787.2 L65.3,787.5 L68.3,782.7 L71.4,776.5 L74.4,775.7 L77.5,771.5 L80.5,769.7 L83.6,767.3 L86.7,762 L89.9,757.9 L92.9,753.1 L95.9,747.7 L98.8,743.3 L101.4,737.6 L104,733.3 L106.5,730.1 L108.9,727.2 L111.2,725.5 L113.3,723.1 L115.4,720.3 L117.3,718.1 L119.2,716.7 L120.9,713.6 L122.6,709.9 L124.3,710.6 L125.9,707.7 L127.5,706.6 L129,704.8 L130.5,702.8 L131.9,700.3 L133.4,699.1 L134.9,698.7 L136.5,699.6 L138,699.9 L139.5,702.1 L141,707.1 L142.6,711.9 L144.1,719.2 L145.7,727.8 L147.3,738.2 L148.9,749.1 L150.4,763.1 L151.7,773 L152.8,784.8 L153.8,796.6 L154.7,806 L155.5,816.3 L156.3,826.2 L157.1,835.8 L158,843.4 L158.8,851.8 L159.6,860.6 L160.4,866.4 L161.1,872.7 L161.9,880.2 L162.6,887.1 L163.3,893.9 L163.9,900.4 L164.6,904.7 L165.4,908.4 L166.3,911.1 L167.3,911.6 L168.4,907.4 L169.5,902.9 L170.8,894.8 L172.1,888.4 L173.6,880.4 L175.3,876.4 L177.2,868.3 L179.2,860.6 L181.1,854.8 L183,846.4 L184.5,842.8 L185.8,839.9 L187,837.3 L187.9,836.4 L188.8,833.6 L189.5,833.2 L190,830.9" fill="none" stroke="#1cba10" stroke-width="1.4" stroke-linejoin="round" stroke-linecap="round" />
<path d="M44,798 L45.6,795.3 L47.8,792.8 L50.4,792.9 L53.2,793 L56,791.1 L58.6,786.2 L61.1,781.8 L63.7,781.7 L66.4,781.8 L68.9,781.8 L71.2,781 L73.2,778.5 L74.8,779.5 L76,781.3 L77.1,782.3 L78.1,787.1 L79.2,789 L80.5,787.6 L82.1,785.7 L83.7,782.2 L85.5,777.3 L87.4,771.9 L89.4,766.2 L91.4,761.9 L93.7,757.1 L96,752.9 L98.5,746.8 L101,742.1 L103.6,738.9 L106,735.9 L108.5,733 L111,729.7 L113.5,725.5 L115.9,722.6 L118.3,722.8 L120.6,719.4 L122.9,718.1 L125.2,712.7 L127.4,708.7 L129.5,703.7 L131.5,698.6 L133.4,699.4 L135.2,700 L136.7,697.5 L138.2,700.4 L139.6,700.4 L141.1,704.9 L142.6,711.1 L144.1,719.9 L145.6,730.1 L147.1,738.5 L148.6,747 L150.2,758.6 L151.7,768.7 L153.2,776.5 L154.7,787.6 L156.2,798 L157.8,807.8 L159.3,815.4 L160.8,822.5 L162.4,830.6 L163.9,832.2 L165.5,839.2 L167.1,842 L168.6,846.1 L169.9,849.4 L171.1,853.6 L172.1,855.4 L173.1,856.4 L174,858 L175,854.6 L176.1,854.9 L177.4,854.7 L178.9,847.4 L180.4,845.2 L181.9,838.6 L183.3,837.8 L184.5,832.2 L185.7,833.3 L186.8,833.3 L187.8,831.7 L188.7,833.7 L189.4,832.1 L190,829.7" fill="none" stroke="#1cba10" stroke-width="1.4" stroke-linejoin="round" stroke-linecap="round" />
<path d="M44,780.3 L46,777.7 L48.7,776 L52,775.7 L55.5,773.5 L59,769.6 L62.2,765.7 L65.3,761.8 L68.5,756.8 L71.6,749.8 L74.7,745.6 L77.7,740.4 L80.5,733.5 L83.2,731.3 L85.8,725.4 L88.3,719.9 L90.6,714.1 L92.9,710.5 L95.1,708.6 L97.1,706.6 L99,703.2 L100.8,700.7 L102.5,698.9 L104.3,700 L106,699.9 L107.9,699.8 L109.8,702.9 L111.6,710.1 L113.5,711.2 L115.3,713.9 L117,715 L118.6,716.6 L120.2,711.6 L121.8,711.7 L123.3,713.5 L124.7,710.6 L126.1,708.1 L127.4,706.7 L128.6,706.9 L129.8,701.5 L130.9,699.1 L132.1,696.1 L133.4,696.8 L134.8,697.7 L136.3,697.5 L137.9,699.2 L139.4,701.8 L141,704.4 L142.6,704.4 L144,708.7 L145.5,713.5 L147,722.5 L148.5,727.7 L150,733.3 L151.7,740.4 L153.4,748.8 L155.3,762.9 L157.1,776.2 L159,786 L160.9,795.3 L162.6,801.1 L164.3,807.6 L165.8,814.8 L167.3,820.3 L168.8,824.1 L170.3,828.3 L171.8,831.7 L173.3,830.3 L174.8,830.3 L176.3,830.9 L177.8,829.2 L179.4,826 L180.9,825.6 L182.5,823.6 L184.3,821.3 L186,818.5 L187.6,815.9 L189,816 L190,815.9" fill="none" stroke="#1cba10" stroke-width="1.4" stroke-linejoin="round" stroke-linecap="round" />
<path d="M44,800.8 L46,798.3 L48.7,798.3 L52,797.2 L55.5,799 L59,795.9 L62.2,794.6 L65.3,791.9 L68.3,787.9 L71.4,786.1 L74.4,782.8 L77.5,776.8 L80.5,773.4 L83.6,769.6 L86.9,767.7 L90.1,768.2 L93.2,767.1 L96.1,765.3 L98.8,762.4 L101,759.1 L102.9,759 L104.7,760 L106.3,756.9 L108,754.2 L109.7,750.8 L111.5,751.3 L113.3,752 L115.2,752.6 L117,751.6 L118.8,748.6 L120.6,741.7 L122.5,737.2 L124.4,732.9 L126.4,725.1 L128.2,722.2 L130,714.2 L131.6,707.1 L133,705.1 L134.2,702 L135.4,701.9 L136.5,701.8 L137.6,702.9 L138.9,702.8 L140.3,704.3 L141.8,708.4 L143.3,710.8 L144.9,716.6 L146.5,724.2 L148,728.6 L149.5,736.8 L151.1,747 L152.6,754.8 L154.1,764 L155.6,774.7 L157.1,784.7 L158.7,791.2 L160.3,801.8 L161.9,809.4 L163.4,816.3 L164.9,825.3 L166.3,832.8 L167.5,839.5 L168.5,845 L169.5,853.2 L170.4,858.9 L171.4,863 L172.5,863.8 L173.6,863.5 L174.9,862.4 L176.1,857.3 L177.4,857.2 L178.6,854.6 L179.8,850 L181,847.5 L182.1,842.8 L183.3,838 L184.4,838.2 L185.4,834.4 L186.3,834.4 L187.2,834.1 L187.9,833.5 L188.6,837.3 L189.2,839.2 L189.6,843.8 L190,841.9" fill="none" stroke="#1cba10" stroke-width="1.4" stroke-linejoin="round" stroke-linecap="round" />
<path d="M44,777 L46,776.4 L48.7,773.8 L52,772.2 L55.5,770.1 L59,766.2 L62.2,763.2 L65.3,759.6 L68.5,756.9 L71.6,752 L74.7,745.7 L77.7,742 L80.5,738.2 L83.2,735.1 L85.8,732 L88.3,728.3 L90.6,724.7 L92.9,718.6 L95.1,715.1 L97.1,712.2 L99,709.1 L100.8,704 L102.5,698.3 L104.3,698 L106,698 L107.9,701.4 L109.7,701.1 L111.5,708.3 L113.3,711.5 L115.2,715.5 L117,717.6 L118.9,716.1 L120.8,716.6 L122.7,711.9 L124.6,709.7 L126.3,706.1 L128,703.2 L129.4,701 L130.6,698.4 L131.7,701 L132.8,699.4 L134,698.6 L135.2,698.6 L136.7,698 L138.2,699.7 L139.7,700.2 L141.3,703.2 L142.8,705 L144.4,709.5 L145.9,715.2 L147.4,721.1 L148.9,727.7 L150.5,733.9 L152,742.9 L153.5,750.4 L155,760.5 L156.5,766.8 L158.1,776.2 L159.6,788.7 L161.1,798.3 L162.6,803 L164.1,810.7 L165.6,813 L167.1,815.6 L168.6,819.2 L170.1,821.6 L171.8,822.1 L173.5,821.5 L175.4,823.8 L177.3,824 L179.3,822.5 L181.1,821.7 L182.7,819.4 L184.2,818.1 L185.7,816.9 L187,814.3 L188.2,813.8 L189.2,813.5 L190,813.4" fill="none" stroke="#1cba10" stroke-width="1.4" stroke-linejoin="round" stroke-linecap="round" />
<path d="M44,816.1 L45.2,816.8 L46.9,814.8 L48.9,815.4 L51,816.5 L53.1,814.3 L55,813.5 L56.6,812.4 L58.1,813 L59.6,811.8 L61.1,812 L62.6,812.7 L64.1,812.7 L65.6,811.3 L67,811 L68.5,809.4 L70,809.8 L71.6,812.3 L73.2,813.3 L74.9,816.2 L76.8,817.8 L78.7,820.8 L80.6,823.7 L82.4,825.5 L84.2,824.6 L85.8,827.6 L87.3,827.4 L88.8,827.6 L90.3,829 L91.8,828.6 L93.3,828.1 L94.8,824.6 L96.4,825.2 L98,825.4 L99.5,823 L101,822.5 L102.4,818.9 L103.7,819.5 L105,818.8 L106.2,818.6 L107.3,816.6 L108.5,812 L109.7,807.2 L110.9,802.9 L112.1,798.2 L113.3,793.8 L114.6,785.2 L115.8,776.8 L117,769.3 L118.2,760.6 L119.4,755.1 L120.6,750.3 L121.9,746.2 L123.1,739.9 L124.3,732.9 L125.5,725.6 L126.8,721.1 L128.1,718.5 L129.3,711.5 L130.5,705.7 L131.6,705 L132.6,701.4 L133.5,703.7 L134.3,701.4 L135.2,704 L136.1,704.6 L137.1,703.4 L138.2,704.4 L139.3,703.6 L140.5,707.4 L141.7,709.5 L143,712.8 L144.4,719.1 L145.8,726.3 L147.3,734.2 L148.8,744.1 L150.4,754.6 L152,765.7 L153.5,777.9 L155,788.1 L156.5,798.6 L158.1,805.8 L159.6,817.3 L161.1,826.5 L162.6,836.6 L164.2,840.1 L165.7,845 L167.3,847.7 L168.8,849.9 L170.3,851.5 L171.8,850.7 L173.1,849.2 L174.4,846.8 L175.7,843.3 L177,841.3 L178.3,840.7 L179.8,837.8 L181.5,836.7 L183.4,835.1 L185.4,836 L187.3,836 L188.9,836.8 L190,835.3" fill="none" stroke="#1cba10" stroke-width="1.4" stroke-linejoin="round" stroke-linecap="round" />
<path d="M44,817.3 L44.6,814.1 L45.3,812.3 L46.2,809.4 L47.2,802.8 L48.3,800.8 L49.5,797 L50.6,794.1 L51.8,794.1 L53,792.1 L54.5,788.6 L56.3,788.3 L58.6,787.7 L61.6,784.5 L65.1,781.3 L69,776.4 L73,773 L76.9,770.4 L80.5,767.9 L83.8,762.8 L86.9,758.6 L89.9,753.7 L92.8,746.1 L95.8,740.7 L98.8,737.3 L101.8,731.4 L104.9,726.7 L108,725 L111.1,719.6 L114.1,718.4 L117,714.3 L119.9,711 L122.9,708.7 L125.8,706.7 L128.6,700.8 L131.1,699.3 L133.4,699.5 L135.4,700.4 L137,701 L138.4,701.6 L139.8,704 L141.1,706.9 L142.6,712.7 L144.1,720.9 L145.6,727.2 L147.1,734.5 L148.6,746.7 L150.2,756.9 L151.7,764.5 L153.2,772.5 L154.7,783.5 L156.2,794.1 L157.8,801.5 L159.3,809.9 L160.8,819.1 L162.3,825.8 L163.9,830.1 L165.5,833 L167,836.5 L168.5,837.2 L169.9,839 L171.2,839.2 L172.3,837.3 L173.3,836.4 L174.5,836.4 L175.7,837 L177.2,833.7 L179.2,832.6 L181.6,831.1 L184.1,827.4 L186.5,827 L188.5,824.2 L190,821.8" fill="none" stroke="#1cba10" stroke-width="1.4" stroke-linejoin="round" stroke-linecap="round" />
<path d="M44,789.2 L46,788.6 L48.7,788 L52,787 L55.5,785.9 L59,783.3 L62.2,778 L65.3,776.6 L68.5,772.4 L71.6,765.4 L74.7,761.8 L77.7,756.4 L80.5,752.5 L83.2,746.3 L85.8,744 L88.3,736.4 L90.6,730.5 L92.9,725.6 L95.1,723 L97.1,715 L99,711.6 L100.8,710.3 L102.5,708.2 L104.3,707 L106,704 L107.9,702.9 L109.7,705.3 L111.5,707.3 L113.3,710.6 L115.2,713.4 L117,713.2 L118.9,710.9 L120.8,709.1 L122.7,708.2 L124.5,704.2 L126.3,704.5 L128,700.6 L129.4,697.1 L130.8,696.1 L132,694.5 L133.2,694.3 L134.5,694.6 L136,697.2 L137.6,700.4 L139.3,700.1 L141,701.2 L142.8,705.8 L144.5,710.6 L146.2,713.9 L147.8,719.5 L149.3,726.4 L150.8,735.7 L152.3,748.5 L153.8,761 L155.3,769.3 L156.9,779.2 L158.4,788.2 L160,796.2 L161.5,803.5 L163,814.9 L164.4,820.8 L165.8,827.4 L167.2,831.5 L168.5,830.7 L169.8,834 L171.1,836.2 L172.5,835.6 L173.8,836.6 L175.2,835.7 L176.6,834.6 L178,833 L179.4,828.8 L180.9,828.2 L182.5,827.6 L184.2,825.9 L186,823.2 L187.6,823.6 L189,822.9 L190,824.2" fill="none" stroke="#1cba10" stroke-width="1.4" stroke-linejoin="round" stroke-linecap="round" />
<path d="M44,757.3 C44.1,756.5 44.5,754.4 44.8,752.4 C45.1,750.4 45.4,747.9 45.8,745.4 C46.2,742.8 46.6,739.9 47.1,737.1 C47.5,734.4 48,731.4 48.4,728.7 C48.9,726.1 49.4,723.4 49.9,721.2 C50.3,718.9 50.8,717 51.3,715.3 C51.8,713.7 52.3,712.4 52.8,711.2 C53.3,709.9 53.8,708.8 54.3,707.9 C54.8,706.9 55.4,706.1 55.9,705.4 C56.5,704.7 57,704.1 57.6,703.6 C58.1,703.2 58.7,702.8 59.2,702.6 C59.7,702.4 60.3,702.2 60.8,702.3 C61.3,702.3 61.8,702.5 62.3,702.8 C62.8,703.2 63.3,703.8 63.8,704.4 C64.2,705 64.7,705.8 65.2,706.7 C65.7,707.5 66.2,708.5 66.7,709.4 C67.2,710.4 67.7,711.4 68.3,712.4 C68.8,713.4 69.3,714.3 69.9,715.3 C70.5,716.4 71.1,717.5 71.7,718.7 C72.3,719.9 73,721.4 73.6,722.8 C74.3,724.1 74.9,725.7 75.6,727 C76.3,728.4 76.9,729.8 77.6,731 C78.3,732.3 79,733.4 79.6,734.3 C80.3,735.2 80.9,735.9 81.6,736.3 C82.2,736.7 82.9,736.9 83.5,736.9 C84.2,736.9 84.8,736.6 85.5,736.3 C86.1,736 86.8,735.4 87.4,734.9 C88.1,734.4 88.7,733.8 89.4,733.2 C90,732.6 90.7,732 91.3,731.5 C92,731 92.6,730.6 93.3,730.2 C93.9,729.7 94.6,729.4 95.3,729 C96,728.6 96.7,728.2 97.3,727.8 C98,727.4 98.7,726.9 99.4,726.5 C100.1,726.1 100.8,725.7 101.4,725.4 C102.1,725.1 102.7,724.7 103.3,724.5 C103.9,724.3 104.4,724.1 105,724 C105.5,723.9 105.9,723.9 106.3,724.1 C106.7,724.2 107.1,724.5 107.4,724.8 C107.8,725 108.1,725.4 108.4,725.7 C108.7,726 109.1,726.3 109.4,726.5 C109.8,726.7 110.1,726.9 110.5,726.9 C110.9,726.9 111.4,726.7 111.9,726.5 C112.4,726.2 113,725.7 113.6,725.1 C114.2,724.6 114.9,723.9 115.6,723.1 C116.2,722.4 117,721.5 117.7,720.7 C118.4,719.8 119.1,718.9 119.8,718 C120.5,717.1 121.1,716.2 121.8,715.3 C122.4,714.5 123,713.7 123.6,712.9 C124.1,712 124.6,711.2 125.1,710.3 C125.6,709.4 126.1,708.4 126.5,707.4 C126.9,706.5 127.4,705.5 127.8,704.5 C128.2,703.6 128.6,702.7 129,702 C129.4,701.3 129.9,700.6 130.3,700.1 C130.7,699.7 131.1,699.4 131.6,699.3 C132.1,699.2 132.5,699.3 133,699.4 C133.5,699.5 133.9,699.8 134.4,700.1 C134.9,700.5 135.4,700.9 135.9,701.5 C136.3,702.1 136.8,702.8 137.3,703.7 C137.8,704.5 138.2,705.5 138.7,706.6 C139.1,707.7 139.6,709 140,710.4 C140.4,711.8 140.8,713.3 141.2,715 C141.6,716.6 142,718.4 142.4,720.3 C142.8,722.2 143.2,724.3 143.6,726.5 C143.9,728.6 144.3,730.9 144.7,733.4 C145,735.9 145.4,738.5 145.8,741.2 C146.2,744 146.5,746.8 146.9,749.9 C147.3,753 147.7,756.4 148.1,759.9 C148.5,763.5 148.9,767.5 149.3,771.4 C149.7,775.4 150.1,779.6 150.4,783.8 C150.8,787.9 151.2,792.2 151.6,796.4 C152,800.5 152.4,804.7 152.8,808.7 C153.1,812.7 153.5,816.5 153.9,820.2 C154.2,824 154.6,827.5 155,831.1 C155.3,834.7 155.7,838.4 156,841.9 C156.4,845.5 156.7,849 157.1,852.4 C157.4,855.9 157.8,859.3 158.1,862.5 C158.4,865.8 158.8,869 159.1,872 C159.4,875 159.8,877.8 160.1,880.7 C160.4,883.6 160.7,886.4 161,889.2 C161.3,892 161.5,894.9 161.8,897.7 C162.1,900.4 162.4,903.1 162.6,905.6 C162.9,908 163.2,910.3 163.5,912.3 C163.7,914.2 164,915.9 164.3,917.1 C164.6,918.3 164.9,919.2 165.2,919.6 C165.5,919.9 165.8,919.7 166.1,919.2 C166.4,918.7 166.7,917.6 167.1,916.4 C167.4,915.2 167.7,913.6 168,911.8 C168.4,910.1 168.7,908 169,906 C169.4,904 169.7,901.7 170,899.5 C170.4,897.4 170.7,895.3 171,893 C171.4,890.8 171.7,888.5 172,886 C172.4,883.4 172.7,880.6 173.1,877.7 C173.4,874.9 173.8,871.8 174.1,868.9 C174.4,865.9 174.8,862.8 175.1,859.9 C175.5,857 175.8,854 176.2,851.3 C176.5,848.6 176.9,846.1 177.2,843.7 C177.6,841.3 177.9,839 178.3,836.8 C178.6,834.5 178.9,832.3 179.3,830.2 C179.6,828.1 180,826 180.3,824 C180.6,822 181,820.1 181.3,818.4 C181.7,816.6 182,814.9 182.4,813.4 C182.7,811.8 183.1,810.4 183.4,809.1 C183.8,807.9 184.2,806.8 184.6,805.8 C185,804.8 185.4,804 185.8,803.3 C186.3,802.5 186.7,802 187.1,801.4 C187.5,800.9 187.9,800.4 188.3,800 C188.6,799.6 189,799.3 189.3,799 C189.6,798.6 189.9,798.2 190,798" fill="none" stroke="#ee4fd8" stroke-width="1.3" stroke-linejoin="round" stroke-linecap="round" />
<path d="M44,780.7 C44.3,780.5 45.2,779.9 46,779.4 C46.8,778.8 47.7,778.2 48.7,777.5 C49.7,776.8 50.9,776.1 52,775.3 C53.1,774.5 54.3,773.6 55.5,772.7 C56.7,771.9 57.9,770.9 59,770 C60.1,769.1 61.2,768.2 62.2,767.2 C63.3,766.2 64.3,765.2 65.4,764 C66.4,762.9 67.5,761.7 68.6,760.5 C69.7,759.3 70.8,758.1 71.8,756.8 C72.9,755.6 73.9,754.3 75,753.1 C76,751.9 77,750.6 77.9,749.5 C78.8,748.3 79.7,747.2 80.5,746.2 C81.3,745.2 82,744.2 82.7,743.2 C83.4,742.3 84.1,741.4 84.7,740.5 C85.3,739.6 85.9,738.7 86.4,737.8 C87,737 87.5,736.1 88.1,735.3 C88.6,734.4 89.1,733.6 89.7,732.7 C90.3,731.9 90.9,731.1 91.4,730.2 C92,729.2 92.7,728.3 93.3,727.3 C93.9,726.3 94.5,725.2 95.1,724.2 C95.7,723.1 96.3,722 96.9,721.1 C97.5,720.1 98.1,719.1 98.8,718.2 C99.4,717.4 100,716.6 100.6,716 C101.2,715.5 101.8,715 102.4,714.7 C103,714.5 103.6,714.5 104.2,714.7 C104.8,714.9 105.4,715.3 106,715.8 C106.7,716.3 107.3,716.9 107.9,717.5 C108.5,718.1 109.1,718.8 109.7,719.3 C110.3,719.8 110.9,720.3 111.5,720.6 C112.1,720.9 112.7,721 113.3,720.9 C114,720.8 114.6,720.5 115.2,720.1 C115.8,719.8 116.5,719.3 117.1,718.7 C117.7,718.1 118.3,717.5 119,716.8 C119.6,716.1 120.2,715.4 120.8,714.6 C121.4,713.9 122,713.1 122.6,712.4 C123.2,711.7 123.8,711.1 124.3,710.4 C124.8,709.7 125.4,709 125.9,708.2 C126.4,707.4 126.9,706.5 127.4,705.7 C127.9,704.8 128.4,703.9 128.9,703.1 C129.4,702.3 129.8,701.5 130.3,700.8 C130.8,700.1 131.2,699.5 131.7,699.1 C132.1,698.7 132.6,698.4 133.1,698.3 C133.5,698.2 134,698.2 134.4,698.3 C134.8,698.4 135.2,698.5 135.6,698.8 C136.1,699 136.5,699.3 136.9,699.8 C137.3,700.3 137.7,700.9 138.1,701.6 C138.5,702.4 138.9,703.2 139.4,704.3 C139.8,705.3 140.3,706.5 140.7,707.9 C141.2,709.4 141.7,711.1 142.2,712.9 C142.7,714.8 143.2,717 143.8,719.3 C144.3,721.5 144.8,724 145.4,726.5 C145.9,728.9 146.4,731.5 146.9,734.1 C147.5,736.6 148,739.2 148.5,741.6 C148.9,744.1 149.4,746.4 149.8,748.7 C150.3,750.9 150.7,753.1 151.1,755.3 C151.4,757.5 151.8,759.7 152.1,761.9 C152.5,764.1 152.8,766.3 153.1,768.4 C153.5,770.6 153.8,772.8 154.1,774.9 C154.5,777.1 154.8,779.2 155.2,781.3 C155.6,783.4 156,785.4 156.4,787.5 C156.9,789.6 157.3,791.7 157.8,793.9 C158.3,796.1 158.8,798.3 159.4,800.5 C159.9,802.6 160.4,804.8 161,806.9 C161.5,809 162,811.1 162.6,813 C163.1,814.9 163.6,816.7 164.1,818.3 C164.6,820 165.1,821.4 165.5,822.7 C166,824 166.4,825 166.8,826 C167.2,827 167.6,827.8 167.9,828.5 C168.3,829.2 168.6,829.8 169,830.3 C169.3,830.8 169.7,831.2 170.1,831.5 C170.4,831.8 170.8,832.1 171.2,832.2 C171.6,832.4 172,832.6 172.5,832.6 C172.9,832.6 173.4,832.5 173.9,832.3 C174.4,832 175,831.6 175.5,831.2 C176,830.7 176.6,830.2 177.2,829.6 C177.7,829.1 178.3,828.4 178.8,827.8 C179.4,827.3 179.9,826.6 180.4,826.1 C181,825.6 181.5,825.2 182,824.8 C182.5,824.4 183,824.1 183.5,823.7 C184,823.4 184.5,823.1 185.1,822.7 C185.6,822.4 186.1,822.1 186.6,821.8 C187.1,821.5 187.5,821.2 188,821 C188.4,820.7 188.8,820.5 189.1,820.3 C189.5,820.1 189.9,819.8 190,819.7" fill="none" stroke="#000" stroke-width="2.7" stroke-linejoin="round" stroke-linecap="round" />
</g>
<path d="M44,694.3 L44,942 L190.1,942" fill="none" stroke="#111" stroke-width="1.6"/>
<line x1="44" y1="695.6" x2="50.5" y2="695.6" stroke="#111" stroke-width="1.4" />
<text transform="translate(41.7,700.7) scale(1,1.04)" font-size="13.9" text-anchor="end" fill="#111" stroke="#111" stroke-width="0.18" >1.0</text>
<line x1="44" y1="757.3" x2="50.5" y2="757.3" stroke="#111" stroke-width="1.4" />
<text transform="translate(41.7,762.4) scale(1,1.04)" font-size="13.9" text-anchor="end" fill="#111" stroke="#111" stroke-width="0.18" >0.5</text>
<line x1="44" y1="819" x2="50.5" y2="819" stroke="#111" stroke-width="1.4" />
<text transform="translate(41.7,824.1) scale(1,1.04)" font-size="13.9" text-anchor="end" fill="#111" stroke="#111" stroke-width="0.18" >0.0</text>
<line x1="44" y1="880.7" x2="50.5" y2="880.7" stroke="#111" stroke-width="1.4" />
<text transform="translate(41.7,885.8) scale(1,1.04)" font-size="13.9" text-anchor="end" fill="#111" stroke="#111" stroke-width="0.18" >-0.5</text>
<line x1="44" y1="942" x2="50.5" y2="942" stroke="#111" stroke-width="1.4" />
<text transform="translate(41.7,947.1) scale(1,1.04)" font-size="13.9" text-anchor="end" fill="#111" stroke="#111" stroke-width="0.18" >-1.0</text>
<line x1="44" y1="942" x2="44" y2="935.5" stroke="#111" stroke-width="1.4" />
<text transform="translate(44,959.7) scale(1,1.04)" font-size="13.9" text-anchor="middle" fill="#111" stroke="#111" stroke-width="0.18" >300</text>
<line x1="80.5" y1="942" x2="80.5" y2="935.5" stroke="#111" stroke-width="1.4" />
<text transform="translate(80.5,959.7) scale(1,1.04)" font-size="13.9" text-anchor="middle" fill="#111" stroke="#111" stroke-width="0.18" >400</text>
<line x1="117" y1="942" x2="117" y2="935.5" stroke="#111" stroke-width="1.4" />
<text transform="translate(117,959.7) scale(1,1.04)" font-size="13.9" text-anchor="middle" fill="#111" stroke="#111" stroke-width="0.18" >500</text>
<line x1="153.5" y1="942" x2="153.5" y2="935.5" stroke="#111" stroke-width="1.4" />
<text transform="translate(153.5,959.7) scale(1,1.04)" font-size="13.9" text-anchor="middle" fill="#111" stroke="#111" stroke-width="0.18" >600</text>
<line x1="190" y1="942" x2="190" y2="935.5" stroke="#111" stroke-width="1.4" />
<text transform="translate(190,959.7) scale(1,1.04)" font-size="13.9" text-anchor="middle" fill="#111" stroke="#111" stroke-width="0.18" >700</text>
<line x1="44" y1="819" x2="190" y2="819" stroke="#111" stroke-width="1.5" stroke-dasharray="1.5,1.6"/>
<text transform="translate(13.3,820.5) rotate(-90)" font-size="16.5" text-anchor="middle" fill="#111" stroke="#111" stroke-width="0.18">Sensitivity</text>
<text transform="translate(231.3,682.7) scale(1,1.04)" font-size="21.5" text-anchor="start" fill="#111" stroke="#111" stroke-width="0.18" >F</text>
<g clip-path="url(#clipF)">
<path d="M278.3,750.3 L279.9,748 L282.2,744.9 L284.9,741.5 L287.8,736.5 L290.5,733.6 L292.9,729.2 L294.9,727.6 L296.8,726.5 L298.6,725.7 L300.3,725.5 L302.1,723.5 L303.9,722.3 L305.7,719.6 L307.5,720.4 L309.3,717.9 L311.2,718.1 L313,716.8 L314.8,717.6 L316.6,714.7 L318.5,714.7 L320.4,711.9 L322.2,709.1 L324,706.7 L325.8,704.2 L327.4,702 L328.9,700.1 L330.4,700.1 L331.9,698.6 L333.4,698.4 L334.9,698 L336.4,697.1 L338,699.1 L339.6,704.2 L341.1,705.3 L342.6,706.8 L344,709.4 L345.3,710 L346.4,715.2 L347.5,718.6 L348.7,719.7 L349.9,725.1 L351.3,728.7 L353,725.5 L354.8,724.3 L356.8,719.6 L358.7,717.2 L360.6,715.7 L362.2,715 L363.6,717.1 L364.8,718.9 L365.8,717.1 L366.8,717.6 L368.1,721.4 L369.6,724.1 L371.4,725.6 L373.5,728.2 L375.7,733.5 L378,739.7 L380.2,743.6 L382.3,748.8 L384.3,756.1 L386.1,763.3 L387.9,771.1 L389.7,777.6 L391.5,786.4 L393.3,794.1 L395.1,800.5 L397,805 L398.9,809.2 L400.7,816.5 L402.5,819.4 L404.2,820.9 L405.8,822.8 L407.3,822.2 L408.8,822.7 L410.2,821.1 L411.7,820.8 L413.4,821.2 L415.2,820.3 L417.3,818 L419.4,817.2 L421.4,815.7 L423.1,813.8 L424.3,809.8" fill="none" stroke="#2a9db0" stroke-width="1.25" stroke-linejoin="round" stroke-linecap="round" />
<path d="M278.3,762.5 L279.9,761.5 L282.1,759.7 L284.7,758.9 L287.5,757.7 L290.3,758.1 L292.9,757.8 L295.3,754.6 L297.8,754.9 L300.2,751.3 L302.6,749.4 L305.1,746.9 L307.5,744.5 L310,739.8 L312.6,734.5 L315.3,727.9 L317.8,721.5 L320.1,716.3 L322.1,711.5 L323.7,706.7 L325,703.9 L326.1,700.7 L327.1,699 L328.2,699.5 L329.4,696.2 L330.8,695.5 L332.4,694.2 L334,694.5 L335.6,697.3 L337.1,697.4 L338.5,698.7 L339.9,702.4 L341.2,703.9 L342.4,706.2 L343.6,706.2 L344.7,707.5 L345.8,712.3 L346.8,714.1 L347.6,715 L348.3,717.5 L349.1,720.6 L350.1,720 L351.3,723.2 L352.9,719.8 L354.7,716.9 L356.8,715.1 L358.8,711.5 L360.7,712.9 L362.2,712.1 L363.4,710.8 L364.3,710.8 L365,710.6 L365.7,710.6 L366.6,712 L367.7,712.2 L369.2,712.4 L371,715.2 L372.9,720 L374.8,724.7 L376.8,729.3 L378.7,734 L380.5,740.2 L382.3,749.7 L384.1,755.8 L386,767.3 L387.8,775.4 L389.6,782.4 L391.5,789.5 L393.4,796.6 L395.3,804.5 L397.2,809.1 L399,814.5 L400.6,820.4 L402,823.5 L403.2,825.3 L404.3,828.5 L405.4,829.6 L406.6,831.9 L407.9,828.9 L409.3,831.1 L410.8,829.3 L412.4,826.7 L414,825.4 L415.6,824.2 L417,822.8 L418.4,823.5 L419.8,822.4 L421.2,821.4 L422.5,818 L423.5,818.3 L424.3,817.1" fill="none" stroke="#2a9db0" stroke-width="1.25" stroke-linejoin="round" stroke-linecap="round" />
<path d="M278.3,781.8 L279.9,782.7 L282.1,781.4 L284.7,778.7 L287.5,778.1 L290.3,778.3 L292.9,776.7 L295.4,771.6 L297.8,767.3 L300.3,764.8 L302.8,761.8 L305.2,757.3 L307.5,755.6 L309.8,751.1 L312,745.8 L314.2,737 L316.4,728.7 L318.4,720.3 L320.3,716.3 L322,710.5 L323.6,706.5 L325.1,703.4 L326.5,700.6 L327.9,697.5 L329.4,698.8 L330.9,696.9 L332.5,696.7 L334.1,696.8 L335.6,695.8 L337.1,699.4 L338.5,700.6 L339.9,702.5 L341.2,704.3 L342.4,705.6 L343.6,707.5 L344.7,710.5 L345.8,712.1 L346.8,714.3 L347.6,717.6 L348.3,721.9 L349.1,723.2 L350,725.1 L351.3,725.4 L352.9,723.1 L354.8,718.2 L356.8,709.1 L359,702.6 L361,698.3 L363,696.4 L364.7,696 L366.4,697.1 L368,698.7 L369.7,704.4 L371.4,708.6 L373.2,713.7 L375.2,718.4 L377.3,726.3 L379.5,733.8 L381.8,743.4 L383.9,747.9 L386,756.7 L387.9,765.5 L389.9,771.5 L391.7,782.9 L393.5,795 L395.3,800.5 L396.9,806.3 L398.5,812.7 L400,819.4 L401.4,824.6 L402.7,832.8 L404,840.3 L405.3,843.1 L406.5,842.2 L407.7,842 L408.8,841.8 L409.9,839.9 L411.2,837.1 L412.6,836.1 L414.4,834.6 L416.6,831.7 L418.9,829.9 L421.1,828.8 L423,827.8 L424.3,826.1" fill="none" stroke="#2a9db0" stroke-width="1.25" stroke-linejoin="round" stroke-linecap="round" />
<path d="M278.3,786.2 L279.9,785.1 L282.1,786 L284.7,785.9 L287.5,784.4 L290.3,784.9 L292.9,782.1 L295.3,782.1 L297.8,780.5 L300.2,780.6 L302.6,777.8 L305.1,774 L307.5,769.6 L310,765.2 L312.4,762.9 L314.9,756.2 L317.4,748.5 L319.8,739.9 L322.1,733.7 L324.4,726.1 L326.6,718.7 L328.8,712.4 L331,703.9 L333,698.5 L334.9,696.1 L336.6,695.4 L338.2,695.6 L339.7,700 L341.1,706.2 L342.5,709.4 L344,715.9 L345.5,718.3 L347,720.3 L348.4,724 L349.9,727.5 L351.5,731.5 L353.1,733.7 L354.9,731.9 L356.7,730.4 L358.6,723.5 L360.5,720.3 L362.3,716 L364.1,714.1 L365.7,715.7 L367.2,716.6 L368.6,719.6 L370.1,723.5 L371.6,728.4 L373.2,734 L374.9,739 L376.7,746 L378.6,755.3 L380.4,762 L382.3,769.9 L384.1,779.7 L386,786.5 L387.8,796.3 L389.7,806.2 L391.5,813.4 L393.3,824.4 L395.1,826.9 L396.9,835.2 L398.7,838 L400.4,846.2 L402.2,851.1 L403.8,856.1 L405.3,858.3 L406.7,858.2 L407.8,855.4 L408.9,853.7 L410,849 L411.2,846.8 L412.6,841.7 L414.4,839.9 L416.6,838.3 L418.9,836.2 L421.1,833.3 L423,834 L424.3,831.1" fill="none" stroke="#2a9db0" stroke-width="1.25" stroke-linejoin="round" stroke-linecap="round" />
<path d="M278.3,794.7 L279.8,793.7 L282,793.6 L284.5,792.9 L287.2,792.7 L290.1,790.6 L292.9,788.9 L295.8,787.5 L298.8,784.8 L302,782.8 L305.2,778.5 L308.3,774.9 L311.2,768.6 L313.9,764.2 L316.5,757 L319,749.8 L321.4,741 L323.7,732.2 L325.8,725.6 L327.6,719 L329.2,713.9 L330.7,707.3 L332,704.1 L333.4,698.4 L334.9,696.6 L336.4,697.4 L337.9,700.7 L339.4,702.6 L341,702.2 L342.5,705.6 L344,710.5 L345.5,714.2 L346.9,720.1 L348.3,721.7 L349.8,726.8 L351.4,729.5 L353.1,730 L355.1,730 L357.2,730.8 L359.5,726.4 L361.8,722.1 L363.9,722.2 L365.9,720.8 L367.6,722.2 L369.1,724.4 L370.6,727.8 L372,727.1 L373.4,732.3 L375,739.8 L376.8,744.3 L378.6,752.9 L380.5,760 L382.4,769.7 L384.2,781.4 L386,789.5 L387.6,799.5 L389.3,806.7 L390.8,817.1 L392.3,830.4 L393.8,841 L395.1,851 L396.3,861.8 L397.4,868.3 L398.5,876.3 L399.4,883.7 L400.4,888.3 L401.3,894.2 L402.2,902.3 L403,907.8 L403.8,915.3 L404.6,917.9 L405.5,925.9 L406.4,926.9 L407.4,925.4 L408.5,920.2 L409.7,911.8 L410.8,901.8 L411.9,895.1 L413,886.4 L414,878.6 L414.9,872.3 L415.8,866.8 L416.6,860.6 L417.5,856.5 L418.5,850.3 L419.5,844.8 L420.6,840.8 L421.7,838.2 L422.8,839 L423.7,834.7 L424.3,832.8" fill="none" stroke="#2a9db0" stroke-width="1.25" stroke-linejoin="round" stroke-linecap="round" />
<path d="M278.3,802.3 L280.3,800.1 L283,800.7 L286.3,799.5 L289.8,797.1 L293.3,795.7 L296.6,791 L299.7,787.8 L302.9,781.7 L306.1,776.1 L309.3,770.8 L312.2,762 L314.8,757.5 L317.1,751.5 L319.1,741.8 L321,733.3 L322.6,724.4 L324.2,716.5 L325.8,710.8 L327.2,704.4 L328.5,701.9 L329.6,698.8 L330.8,696.5 L331.9,695.3 L333.1,694.8 L334.3,695.9 L335.5,696.8 L336.7,698.4 L337.9,699.9 L339.1,704.1 L340.4,704.8 L341.6,705.5 L342.8,709.1 L344,710.5 L345.2,709.5 L346.4,713.7 L347.6,717.2 L348.8,719.5 L350,721.8 L351.2,725.1 L352.4,727.8 L353.6,730 L354.9,732.5 L356.4,731 L357.9,727.4 L359.4,725.4 L361,724.9 L362.5,721.1 L364.1,721 L365.6,721.1 L367,722.1 L368.5,722.3 L370,724.5 L371.6,729.6 L373.2,732.3 L374.9,738.1 L376.7,746.4 L378.6,758.3 L380.4,767.6 L382.3,778.2 L384.1,788.9 L386,794.9 L387.9,802.8 L389.7,809.4 L391.6,816.7 L393.4,822.1 L395.1,829.4 L396.7,834.6 L398.3,842.2 L399.8,845.1 L401.3,849.5 L402.7,852.8 L404.2,855.3 L405.7,855.4 L407.2,852.6 L408.7,852.1 L410.2,850.2 L411.7,848 L413.4,846.8 L415.2,845.9 L417.3,842 L419.4,837.8 L421.4,836.4 L423.1,833.7 L424.3,833" fill="none" stroke="#2a9db0" stroke-width="1.25" stroke-linejoin="round" stroke-linecap="round" />
<path d="M278.3,805.6 L280.3,805 L283,804.3 L286.3,805.3 L289.8,800 L293.3,800.4 L296.6,797.2 L299.6,793.7 L302.8,793.3 L305.9,790.3 L309,785.7 L312,779.5 L314.8,774.9 L317.5,765.8 L320.1,757.8 L322.7,748.3 L325.1,739.3 L327.3,728.1 L329.4,721.4 L331.2,715.5 L332.8,709.2 L334.3,705.9 L335.7,703.2 L337.1,700.8 L338.5,698.5 L340,701 L341.6,704.9 L343.1,709.9 L344.6,713.6 L346.1,717.3 L347.6,722.6 L349.2,725.2 L350.7,726.4 L352.2,728.6 L353.7,730 L355.3,731.5 L356.8,731.3 L358.3,729.8 L359.9,730.2 L361.5,730.3 L363,728.2 L364.5,726.2 L365.9,724 L367.2,730.6 L368.4,733.6 L369.6,737.9 L370.7,742.5 L371.9,747.9 L373.2,755.2 L374.6,762.6 L376.1,768.2 L377.6,773.9 L379.2,784.2 L380.8,790.5 L382.3,795.5 L383.8,801.6 L385.4,807.7 L386.9,814 L388.4,821.7 L389.9,827.4 L391.4,832.1 L392.9,837.4 L394.4,839.8 L395.8,845.3 L397.3,848.3 L398.8,846.9 L400.6,848.8 L402.5,849 L404.6,847.5 L406.8,847 L409.1,843.8 L411.3,842.1 L413.4,840.5 L415.4,836.4 L417.5,834.6 L419.6,833 L421.5,832.6 L423.1,830.1 L424.3,829.5" fill="none" stroke="#2a9db0" stroke-width="1.25" stroke-linejoin="round" stroke-linecap="round" />
<path d="M278.3,812.2 L280.3,810.6 L283,808.3 L286.3,807.4 L289.8,804.3 L293.3,800.9 L296.6,800.5 L299.6,796.7 L302.8,795 L305.9,793.5 L309,791.2 L312,786.7 L314.8,783 L317.5,773 L320.1,764.6 L322.7,754.2 L325.1,745 L327.3,735.9 L329.4,728.9 L331.2,723.3 L332.8,718.2 L334.3,716.1 L335.7,713.4 L337.1,708.5 L338.5,706.7 L340.1,708 L341.6,710.4 L343.2,713.8 L344.7,717.3 L346.2,719.3 L347.6,724 L349,725.3 L350.2,728.2 L351.4,729.1 L352.6,731 L353.8,734.3 L354.9,736.4 L356.2,739.1 L357.4,738.3 L358.6,739.3 L359.8,739.8 L361,738.8 L362.2,741.8 L363.4,743.2 L364.6,748 L365.8,749 L367,754.5 L368.2,758.8 L369.6,763 L371,768 L372.4,773.6 L373.9,777.2 L375.5,784.7 L377.1,788 L378.7,791.9 L380.3,796.8 L381.9,803.3 L383.6,804.9 L385.3,808.6 L387.1,813.5 L388.9,820.2 L390.8,828 L392.8,837.7 L394.8,849.7 L396.8,860.6 L398.8,869.4 L400.6,874.5 L402.2,874.1 L403.6,872.7 L405,866.7 L406.3,862.4 L407.9,856.3 L409.7,849.9 L412,845.5 L414.7,838.6 L417.6,838.4 L420.3,832.1 L422.6,827.7 L424.3,826.4" fill="none" stroke="#2a9db0" stroke-width="1.25" stroke-linejoin="round" stroke-linecap="round" />
<path d="M278.3,804.6 L279.5,803.3 L281.3,803.4 L283.3,805.5 L285.5,808.2 L287.5,808.5 L289.2,809.6 L290.6,811.3 L291.5,812.7 L292.4,814.6 L293.4,813 L294.7,811.2 L296.6,806.4 L299,800.3 L301.9,799.8 L305.1,794.8 L308.4,792.9 L311.7,789.2 L314.8,785.1 L317.7,777.5 L320.7,770.5 L323.6,762.4 L326.4,755.1 L328.9,746.8 L331.2,739.7 L333.1,731.7 L334.7,729.9 L336.1,725.1 L337.4,720 L338.8,719.4 L340.4,719.2 L342,721.1 L343.7,722.1 L345.5,724.4 L347.3,727.3 L349.2,731.7 L351.3,733.3 L353.6,731.9 L356.1,727.9 L358.7,720.8 L361.3,712 L363.7,705.5 L365.9,701.5 L367.7,701.4 L369.2,701.4 L370.6,702.6 L371.9,703.2 L373.4,706.7 L375,712.5 L377,717.8 L379.1,724.5 L381.3,732 L383.5,739 L385.7,747.9 L387.8,756.6 L389.8,765.9 L391.7,774.8 L393.5,784.2 L395.3,793.6 L397.1,801 L398.8,805.9 L400.3,809.4 L401.7,816.6 L403,822.1 L404.4,827.1 L406,829.7 L407.9,831.6 L410.4,833.3 L413.4,831.3 L416.7,826.6 L419.8,819.4 L422.4,815 L424.3,814.3" fill="none" stroke="#2a9db0" stroke-width="1.25" stroke-linejoin="round" stroke-linecap="round" />
<path d="M278.3,797 L280.3,795.6 L283,792.7 L286.3,791 L289.8,789 L293.3,786.3 L296.6,783.8 L299.7,777.5 L303,772.1 L306.2,768.1 L309.4,762.6 L312.3,756.6 L314.8,751.8 L316.9,744.6 L318.6,736 L320,727.9 L321.4,721.8 L322.6,715 L323.9,710 L325.2,707 L326.4,703.3 L327.6,700 L328.7,699.1 L329.9,699.6 L331.2,698.4 L332.7,697.4 L334.2,695.2 L335.8,694.6 L337.4,695.1 L338.9,696 L340.4,698.6 L341.6,702.3 L342.8,704.3 L343.9,707 L345,710.6 L346.2,713 L347.6,715.1 L349.3,717.3 L351.1,717.4 L353,719.4 L355,719.8 L356.8,718.8 L358.6,717.8 L360.2,716.3 L361.7,714 L363.2,712.6 L364.6,711.5 L366.1,711.3 L367.7,710.8 L369.4,708.8 L371.1,710.7 L372.9,712.1 L374.7,712.7 L376.6,716.5 L378.7,721.2 L380.8,725.5 L383.1,731.6 L385.5,740.9 L387.9,748.6 L390.4,757.2 L392.9,761.6 L395.5,768.9 L398.2,776.9 L401,783.8 L403.7,791.3 L406.3,796.6 L408.6,804.7 L410.7,807 L412.7,810.8 L414.6,813.2 L416.3,812.4 L417.8,812.1 L419.2,813.3 L420.4,814.2 L421.5,814.9 L422.4,814.3 L423.2,815.1 L423.8,813.5 L424.3,812.7" fill="none" stroke="#2a9db0" stroke-width="1.25" stroke-linejoin="round" stroke-linecap="round" />
<path d="M278.3,793.2 L280.3,790.7 L283.2,789.9 L286.5,789.9 L290.1,787.9 L293.5,786 L296.6,784.6 L299.2,783.1 L301.7,781.4 L304.1,779.9 L306.4,781.8 L308.8,779.2 L311.2,775.8 L313.6,771.3 L316.2,765.3 L318.7,758.8 L321.2,751.8 L323.5,745 L325.8,744.6 L327.8,740.5 L329.7,733.9 L331.5,724.1 L333.2,720.6 L334.9,714.7 L336.7,712.5 L338.5,713.8 L340.4,715.5 L342.2,718.1 L344,722.3 L345.8,726.1 L347.6,727.6 L349.5,728.6 L351.4,727.5 L353.2,728.9 L355.1,730.8 L356.9,727.3 L358.6,728.4 L360.2,727.9 L361.8,724.4 L363.3,723.1 L364.8,722 L366.2,718.6 L367.7,714.3 L369.2,715.4 L370.7,714.6 L372.2,717.8 L373.7,720.6 L375.2,723.5 L376.9,728.6 L378.6,734.1 L380.4,742.1 L382.2,748.4 L384.1,757.5 L386,767.5 L387.8,774.5 L389.6,782.2 L391.5,791.6 L393.4,800.2 L395.2,807.7 L397,815.7 L398.8,819.8 L400.4,826.4 L401.9,830.4 L403.4,836.2 L404.9,841.7 L406.4,845.5 L407.9,845 L409.4,846.5 L411,843.4 L412.6,840.9 L414.1,839.7 L415.6,838.3 L417,836.4 L418.4,834.6 L419.8,833.2 L421.2,833.1 L422.5,830.1 L423.5,830.2 L424.3,830.2" fill="none" stroke="#2a9db0" stroke-width="1.25" stroke-linejoin="round" stroke-linecap="round" />
<path d="M278.3,817.2 L279.1,817.5 L280.1,814.7 L281.3,815.5 L282.6,817.6 L284.1,818.7 L285.6,816.9 L287.1,816.4 L288.7,813.7 L290.4,813.3 L292.2,808.9 L294.3,805.1 L296.6,805.1 L299.2,803.9 L302.2,800.4 L305.4,799.8 L308.7,798.9 L311.9,796.2 L314.8,790.1 L317.5,782.8 L320.1,776.3 L322.6,769.3 L324.9,758.3 L327.2,751.4 L329.4,747.6 L331.4,742 L333.3,735.7 L335.1,730.6 L336.8,725.3 L338.6,723.6 L340.4,723.1 L342.2,723.4 L344,722.3 L345.8,723.3 L347.6,724.9 L349.5,725.6 L351.3,727.5 L353.1,727.3 L355,726.4 L356.9,726.2 L358.7,723.9 L360.5,724.5 L362.2,726.1 L363.9,727.8 L365.4,731.9 L366.9,737.9 L368.4,740 L369.9,748 L371.4,752.6 L372.9,756 L374.3,762.7 L375.8,768.2 L377.3,775.1 L378.9,780.5 L380.5,789.2 L382.2,794.9 L384,798.8 L385.9,806.8 L387.7,812.7 L389.6,818.8 L391.4,821.9 L393.1,829 L394.7,834.4 L396.2,838.1 L397.9,840.7 L399.9,842.6 L402.4,841.6 L405.7,842.4 L409.7,841.9 L414,838.9 L418.2,835.7 L421.8,830.7 L424.3,828.4" fill="none" stroke="#2a9db0" stroke-width="1.25" stroke-linejoin="round" stroke-linecap="round" />
<path d="M278.3,778.6 L280.3,774.1 L283,772.6 L286.3,771 L289.8,769.2 L293.3,766.7 L296.6,761.7 L299.7,759.6 L303,756.7 L306.2,755.6 L309.4,754.1 L312.3,751.6 L314.8,746.7 L316.9,741.2 L318.6,733.3 L320,726.4 L321.4,719.6 L322.6,713 L323.9,708.2 L325.2,705 L326.4,703.3 L327.6,699.7 L328.7,698.8 L329.9,696.1 L331.2,696.4 L332.7,696.5 L334.2,697.1 L335.8,697.6 L337.4,699.5 L338.9,702 L340.4,699.9 L341.7,702.9 L343,707.5 L344.2,710.5 L345.4,712.3 L346.6,715.4 L347.6,715.7 L348.6,716.5 L349.5,717.8 L350.3,716.2 L351.1,716.2 L352,719.5 L353.1,720.7 L354.5,720.1 L356,720.9 L357.6,716.6 L359.2,715.2 L360.8,711.8 L362.2,713.5 L363.5,714.5 L364.6,714 L365.7,712.8 L366.8,713.6 L368,712.8 L369.6,715.1 L371.4,719.6 L373.4,725.6 L375.6,732.1 L377.9,735.5 L380.1,738.1 L382.3,748.7 L384.5,753.9 L386.7,766.2 L388.8,776.5 L391,786.5 L393.1,793.2 L395.1,802.3 L396.9,806.4 L398.6,810.8 L400.2,815.1 L401.9,820.9 L403.8,825.8 L406.1,824 L408.9,823.5 L412.3,822.3 L415.9,820.5 L419.3,819.5 L422.2,817 L424.3,815.7" fill="none" stroke="#2a9db0" stroke-width="1.25" stroke-linejoin="round" stroke-linecap="round" />
<path d="M278.3,695.6 C278.5,695.6 279,695.7 279.5,695.7 C279.9,695.7 280.5,695.8 281.1,695.8 C281.7,695.9 282.3,695.9 283,696 C283.6,696 284.4,696.1 285.1,696.2 C285.8,696.3 286.5,696.4 287.2,696.5 C287.9,696.6 288.6,696.7 289.2,696.8 C289.9,697 290.6,697.1 291.3,697.3 C292.1,697.4 292.8,697.5 293.6,697.7 C294.3,697.9 295.1,698 295.9,698.2 C296.6,698.4 297.4,698.6 298.1,698.8 C298.8,699.1 299.5,699.3 300.2,699.6 C300.8,699.9 301.5,700.2 302,700.5 C302.6,700.9 303.1,701.2 303.6,701.6 C304,702 304.5,702.4 304.9,702.8 C305.3,703.3 305.7,703.7 306,704.2 C306.4,704.7 306.8,705.2 307.1,705.7 C307.5,706.2 307.8,706.8 308.2,707.4 C308.6,707.9 308.9,708.5 309.3,709.2 C309.7,709.8 310.1,710.5 310.5,711.2 C310.9,712 311.3,712.8 311.7,713.6 C312.1,714.4 312.5,715.2 312.9,716.1 C313.3,716.9 313.7,717.8 314.1,718.6 C314.5,719.4 314.8,720.3 315.2,721.1 C315.6,721.9 315.9,722.6 316.3,723.4 C316.6,724.1 316.9,724.8 317.3,725.5 C317.6,726.3 317.9,727 318.2,727.7 C318.5,728.4 318.8,729.1 319.1,729.8 C319.4,730.5 319.7,731.1 320,731.8 C320.3,732.4 320.6,733 320.9,733.6 C321.2,734.1 321.5,734.6 321.7,735.1 C322,735.6 322.3,736 322.5,736.4 C322.8,736.7 323,737.1 323.3,737.4 C323.5,737.7 323.7,738 324,738.3 C324.2,738.6 324.5,738.8 324.7,739 C325,739.2 325.3,739.4 325.7,739.6 C326,739.7 326.4,739.9 326.8,740 C327.3,740.1 327.8,740.2 328.3,740.3 C328.9,740.3 329.5,740.4 330.1,740.3 C330.7,740.3 331.4,740.3 332,740.3 C332.7,740.2 333.3,740.2 334,740.1 C334.6,740.1 335.2,740 335.8,740 C336.4,740 336.9,740 337.4,740 C337.9,740 338.4,740.1 338.8,740.1 C339.2,740.2 339.6,740.2 339.9,740.3 C340.3,740.3 340.7,740.4 341,740.4 C341.4,740.5 341.7,740.6 342.1,740.7 C342.4,740.7 342.8,740.8 343.1,740.9 C343.5,741 343.9,741.1 344.4,741.3 C344.8,741.4 345.2,741.5 345.7,741.7 C346.1,741.9 346.6,742.1 347,742.4 C347.5,742.6 347.9,742.8 348.4,743 C348.9,743.2 349.4,743.5 349.9,743.7 C350.4,743.8 350.9,744 351.5,744.1 C352,744.2 352.5,744.3 353.1,744.3 C353.7,744.4 354.3,744.3 355,744.2 C355.7,744.1 356.4,743.9 357.1,743.7 C357.8,743.5 358.5,743.2 359.3,743 C360,742.8 360.7,742.6 361.4,742.4 C362.1,742.2 362.8,742 363.4,742 C364,741.9 364.6,741.9 365.2,741.9 C365.7,741.9 366.2,742 366.6,742.1 C367.1,742.2 367.5,742.3 367.9,742.5 C368.2,742.6 368.6,742.8 369,743 C369.3,743.3 369.6,743.5 370,743.8 C370.3,744.1 370.7,744.5 371,744.9 C371.4,745.3 371.7,745.7 372.1,746.2 C372.5,746.7 372.9,747.2 373.3,747.7 C373.6,748.3 374,748.9 374.4,749.5 C374.8,750.1 375.2,750.8 375.6,751.5 C376,752.2 376.3,753 376.7,753.8 C377.1,754.6 377.5,755.5 377.9,756.5 C378.3,757.5 378.7,758.6 379,759.8 C379.4,760.9 379.8,762.2 380.2,763.6 C380.6,764.9 381,766.4 381.3,767.9 C381.7,769.5 382.1,771.1 382.5,772.7 C382.9,774.4 383.3,776.1 383.6,777.8 C384,779.5 384.4,781.2 384.8,783 C385.2,784.7 385.6,786.4 386,788.1 C386.4,789.9 386.8,791.6 387.2,793.4 C387.6,795.2 387.9,797 388.3,798.8 C388.7,800.7 389.1,802.5 389.5,804.4 C389.9,806.3 390.3,808.2 390.7,810.1 C391.2,812 391.6,813.9 392,815.8 C392.4,817.7 392.8,819.5 393.3,821.5 C393.7,823.5 394.2,825.6 394.6,827.8 C395.1,830.1 395.5,832.6 396,835 C396.5,837.4 397,839.9 397.4,842.2 C397.9,844.5 398.4,846.8 398.9,848.7 C399.3,850.5 399.8,852.3 400.3,853.5 C400.7,854.8 401.2,855.7 401.7,856 C402.1,856.4 402.5,856.2 403,855.7 C403.4,855.2 403.7,854.2 404.1,853.1 C404.5,852 404.9,850.5 405.3,848.9 C405.7,847.4 406.1,845.6 406.6,843.9 C407,842.1 407.5,840.3 408,838.6 C408.5,836.9 409,835.4 409.7,833.8 C410.4,832.2 411.1,830.7 411.9,829 C412.7,827.2 413.7,825.3 414.6,823.4 C415.6,821.5 416.6,819.5 417.5,817.6 C418.4,815.7 419.4,813.8 420.3,812.1 C421.1,810.5 422,808.8 422.6,807.5 C423.3,806.2 424,804.7 424.3,804.2" fill="none" stroke="#ee4fd8" stroke-width="1.3" stroke-linejoin="round" stroke-linecap="round" />
<path d="M278.3,735.1 C278.4,734.7 278.7,733.6 279,732.5 C279.3,731.5 279.7,730.2 280,728.9 C280.4,727.6 280.8,726.1 281.2,724.7 C281.6,723.2 282.1,721.7 282.5,720.3 C283,718.9 283.4,717.4 283.9,716.2 C284.3,715 284.8,713.9 285.2,712.9 C285.7,711.9 286.1,711.1 286.6,710.3 C287.1,709.5 287.6,708.7 288.1,708 C288.6,707.3 289.1,706.7 289.6,706.1 C290.1,705.5 290.6,704.9 291.1,704.4 C291.6,703.9 292.1,703.4 292.6,703 C293.1,702.5 293.6,702.1 294,701.8 C294.4,701.4 294.8,701.1 295.3,700.8 C295.7,700.6 296.1,700.3 296.4,700.2 C296.8,700 297.2,699.8 297.6,699.7 C298,699.6 298.3,699.6 298.7,699.5 C299.1,699.5 299.4,699.5 299.8,699.5 C300.2,699.6 300.5,699.6 300.9,699.7 C301.3,699.7 301.7,699.8 302.1,700 C302.5,700.1 302.9,700.2 303.2,700.4 C303.6,700.6 304,700.8 304.4,701.1 C304.8,701.3 305.2,701.6 305.6,701.9 C305.9,702.2 306.3,702.6 306.7,703 C307.1,703.3 307.5,703.8 307.9,704.2 C308.3,704.7 308.6,705.3 309,705.8 C309.4,706.4 309.8,707.1 310.2,707.8 C310.6,708.5 310.9,709.2 311.3,709.9 C311.7,710.7 312.1,711.5 312.5,712.2 C312.9,713 313.3,713.7 313.6,714.5 C314,715.2 314.4,715.9 314.8,716.6 C315.2,717.3 315.6,717.9 316,718.6 C316.3,719.3 316.7,720 317.1,720.7 C317.5,721.3 317.9,722 318.3,722.7 C318.7,723.4 319,724 319.4,724.7 C319.8,725.4 320.2,726 320.6,726.7 C321,727.3 321.4,727.9 321.7,728.5 C322.1,729.2 322.5,729.8 322.8,730.4 C323.2,731.1 323.6,731.7 323.9,732.3 C324.3,733 324.6,733.6 325,734.2 C325.3,734.8 325.7,735.4 326.1,735.9 C326.5,736.5 326.9,737 327.3,737.5 C327.7,738 328.2,738.4 328.7,738.8 C329.2,739.2 329.7,739.5 330.2,739.8 C330.8,740.1 331.4,740.3 332,740.5 C332.6,740.7 333.2,740.9 333.8,741 C334.5,741.2 335.1,741.4 335.7,741.5 C336.3,741.7 337,741.8 337.6,742 C338.1,742.1 338.7,742.3 339.3,742.5 C339.8,742.7 340.3,742.9 340.8,743.1 C341.4,743.2 341.9,743.4 342.4,743.5 C342.9,743.7 343.4,743.9 343.9,744 C344.3,744.2 344.8,744.4 345.3,744.6 C345.8,744.8 346.2,745 346.7,745.3 C347.1,745.6 347.6,745.8 348,746.2 C348.4,746.5 348.9,747 349.2,747.4 C349.6,747.9 350,748.4 350.3,748.9 C350.7,749.5 351,750 351.4,750.6 C351.7,751.1 352.1,751.7 352.5,752.2 C352.8,752.7 353.2,753.3 353.6,753.7 C354,754.1 354.5,754.5 354.9,754.8 C355.4,755.1 355.9,755.4 356.5,755.6 C357,755.7 357.6,755.9 358.2,756 C358.7,756.1 359.3,756.1 359.9,756.2 C360.5,756.3 361.2,756.3 361.7,756.4 C362.3,756.5 362.9,756.6 363.5,756.7 C364.1,756.9 364.6,757.1 365.2,757.3 C365.7,757.5 366.2,757.8 366.7,758.1 C367.3,758.3 367.8,758.6 368.3,758.9 C368.8,759.2 369.3,759.5 369.8,759.8 C370.2,760.2 370.7,760.5 371.2,760.9 C371.7,761.3 372.1,761.7 372.6,762.1 C373,762.5 373.5,763 373.9,763.5 C374.4,763.9 374.8,764.4 375.2,764.9 C375.6,765.3 376,765.8 376.4,766.3 C376.8,766.7 377.1,767.2 377.5,767.8 C377.9,768.3 378.3,768.9 378.6,769.6 C379,770.3 379.4,771 379.7,771.8 C380.1,772.6 380.5,773.5 380.9,774.6 C381.2,775.6 381.6,776.8 382,778.1 C382.4,779.4 382.8,780.8 383.2,782.3 C383.5,783.8 383.9,785.4 384.3,786.9 C384.7,788.5 385.1,790.1 385.5,791.7 C385.8,793.2 386.2,794.8 386.6,796.3 C387,797.8 387.4,799.1 387.8,800.5 C388.2,801.8 388.6,803.1 389,804.4 C389.4,805.7 389.7,807 390.1,808.3 C390.5,809.5 390.9,810.8 391.3,812 C391.7,813.2 392.1,814.4 392.5,815.5 C392.9,816.6 393.3,817.7 393.8,818.7 C394.2,819.7 394.6,820.6 395.1,821.5 C395.6,822.4 396,823.2 396.5,824 C397,824.8 397.5,825.6 398,826.3 C398.5,827 399,827.7 399.5,828.3 C400.1,828.9 400.6,829.5 401.1,829.9 C401.6,830.4 402.2,830.7 402.7,831 C403.2,831.2 403.7,831.4 404.2,831.3 C404.7,831.3 405.2,831.1 405.7,830.9 C406.2,830.6 406.7,830.1 407.2,829.6 C407.7,829 408.2,828.4 408.7,827.7 C409.2,827.1 409.7,826.3 410.2,825.6 C410.7,824.9 411.2,824.1 411.7,823.4 C412.3,822.7 412.8,822.1 413.4,821.5 C413.9,820.8 414.5,820.2 415.2,819.6 C415.8,818.9 416.6,818.2 417.3,817.4 C418,816.7 418.7,816 419.4,815.3 C420.1,814.6 420.8,813.9 421.4,813.3 C422,812.7 422.6,812.1 423.1,811.6 C423.6,811.1 424.1,810.6 424.3,810.4" fill="none" stroke="#ee4fd8" stroke-width="1.3" stroke-linejoin="round" stroke-linecap="round" />
<path d="M278.3,777.7 C278.4,777 278.6,775.3 278.8,773.8 C279,772.2 279.3,770.3 279.6,768.3 C279.8,766.4 280.1,764.1 280.4,761.9 C280.7,759.7 281.1,757.4 281.4,755.1 C281.7,752.9 282.1,750.5 282.4,748.4 C282.7,746.3 283.1,744.4 283.4,742.5 C283.8,740.6 284.1,738.9 284.5,737 C284.8,735.2 285.2,733.4 285.6,731.6 C286,729.8 286.4,728 286.8,726.3 C287.2,724.5 287.6,722.8 288,721.3 C288.4,719.7 288.8,718.1 289.2,716.7 C289.6,715.4 290,714.1 290.3,712.9 C290.7,711.7 291.1,710.6 291.5,709.7 C291.9,708.7 292.2,707.8 292.6,707 C293,706.2 293.3,705.4 293.7,704.8 C294.1,704.1 294.5,703.5 294.9,703 C295.2,702.5 295.6,702 296,701.6 C296.4,701.2 296.9,700.8 297.3,700.5 C297.7,700.2 298.1,700 298.6,699.8 C299,699.7 299.5,699.6 299.9,699.5 C300.4,699.5 300.9,699.5 301.3,699.6 C301.8,699.7 302.3,699.8 302.8,700 C303.2,700.2 303.7,700.5 304.2,700.8 C304.7,701.1 305.2,701.4 305.7,701.8 C306.2,702.2 306.6,702.6 307.1,703.1 C307.6,703.6 308.1,704.2 308.6,704.8 C309.1,705.5 309.6,706.1 310.1,706.9 C310.6,707.6 311.1,708.3 311.6,709.1 C312.1,709.9 312.6,710.7 313.2,711.6 C313.7,712.4 314.2,713.2 314.8,714.1 C315.4,715 315.9,715.9 316.5,716.9 C317.1,717.9 317.7,719 318.3,720.1 C318.9,721.1 319.5,722.3 320.2,723.4 C320.8,724.5 321.4,725.6 322,726.7 C322.7,727.8 323.3,728.8 323.9,729.8 C324.5,730.8 325.1,731.7 325.8,732.6 C326.4,733.5 326.9,734.3 327.5,735.2 C328.1,736 328.7,736.9 329.3,737.6 C329.8,738.4 330.4,739.2 331,739.9 C331.6,740.7 332.2,741.4 332.8,742 C333.4,742.6 334,743.2 334.7,743.7 C335.3,744.2 336,744.6 336.7,745 C337.4,745.3 338.2,745.5 338.9,745.7 C339.7,745.8 340.5,745.9 341.3,745.9 C342.1,745.9 342.9,745.8 343.8,745.7 C344.6,745.7 345.5,745.5 346.3,745.4 C347.1,745.3 348,745.2 348.8,745.1 C349.7,745 350.5,745 351.3,745 C352.1,744.9 352.9,744.9 353.8,744.8 C354.6,744.8 355.5,744.7 356.3,744.6 C357.1,744.5 358,744.4 358.8,744.3 C359.7,744.3 360.5,744.2 361.3,744.2 C362.1,744.2 362.9,744.3 363.7,744.4 C364.4,744.5 365.2,744.7 365.9,745 C366.6,745.2 367.3,745.4 367.9,745.7 C368.6,745.9 369.2,746.1 369.8,746.4 C370.4,746.7 371,747 371.6,747.4 C372.2,747.9 372.8,748.3 373.3,749 C373.9,749.6 374.5,750.4 375.1,751.4 C375.7,752.3 376.2,753.4 376.9,754.8 C377.5,756.3 378.1,758 378.7,759.9 C379.3,761.8 379.9,764.1 380.6,766.3 C381.2,768.6 381.8,771.2 382.4,773.7 C383.1,776.1 383.7,778.7 384.3,781.2 C384.9,783.6 385.5,786.1 386.1,788.3 C386.7,790.4 387.2,792.4 387.8,794.3 C388.4,796.2 388.9,797.8 389.4,799.5 C390,801.2 390.5,802.8 391,804.3 C391.5,805.8 392,807.3 392.5,808.7 C393,810.1 393.5,811.4 394,812.6 C394.4,813.8 394.9,815 395.4,816.1 C395.9,817.1 396.4,818.1 396.9,819 C397.4,819.9 397.9,820.7 398.3,821.5 C398.8,822.2 399.2,822.9 399.6,823.5 C400.1,824.1 400.5,824.7 400.9,825.1 C401.4,825.5 401.8,825.9 402.3,826.1 C402.8,826.4 403.4,826.5 404,826.6 C404.6,826.6 405.3,826.6 406.1,826.4 C406.8,826.2 407.8,825.8 408.8,825.2 C409.8,824.6 411,823.8 412.1,822.9 C413.3,822.1 414.6,821 415.7,820.1 C416.9,819.1 418.2,818 419.2,817.1 C420.3,816.2 421.4,815.3 422.2,814.5 C423.1,813.8 424,813.1 424.3,812.8" fill="none" stroke="#ee4fd8" stroke-width="1.3" stroke-linejoin="round" stroke-linecap="round" />
<path d="M278.3,788.1 C278.6,787.8 279.5,787 280.3,786.2 C281.1,785.5 282,784.6 283,783.7 C284,782.7 285.2,781.7 286.3,780.6 C287.4,779.5 288.6,778.3 289.8,777.1 C291,775.9 292.2,774.7 293.3,773.4 C294.4,772.2 295.5,770.9 296.6,769.6 C297.6,768.3 298.6,767 299.7,765.6 C300.7,764.2 301.8,762.8 302.9,761.3 C304,759.8 305.1,758.2 306.1,756.7 C307.2,755.1 308.2,753.5 309.3,752 C310.3,750.4 311.3,748.8 312.2,747.2 C313.1,745.6 314,744.1 314.8,742.5 C315.6,740.9 316.4,739.3 317.1,737.6 C317.8,735.9 318.5,734.1 319.1,732.3 C319.8,730.6 320.4,728.8 321,727.1 C321.5,725.4 322.1,723.6 322.6,722.1 C323.2,720.5 323.7,719 324.2,717.6 C324.7,716.3 325.3,715.1 325.8,714.1 C326.2,713.1 326.7,712.2 327.2,711.4 C327.6,710.7 328,710 328.5,709.4 C328.9,708.8 329.2,708.3 329.6,707.9 C330,707.5 330.4,707.2 330.8,707 C331.1,706.8 331.5,706.7 331.9,706.6 C332.3,706.6 332.7,706.6 333.1,706.7 C333.4,706.8 333.9,707 334.3,707.4 C334.7,707.7 335.1,708.2 335.5,708.7 C335.9,709.2 336.3,709.8 336.7,710.5 C337.1,711.2 337.5,711.9 337.9,712.7 C338.3,713.5 338.7,714.3 339.1,715.2 C339.5,716 340,716.9 340.4,717.8 C340.7,718.8 341.1,719.8 341.5,720.9 C341.9,722 342.3,723.3 342.6,724.6 C343,725.9 343.4,727.3 343.8,728.6 C344.2,729.9 344.5,731.3 344.9,732.5 C345.4,733.8 345.8,735 346.2,736 C346.7,737.1 347.1,738 347.6,738.8 C348.2,739.6 348.7,740.2 349.3,740.8 C349.8,741.4 350.4,741.8 351,742.3 C351.6,742.7 352.3,743 352.9,743.3 C353.5,743.6 354.2,743.9 354.8,744.1 C355.5,744.3 356.1,744.5 356.7,744.6 C357.4,744.7 358,744.9 358.6,745 C359.2,745 359.8,745 360.4,744.8 C361.1,744.7 361.7,744.4 362.3,744.1 C362.9,743.9 363.6,743.5 364.2,743.2 C364.8,742.9 365.4,742.6 366,742.4 C366.6,742.2 367.2,742 367.8,742 C368.4,742 369,742.2 369.6,742.5 C370.1,742.8 370.6,743.2 371.2,743.6 C371.7,744 372.2,744.4 372.7,745 C373.2,745.5 373.6,746.1 374.1,746.8 C374.6,747.5 375.1,748.4 375.6,749.3 C376.1,750.3 376.6,751.4 377.1,752.8 C377.6,754.1 378.1,755.5 378.7,757.3 C379.2,759.1 379.8,761.2 380.4,763.6 C381,765.9 381.6,768.7 382.3,771.5 C382.9,774.3 383.5,777.4 384.1,780.4 C384.8,783.3 385.4,786.4 386,789.3 C386.7,792.2 387.3,795 387.9,797.5 C388.5,800 389.1,802.2 389.6,804.2 C390.2,806.2 390.7,807.7 391.3,809.3 C391.8,810.8 392.3,812.2 392.8,813.4 C393.3,814.7 393.8,815.8 394.3,816.8 C394.8,817.9 395.3,818.8 395.8,819.8 C396.3,820.7 396.8,821.6 397.3,822.5 C397.7,823.4 398.2,824.2 398.8,825.2 C399.3,826.1 399.8,827.1 400.3,828 C400.8,829 401.3,829.9 401.8,830.8 C402.3,831.7 402.8,832.6 403.3,833.4 C403.8,834.2 404.3,835 404.8,835.5 C405.3,836.1 405.8,836.7 406.4,837 C406.9,837.3 407.4,837.5 407.9,837.5 C408.4,837.5 408.9,837.3 409.4,836.9 C409.9,836.5 410.5,835.9 411,835.3 C411.5,834.6 412,833.8 412.6,833 C413.1,832.1 413.6,831.2 414.1,830.3 C414.6,829.4 415.1,828.4 415.6,827.6 C416.1,826.7 416.5,826 417,825.2 C417.5,824.4 417.9,823.6 418.4,822.8 C418.9,822 419.4,821.1 419.8,820.2 C420.3,819.4 420.8,818.5 421.2,817.6 C421.7,816.8 422.1,815.9 422.5,815.2 C422.9,814.4 423.2,813.7 423.5,813.1 C423.8,812.5 424.2,811.8 424.3,811.6" fill="none" stroke="#ee4fd8" stroke-width="1.3" stroke-linejoin="round" stroke-linecap="round" />
<path d="M278.7,788.6 C278.8,788.5 279.3,788 279.8,787.5 C280.2,787.1 280.7,786.5 281.3,785.9 C281.8,785.4 282.4,784.7 283,784.1 C283.7,783.4 284.3,782.7 285,782.1 C285.6,781.4 286.3,780.7 287,780.1 C287.6,779.5 288.3,778.9 288.9,778.3 C289.5,777.7 290.1,777.2 290.8,776.6 C291.4,776.1 292.1,775.5 292.8,775 C293.4,774.5 294.1,773.9 294.8,773.4 C295.5,772.9 296.1,772.3 296.8,771.8 C297.5,771.2 298.1,770.7 298.7,770.1 C299.4,769.6 300,769 300.6,768.4 C301.1,767.8 301.7,767.3 302.2,766.7 C302.8,766.2 303.3,765.7 303.8,765.2 C304.3,764.6 304.8,764.1 305.3,763.5 C305.8,763 306.2,762.4 306.7,761.8 C307.2,761.1 307.7,760.5 308.2,759.7 C308.7,759 309.2,758.2 309.7,757.3 C310.2,756.4 310.7,755.4 311.3,754.4 C311.8,753.4 312.4,752.3 312.9,751.1 C313.5,750 314,748.8 314.6,747.6 C315.1,746.4 315.7,745.1 316.2,743.9 C316.7,742.6 317.2,741.3 317.7,740.1 C318.2,738.8 318.7,737.6 319.2,736.3 C319.6,735 320.1,733.8 320.5,732.4 C320.9,731.1 321.3,729.6 321.7,728.2 C322.1,726.8 322.4,725.3 322.8,724 C323.2,722.6 323.5,721.1 323.9,719.8 C324.3,718.5 324.6,717.2 325,716.1 C325.4,714.9 325.7,713.9 326.1,712.9 C326.5,711.9 326.9,711 327.3,710.2 C327.7,709.3 328,708.5 328.4,707.8 C328.8,707 329.2,706.4 329.6,705.7 C330,705.1 330.4,704.6 330.7,704.1 C331.1,703.7 331.5,703.3 331.9,702.9 C332.3,702.6 332.7,702.4 333.1,702.3 C333.4,702.1 333.8,702.1 334.2,702.1 C334.5,702.2 334.9,702.3 335.3,702.5 C335.6,702.7 336,703 336.4,703.3 C336.7,703.7 337.1,704.1 337.5,704.6 C337.9,705 338.3,705.5 338.7,706.1 C339.1,706.7 339.5,707.2 340,707.9 C340.4,708.7 340.9,709.4 341.4,710.4 C342,711.3 342.5,712.4 343.1,713.5 C343.6,714.7 344.2,715.9 344.7,717 C345.3,718.2 345.9,719.4 346.4,720.5 C347,721.5 347.5,722.6 348,723.5 C348.5,724.3 349,725 349.5,725.6 C349.9,726.1 350.4,726.5 350.8,726.8 C351.2,727.1 351.6,727.3 352,727.4 C352.4,727.5 352.7,727.5 353.1,727.5 C353.5,727.5 353.8,727.4 354.2,727.4 C354.6,727.3 354.9,727.2 355.3,727.1 C355.7,727 356,726.9 356.4,726.8 C356.8,726.7 357.2,726.6 357.6,726.4 C358,726.2 358.3,725.9 358.7,725.6 C359.1,725.4 359.5,725 359.9,724.7 C360.3,724.5 360.6,724.1 361,723.9 C361.4,723.7 361.8,723.5 362.2,723.3 C362.6,723.2 363,723.2 363.3,723.2 C363.7,723.3 364.1,723.3 364.5,723.4 C364.8,723.5 365.2,723.6 365.6,723.7 C365.9,723.8 366.3,724 366.7,724.2 C367,724.5 367.4,724.8 367.8,725.2 C368.2,725.6 368.6,726.1 369,726.8 C369.4,727.4 369.8,728.2 370.3,729.2 C370.7,730.1 371.2,731.2 371.7,732.5 C372.2,733.7 372.7,735.2 373.3,736.7 C373.8,738.1 374.3,739.8 374.9,741.4 C375.4,743.1 376,744.8 376.5,746.6 C377.1,748.4 377.6,750.2 378.2,752 C378.7,753.8 379.2,755.5 379.8,757.3 C380.3,759.1 380.8,760.9 381.3,762.8 C381.8,764.6 382.3,766.6 382.8,768.6 C383.3,770.5 383.8,772.6 384.3,774.6 C384.8,776.6 385.3,778.6 385.8,780.6 C386.3,782.6 386.8,784.6 387.4,786.5 C387.9,788.4 388.4,790.2 388.9,792.1 C389.4,794 389.9,795.8 390.5,797.6 C391,799.5 391.6,801.4 392.1,803.2 C392.7,805 393.2,806.9 393.8,808.7 C394.3,810.4 394.9,812.2 395.4,813.8 C395.9,815.5 396.4,817 396.9,818.5 C397.4,819.9 397.9,821.2 398.4,822.5 C398.8,823.7 399.3,824.8 399.7,825.8 C400.1,826.8 400.4,827.8 400.8,828.6 C401.2,829.5 401.5,830.3 401.9,831 C402.2,831.7 402.5,832.3 402.9,832.8 C403.3,833.4 403.6,833.8 404,834.2 C404.4,834.6 404.9,834.9 405.3,835 C405.8,835.2 406.3,835.3 406.8,835.2 C407.2,835.1 407.8,834.9 408.3,834.6 C408.8,834.4 409.4,834 409.9,833.6 C410.4,833.2 411,832.7 411.6,832.2 C412.1,831.7 412.7,831.2 413.2,830.8 C413.7,830.3 414.3,829.9 414.8,829.5 C415.4,829.1 415.9,828.7 416.5,828.2 C417.1,827.7 417.7,827.2 418.3,826.7 C418.9,826.1 419.6,825.6 420.1,825.1 C420.7,824.6 421.3,824 421.8,823.6 C422.4,823.1 422.9,822.6 423.3,822.3 C423.7,821.9 424.1,821.5 424.3,821.3" fill="none" stroke="#000" stroke-width="2.7" stroke-linejoin="round" stroke-linecap="round" />
</g>
<path d="M278.3,694.3 L278.3,942 L424.4,942" fill="none" stroke="#111" stroke-width="1.6"/>
<line x1="278.3" y1="695.6" x2="284.8" y2="695.6" stroke="#111" stroke-width="1.4" />
<text transform="translate(276,700.7) scale(1,1.04)" font-size="13.9" text-anchor="end" fill="#111" stroke="#111" stroke-width="0.18" >1.0</text>
<line x1="278.3" y1="757.3" x2="284.8" y2="757.3" stroke="#111" stroke-width="1.4" />
<text transform="translate(276,762.4) scale(1,1.04)" font-size="13.9" text-anchor="end" fill="#111" stroke="#111" stroke-width="0.18" >0.5</text>
<line x1="278.3" y1="819" x2="284.8" y2="819" stroke="#111" stroke-width="1.4" />
<text transform="translate(276,824.1) scale(1,1.04)" font-size="13.9" text-anchor="end" fill="#111" stroke="#111" stroke-width="0.18" >0.0</text>
<line x1="278.3" y1="880.7" x2="284.8" y2="880.7" stroke="#111" stroke-width="1.4" />
<text transform="translate(276,885.8) scale(1,1.04)" font-size="13.9" text-anchor="end" fill="#111" stroke="#111" stroke-width="0.18" >-0.5</text>
<line x1="278.3" y1="942" x2="284.8" y2="942" stroke="#111" stroke-width="1.4" />
<text transform="translate(276,947.1) scale(1,1.04)" font-size="13.9" text-anchor="end" fill="#111" stroke="#111" stroke-width="0.18" >-1.0</text>
<line x1="278.3" y1="942" x2="278.3" y2="935.5" stroke="#111" stroke-width="1.4" />
<text transform="translate(278.3,959.7) scale(1,1.04)" font-size="13.9" text-anchor="middle" fill="#111" stroke="#111" stroke-width="0.18" >300</text>
<line x1="314.8" y1="942" x2="314.8" y2="935.5" stroke="#111" stroke-width="1.4" />
<text transform="translate(314.8,959.7) scale(1,1.04)" font-size="13.9" text-anchor="middle" fill="#111" stroke="#111" stroke-width="0.18" >400</text>
<line x1="351.3" y1="942" x2="351.3" y2="935.5" stroke="#111" stroke-width="1.4" />
<text transform="translate(351.3,959.7) scale(1,1.04)" font-size="13.9" text-anchor="middle" fill="#111" stroke="#111" stroke-width="0.18" >500</text>
<line x1="387.8" y1="942" x2="387.8" y2="935.5" stroke="#111" stroke-width="1.4" />
<text transform="translate(387.8,959.7) scale(1,1.04)" font-size="13.9" text-anchor="middle" fill="#111" stroke="#111" stroke-width="0.18" >600</text>
<line x1="424.3" y1="942" x2="424.3" y2="935.5" stroke="#111" stroke-width="1.4" />
<text transform="translate(424.3,959.7) scale(1,1.04)" font-size="13.9" text-anchor="middle" fill="#111" stroke="#111" stroke-width="0.18" >700</text>
<line x1="278.3" y1="819" x2="424.3" y2="819" stroke="#111" stroke-width="1.5" stroke-dasharray="1.5,1.6"/>
<text transform="translate(233,981.3) scale(1,1.04)" font-size="17.2" text-anchor="middle" fill="#111" stroke="#111" stroke-width="0.18" >Wavelength [nm]</text>
<text transform="translate(466.9,682.8) scale(1,1.04)" font-size="21.5" text-anchor="start" fill="#111" stroke="#111" stroke-width="0.18" >G</text>
<defs><linearGradient id="gbar" x1="0" x2="1" y1="0" y2="0"><stop offset="0" stop-color="#27a0b6"/><stop offset="0.5" stop-color="#17ac6a"/><stop offset="1" stop-color="#12bb12"/></linearGradient></defs>
<line x1="528.2" y1="694" x2="528.2" y2="943" stroke="#111" stroke-width="1.6" />
<rect x="527.4" y="935.8" width="146.8" height="6.8" fill="url(#gbar)"/>
<line x1="528.2" y1="711.6" x2="538.2" y2="711.6" stroke="#111" stroke-width="1.5" />
<text transform="translate(522.8,716.7) scale(1,1.04)" font-size="13.9" text-anchor="end" fill="#111" stroke="#111" stroke-width="0.18" >D</text>
<line x1="528.2" y1="738.3" x2="538.2" y2="738.3" stroke="#111" stroke-width="1.5" />
<text transform="translate(522.8,743.4) scale(1,1.04)" font-size="13.9" text-anchor="end" fill="#111" stroke="#111" stroke-width="0.18" >10</text>
<line x1="528.2" y1="764.4" x2="538.2" y2="764.4" stroke="#111" stroke-width="1.5" />
<text transform="translate(522.8,769.5) scale(1,1.04)" font-size="13.9" text-anchor="end" fill="#111" stroke="#111" stroke-width="0.18" >EQ</text>
<line x1="528.2" y1="791.2" x2="538.2" y2="791.2" stroke="#111" stroke-width="1.5" />
<text transform="translate(522.8,796.3) scale(1,1.04)" font-size="13.9" text-anchor="end" fill="#111" stroke="#111" stroke-width="0.18" >-10</text>
<line x1="528.2" y1="817.2" x2="538.2" y2="817.2" stroke="#111" stroke-width="1.5" />
<text transform="translate(522.8,822.3) scale(1,1.04)" font-size="13.9" text-anchor="end" fill="#111" stroke="#111" stroke-width="0.18" >-20</text>
<line x1="528.2" y1="843.8" x2="538.2" y2="843.8" stroke="#111" stroke-width="1.5" />
<text transform="translate(522.8,848.9) scale(1,1.04)" font-size="13.9" text-anchor="end" fill="#111" stroke="#111" stroke-width="0.18" >-30</text>
<line x1="528.2" y1="869.8" x2="538.2" y2="869.8" stroke="#111" stroke-width="1.5" />
<text transform="translate(522.8,874.9) scale(1,1.04)" font-size="13.9" text-anchor="end" fill="#111" stroke="#111" stroke-width="0.18" >-40</text>
<line x1="528.2" y1="896.4" x2="538.2" y2="896.4" stroke="#111" stroke-width="1.5" />
<text transform="translate(522.8,901.5) scale(1,1.04)" font-size="13.9" text-anchor="end" fill="#111" stroke="#111" stroke-width="0.18" >-50</text>
<line x1="528.2" y1="922.8" x2="538.2" y2="922.8" stroke="#111" stroke-width="1.5" />
<text transform="translate(522.8,927.9) scale(1,1.04)" font-size="13.9" text-anchor="end" fill="#111" stroke="#111" stroke-width="0.18" >V</text>
<line x1="602.9" y1="694" x2="602.9" y2="942" stroke="#111" stroke-width="1.5" />
<rect x="602.9" y="703.3" width="14" height="15.9" fill="#66ee66" stroke="#111" stroke-width="1.3"/>
<rect x="602.9" y="729.7" width="4.7" height="16.4" fill="#eeeeee" stroke="#111" stroke-width="1.3"/>
<rect x="602.9" y="756.1" width="7.7" height="16.1" fill="#f2f070" stroke="#111" stroke-width="1.3"/>
<rect x="602.9" y="782.7" width="10.5" height="15.5" fill="#e3e3e3" stroke="#111" stroke-width="1.3"/>
<rect x="602.9" y="809.3" width="1.5" height="15.2" fill="#222" stroke="#111" stroke-width="1.3"/>
<rect x="596.6" y="835.5" width="6.3" height="15.9" fill="#e3e3e3" stroke="#111" stroke-width="1.3"/>
<rect x="581.9" y="861.4" width="21" height="16.4" fill="#e3e3e3" stroke="#111" stroke-width="1.3"/>
<rect x="602.9" y="888.5" width="1.5" height="15.5" fill="#222" stroke="#111" stroke-width="1.3"/>
<rect x="584.9" y="914.5" width="18" height="15.6" fill="#2382f0" stroke="#111" stroke-width="1.3"/>
<path d="M608.1,711.5 L616,711.5 M608.1,709.3 L608.1,713.7 M616,709.3 L616,713.7" stroke="#777" stroke-width="1.2" fill="none"/>
<path d="M601.8,764.3 L619.3,764.3 M601.8,762.0999999999999 L601.8,766.5 M619.3,762.0999999999999 L619.3,766.5" stroke="#777" stroke-width="1.2" fill="none"/>
<path d="M610,790.9 L616,790.9 M610,788.6999999999999 L610,793.1 M616,788.6999999999999 L616,793.1" stroke="#777" stroke-width="1.2" fill="none"/>
<path d="M600.6,816.8 L607.6,816.8 M600.6,814.5999999999999 L600.6,819.0 M607.6,814.5999999999999 L607.6,819.0" stroke="#777" stroke-width="1.2" fill="none"/>
<path d="M592.4,843.7 L604.1,843.7 M592.4,841.5 L592.4,845.9000000000001 M604.1,841.5 L604.1,845.9000000000001" stroke="#777" stroke-width="1.2" fill="none"/>
<path d="M560.2,869.6 L596.6,869.6 M560.2,867.4 L560.2,871.8000000000001 M596.6,867.4 L596.6,871.8000000000001" stroke="#777" stroke-width="1.2" fill="none"/>
<path d="M598.3,896.2 L609.9,896.2 M598.3,894.0 L598.3,898.4000000000001 M609.9,894.0 L609.9,898.4000000000001" stroke="#777" stroke-width="1.2" fill="none"/>
<path d="M580.3,922.2 L589.6,922.2 M580.3,920.0 L580.3,924.4000000000001 M589.6,920.0 L589.6,924.4000000000001" stroke="#777" stroke-width="1.2" fill="none"/>
<circle cx="598.3" cy="708" r="2.6" fill="#000"/>
<circle cx="600.6" cy="714.5" r="2.6" fill="#000"/>
<circle cx="608.1" cy="711.5" r="2.6" fill="#000"/>
<circle cx="622.8" cy="705.2" r="2.6" fill="#000"/>
<circle cx="624" cy="711.5" r="2.6" fill="#000"/>
<circle cx="620.4" cy="717.6" r="2.6" fill="#000"/>
<circle cx="638" cy="711.5" r="2.6" fill="#000"/>
<circle cx="608.3" cy="737.9" r="2.6" fill="#000"/>
<circle cx="588.9" cy="764.3" r="2.6" fill="#000"/>
<circle cx="599.4" cy="764.3" r="2.6" fill="#000"/>
<circle cx="606.4" cy="758.2" r="2.6" fill="#000"/>
<circle cx="605.3" cy="764.7" r="2.6" fill="#000"/>
<circle cx="611.1" cy="764.3" r="2.6" fill="#000"/>
<circle cx="601.8" cy="770.6" r="2.6" fill="#000"/>
<circle cx="608.8" cy="770.6" r="2.6" fill="#000"/>
<circle cx="646.1" cy="764.3" r="2.6" fill="#000"/>
<circle cx="616.2" cy="784.1" r="2.6" fill="#000"/>
<circle cx="610.4" cy="790.9" r="2.6" fill="#000"/>
<circle cx="614.6" cy="797" r="2.6" fill="#000"/>
<circle cx="586.6" cy="815.2" r="2.6" fill="#000"/>
<circle cx="589.4" cy="818.2" r="2.6" fill="#000"/>
<circle cx="595.9" cy="816.8" r="2.6" fill="#000"/>
<circle cx="611.1" cy="810.5" r="2.6" fill="#000"/>
<circle cx="614.6" cy="813.5" r="2.6" fill="#000"/>
<circle cx="609.9" cy="816.8" r="2.6" fill="#000"/>
<circle cx="611.1" cy="822.2" r="2.6" fill="#000"/>
<circle cx="612.3" cy="823.4" r="2.6" fill="#000"/>
<circle cx="540.3" cy="843.7" r="2.6" fill="#000"/>
<circle cx="581.2" cy="843.2" r="2.6" fill="#000"/>
<circle cx="587.7" cy="843.2" r="2.6" fill="#000"/>
<circle cx="600.6" cy="840.2" r="2.6" fill="#000"/>
<circle cx="604.1" cy="836.9" r="2.6" fill="#000"/>
<circle cx="607.6" cy="840.9" r="2.6" fill="#000"/>
<circle cx="612.3" cy="845.1" r="2.6" fill="#000"/>
<circle cx="601.8" cy="846.7" r="2.6" fill="#000"/>
<circle cx="601.3" cy="849.5" r="2.6" fill="#000"/>
<circle cx="551.5" cy="869.6" r="2.6" fill="#000"/>
<circle cx="569.1" cy="869.6" r="2.6" fill="#000"/>
<circle cx="608.8" cy="869.6" r="2.6" fill="#000"/>
<circle cx="592.4" cy="896.2" r="2.6" fill="#000"/>
<circle cx="610.6" cy="889.9" r="2.6" fill="#000"/>
<circle cx="609.5" cy="902.3" r="2.6" fill="#000"/>
<circle cx="569.5" cy="916.1" r="2.6" fill="#000"/>
<circle cx="576.8" cy="916.1" r="2.6" fill="#000"/>
<circle cx="587.7" cy="916.1" r="2.6" fill="#000"/>
<circle cx="570.2" cy="928.5" r="2.6" fill="#000"/>
<circle cx="580.3" cy="928.5" r="2.6" fill="#000"/>
<circle cx="587.7" cy="928.5" r="2.6" fill="#000"/>
<circle cx="594.3" cy="922.2" r="2.6" fill="#000"/>
<circle cx="601.8" cy="922.2" r="2.6" fill="#000"/>
<text transform="translate(530.8,957.8) scale(1,1.04)" font-size="13.9" text-anchor="middle" fill="#111" stroke="#111" stroke-width="0.18" >0.3</text>
<text transform="translate(602.6,957.8) scale(1,1.04)" font-size="13.9" text-anchor="middle" fill="#111" stroke="#111" stroke-width="0.18" >1</text>
<text transform="translate(674.1,957.8) scale(1,1.04)" font-size="13.9" text-anchor="middle" fill="#111" stroke="#111" stroke-width="0.18" >3</text>
<text transform="translate(599.5,977.1) scale(1,1.04)" font-size="17" text-anchor="middle" fill="#111" stroke="#111" stroke-width="0.18" >G/B sensitivity</text>
<text transform="translate(489.3,819.5) rotate(-90)" font-size="17" text-anchor="middle" fill="#111" stroke="#111" stroke-width="0.18">Elevation [deg], region [D, EQ, V]</text>
</svg></body></html>
